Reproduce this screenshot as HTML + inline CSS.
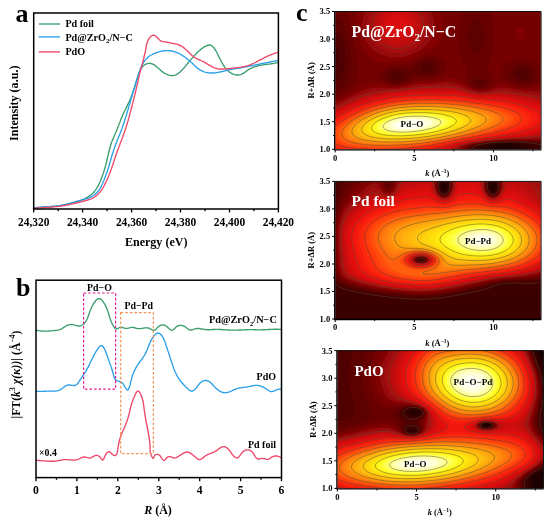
<!DOCTYPE html><html><head><meta charset="utf-8"><title>XANES / EXAFS / wavelet figure</title>
<style>html,body{margin:0;padding:0;background:#fff}svg{display:block}text{font-family:"Liberation Serif","DejaVu Serif",serif;font-weight:bold}</style></head><body>
<svg width="550" height="522" viewBox="0 0 550 522">
<rect width="550" height="522" fill="#fff"/>
<defs><filter id="soft" x="-2%" y="-3%" width="104%" height="106%"><feGaussianBlur stdDeviation="0.7"/></filter></defs>
<g fill="none" stroke-width="1.35" stroke-linejoin="round" stroke-linecap="round">
<path d="M33.5 208.0 L34.5 207.9 L35.5 207.7 L36.5 207.6 L37.5 207.5 L38.5 207.4 L39.5 207.3 L40.5 207.3 L41.5 207.2 L42.5 207.1 L43.5 207.1 L44.5 207.0 L45.5 206.9 L46.5 206.9 L47.5 206.8 L48.5 206.8 L49.5 206.7 L50.5 206.7 L51.5 206.6 L52.5 206.5 L53.5 206.4 L54.5 206.4 L55.5 206.3 L56.5 206.2 L57.5 206.0 L58.5 205.9 L59.5 205.8 L60.5 205.6 L61.5 205.5 L62.4 205.3 L63.4 205.1 L64.4 204.9 L65.4 204.7 L66.4 204.4 L67.3 204.2 L68.3 204.0 L69.3 203.7 L70.3 203.5 L71.2 203.2 L72.2 202.9 L73.2 202.7 L74.1 202.4 L75.1 202.1 L76.1 201.9 L77.0 201.6 L78.0 201.3 L78.9 201.0 L79.9 200.6 L80.8 200.3 L81.8 199.9 L82.7 199.6 L83.6 199.2 L84.5 198.8 L85.5 198.3 L86.4 197.9 L87.2 197.4 L88.1 196.9 L89.0 196.3 L89.8 195.8 L90.6 195.2 L91.4 194.5 L92.1 193.9 L92.8 193.2 L93.5 192.5 L94.2 191.7 L94.8 190.9 L95.4 190.1 L96.0 189.3 L96.6 188.4 L97.1 187.6 L97.6 186.7 L98.1 185.8 L98.6 184.9 L99.0 184.0 L99.5 183.1 L99.9 182.2 L100.3 181.3 L100.7 180.4 L101.0 179.4 L101.4 178.5 L101.8 177.6 L102.1 176.6 L102.4 175.7 L102.8 174.7 L103.1 173.8 L103.4 172.8 L103.7 171.9 L104.0 170.9 L104.3 170.0 L104.6 169.0 L104.9 168.0 L105.2 167.1 L105.4 166.1 L105.7 165.1 L106.0 164.2 L106.2 163.2 L106.5 162.2 L106.7 161.3 L106.9 160.3 L107.2 159.3 L107.4 158.3 L107.6 157.3 L107.8 156.4 L108.0 155.4 L108.3 154.4 L108.5 153.4 L108.7 152.4 L108.9 151.5 L109.2 150.5 L109.4 149.5 L109.7 148.5 L109.9 147.6 L110.2 146.6 L110.5 145.7 L110.8 144.7 L111.1 143.7 L111.4 142.8 L111.8 141.9 L112.1 140.9 L112.5 140.0 L112.9 139.1 L113.3 138.2 L113.7 137.2 L114.1 136.3 L114.5 135.4 L114.9 134.5 L115.3 133.6 L115.7 132.6 L116.1 131.7 L116.5 130.8 L116.9 129.9 L117.2 128.9 L117.6 128.0 L118.0 127.1 L118.3 126.1 L118.7 125.2 L119.1 124.2 L119.4 123.3 L119.8 122.4 L120.1 121.4 L120.5 120.5 L120.8 119.6 L121.2 118.6 L121.6 117.7 L122.0 116.8 L122.4 115.9 L122.8 114.9 L123.2 114.0 L123.6 113.1 L124.0 112.2 L124.5 111.3 L124.9 110.4 L125.4 109.5 L125.8 108.6 L126.3 107.7 L126.7 106.8 L127.2 105.9 L127.6 105.0 L128.0 104.1 L128.5 103.2 L128.9 102.3 L129.3 101.4 L129.7 100.5 L130.1 99.6 L130.5 98.6 L130.9 97.7 L131.2 96.8 L131.6 95.8 L131.9 94.9 L132.3 93.9 L132.6 93.0 L132.9 92.1 L133.2 91.1 L133.6 90.1 L133.9 89.2 L134.2 88.2 L134.5 87.3 L134.8 86.3 L135.1 85.4 L135.3 84.4 L135.6 83.4 L135.9 82.5 L136.2 81.5 L136.5 80.6 L136.8 79.6 L137.1 78.6 L137.4 77.7 L137.7 76.7 L138.0 75.8 L138.3 74.8 L138.7 73.9 L139.0 72.9 L139.4 72.0 L139.8 71.1 L140.2 70.2 L140.7 69.3 L141.2 68.4 L141.8 67.6 L142.4 66.8 L143.1 66.1 L143.9 65.4 L144.7 64.8 L145.5 64.3 L146.5 63.9 L147.4 63.6 L148.5 63.4 L149.5 63.4 L150.5 63.5 L151.5 63.7 L152.4 64.0 L153.3 64.4 L154.2 64.9 L155.1 65.5 L155.9 66.1 L156.7 66.7 L157.4 67.4 L158.2 68.1 L158.9 68.8 L159.7 69.5 L160.4 70.1 L161.1 70.8 L161.9 71.4 L162.7 72.0 L163.5 72.6 L164.4 73.1 L165.3 73.6 L166.2 74.0 L167.1 74.5 L168.0 74.8 L169.0 75.1 L170.0 75.4 L171.0 75.6 L172.0 75.6 L173.0 75.6 L174.0 75.4 L174.9 75.2 L175.9 74.8 L176.8 74.3 L177.7 73.8 L178.5 73.2 L179.3 72.6 L180.1 72.0 L180.8 71.3 L181.5 70.6 L182.2 69.9 L182.9 69.1 L183.6 68.4 L184.2 67.6 L184.9 66.8 L185.5 66.1 L186.1 65.3 L186.8 64.5 L187.4 63.7 L188.0 63.0 L188.7 62.2 L189.3 61.4 L190.0 60.6 L190.6 59.9 L191.3 59.1 L191.9 58.4 L192.6 57.6 L193.2 56.9 L193.9 56.1 L194.6 55.4 L195.3 54.6 L196.0 53.9 L196.7 53.2 L197.4 52.4 L198.1 51.7 L198.8 51.1 L199.5 50.4 L200.3 49.7 L201.1 49.1 L201.9 48.5 L202.7 48.0 L203.5 47.4 L204.4 46.9 L205.3 46.4 L206.2 45.9 L207.2 45.5 L208.2 45.1 L209.1 45.0 L210.1 45.0 L211.0 45.3 L211.8 45.8 L212.6 46.5 L213.4 47.3 L214.1 48.1 L214.7 48.9 L215.3 49.8 L215.8 50.7 L216.3 51.5 L216.8 52.4 L217.2 53.3 L217.7 54.2 L218.1 55.1 L218.5 56.0 L218.9 56.9 L219.4 57.8 L219.8 58.6 L220.2 59.5 L220.7 60.4 L221.2 61.3 L221.7 62.2 L222.2 63.1 L222.7 63.9 L223.2 64.8 L223.8 65.6 L224.3 66.5 L224.9 67.3 L225.5 68.1 L226.2 68.9 L226.8 69.6 L227.5 70.3 L228.3 71.0 L229.0 71.7 L229.9 72.3 L230.7 72.9 L231.6 73.4 L232.5 73.8 L233.4 74.2 L234.4 74.6 L235.4 74.8 L236.4 75.0 L237.4 75.0 L238.4 75.0 L239.4 74.8 L240.4 74.6 L241.3 74.3 L242.3 73.9 L243.1 73.4 L244.0 72.9 L244.8 72.3 L245.6 71.7 L246.4 71.1 L247.3 70.5 L248.1 69.9 L248.9 69.4 L249.8 68.9 L250.7 68.4 L251.6 68.0 L252.5 67.6 L253.4 67.2 L254.4 66.9 L255.3 66.5 L256.3 66.3 L257.3 66.0 L258.2 65.7 L259.2 65.5 L260.2 65.3 L261.2 65.1 L262.2 65.0 L263.2 64.8 L264.2 64.7 L265.2 64.6 L266.2 64.4 L267.2 64.3 L268.1 64.2 L269.1 64.1 L270.1 64.0 L271.1 63.9 L272.1 63.7 L273.1 63.5 L274.1 63.4 L275.1 63.2 L276.1 62.9 L277.0 62.7 L278.0 62.4" stroke="#3a9d6c"/>
<path d="M33.5 208.0 L34.5 207.8 L35.5 207.7 L36.5 207.6 L37.5 207.5 L38.5 207.4 L39.5 207.3 L40.5 207.2 L41.5 207.1 L42.5 207.0 L43.5 207.0 L44.5 206.9 L45.5 206.8 L46.5 206.8 L47.5 206.7 L48.5 206.7 L49.5 206.6 L50.5 206.5 L51.5 206.5 L52.5 206.4 L53.5 206.3 L54.5 206.2 L55.5 206.1 L56.5 206.0 L57.5 205.9 L58.5 205.7 L59.5 205.6 L60.4 205.4 L61.4 205.2 L62.4 205.0 L63.4 204.8 L64.4 204.6 L65.3 204.4 L66.3 204.1 L67.3 203.9 L68.2 203.6 L69.2 203.3 L70.2 203.1 L71.2 202.8 L72.1 202.6 L73.1 202.3 L74.1 202.1 L75.0 201.8 L76.0 201.5 L77.0 201.3 L77.9 201.0 L78.9 200.8 L79.9 200.5 L80.8 200.3 L81.8 200.0 L82.8 199.7 L83.7 199.5 L84.7 199.2 L85.7 198.9 L86.7 198.6 L87.6 198.3 L88.6 198.0 L89.5 197.6 L90.4 197.2 L91.3 196.8 L92.2 196.3 L93.0 195.8 L93.9 195.2 L94.7 194.6 L95.4 193.9 L96.2 193.2 L96.9 192.5 L97.6 191.8 L98.2 191.0 L98.9 190.2 L99.4 189.4 L100.0 188.5 L100.5 187.7 L101.0 186.8 L101.4 185.9 L101.9 185.0 L102.3 184.1 L102.7 183.2 L103.1 182.2 L103.5 181.3 L103.9 180.4 L104.2 179.4 L104.6 178.5 L105.0 177.6 L105.3 176.6 L105.7 175.7 L106.0 174.7 L106.4 173.8 L106.7 172.9 L107.0 171.9 L107.4 171.0 L107.7 170.0 L108.0 169.1 L108.3 168.1 L108.6 167.2 L108.9 166.2 L109.2 165.3 L109.5 164.3 L109.8 163.3 L110.0 162.4 L110.3 161.4 L110.6 160.4 L110.8 159.5 L111.1 158.5 L111.4 157.5 L111.6 156.6 L111.9 155.6 L112.2 154.6 L112.5 153.7 L112.8 152.7 L113.1 151.8 L113.4 150.8 L113.7 149.9 L114.0 148.9 L114.4 148.0 L114.7 147.0 L115.1 146.1 L115.4 145.2 L115.8 144.2 L116.1 143.3 L116.5 142.4 L116.9 141.4 L117.2 140.5 L117.6 139.6 L118.0 138.6 L118.4 137.7 L118.7 136.8 L119.1 135.8 L119.5 134.9 L119.9 134.0 L120.2 133.0 L120.6 132.1 L121.0 131.2 L121.3 130.2 L121.7 129.3 L122.0 128.4 L122.3 127.4 L122.7 126.5 L123.0 125.5 L123.3 124.6 L123.7 123.6 L124.0 122.7 L124.3 121.7 L124.6 120.8 L124.9 119.8 L125.2 118.8 L125.5 117.9 L125.8 116.9 L126.1 116.0 L126.4 115.0 L126.7 114.1 L127.0 113.1 L127.3 112.1 L127.5 111.2 L127.8 110.2 L128.1 109.3 L128.4 108.3 L128.7 107.3 L129.0 106.4 L129.2 105.4 L129.5 104.4 L129.8 103.5 L130.1 102.5 L130.4 101.6 L130.6 100.6 L130.9 99.6 L131.2 98.7 L131.5 97.7 L131.8 96.8 L132.1 95.8 L132.3 94.8 L132.6 93.9 L132.9 92.9 L133.2 91.9 L133.5 91.0 L133.8 90.0 L134.0 89.1 L134.3 88.1 L134.6 87.1 L134.9 86.2 L135.2 85.2 L135.5 84.2 L135.8 83.3 L136.1 82.3 L136.3 81.4 L136.6 80.4 L136.9 79.5 L137.2 78.5 L137.5 77.5 L137.8 76.6 L138.1 75.6 L138.4 74.7 L138.7 73.7 L139.0 72.8 L139.4 71.8 L139.7 70.9 L140.1 69.9 L140.4 69.0 L140.8 68.1 L141.2 67.1 L141.6 66.2 L142.0 65.3 L142.5 64.4 L143.0 63.5 L143.5 62.6 L144.0 61.8 L144.6 60.9 L145.2 60.1 L145.8 59.4 L146.5 58.6 L147.2 57.9 L147.9 57.3 L148.7 56.6 L149.5 56.0 L150.4 55.5 L151.3 55.0 L152.1 54.5 L153.0 54.0 L154.0 53.6 L154.9 53.2 L155.8 52.8 L156.8 52.5 L157.7 52.2 L158.7 51.9 L159.6 51.6 L160.6 51.4 L161.6 51.2 L162.6 51.0 L163.6 50.8 L164.6 50.7 L165.6 50.6 L166.6 50.6 L167.6 50.6 L168.6 50.7 L169.6 50.7 L170.6 50.9 L171.6 51.0 L172.6 51.2 L173.5 51.5 L174.5 51.7 L175.5 52.1 L176.4 52.4 L177.4 52.8 L178.3 53.2 L179.2 53.6 L180.1 54.0 L181.0 54.5 L181.8 55.1 L182.7 55.6 L183.5 56.2 L184.3 56.7 L185.1 57.3 L185.9 57.9 L186.7 58.5 L187.5 59.2 L188.3 59.8 L189.1 60.4 L189.8 61.1 L190.6 61.7 L191.3 62.4 L192.1 63.1 L192.8 63.8 L193.5 64.5 L194.2 65.2 L195.0 65.9 L195.7 66.5 L196.4 67.2 L197.2 67.9 L198.0 68.5 L198.8 69.1 L199.6 69.6 L200.5 70.2 L201.4 70.7 L202.3 71.1 L203.2 71.5 L204.1 71.9 L205.1 72.2 L206.1 72.4 L207.1 72.6 L208.0 72.8 L209.0 72.9 L210.0 73.0 L211.1 73.0 L212.1 73.0 L213.1 73.0 L214.1 72.9 L215.1 72.8 L216.1 72.7 L217.1 72.6 L218.0 72.4 L219.0 72.2 L220.0 72.0 L221.0 71.8 L222.0 71.5 L223.0 71.3 L223.9 71.1 L224.9 70.8 L225.9 70.6 L226.8 70.3 L227.8 70.1 L228.8 69.9 L229.8 69.6 L230.7 69.5 L231.7 69.3 L232.7 69.1 L233.7 69.0 L234.7 68.8 L235.7 68.7 L236.7 68.5 L237.7 68.4 L238.7 68.2 L239.7 68.1 L240.7 67.9 L241.6 67.7 L242.6 67.5 L243.6 67.3 L244.6 67.1 L245.6 66.9 L246.6 66.7 L247.5 66.5 L248.5 66.3 L249.5 66.1 L250.5 65.9 L251.5 65.7 L252.4 65.5 L253.4 65.3 L254.4 65.1 L255.4 64.9 L256.4 64.7 L257.4 64.5 L258.3 64.3 L259.3 64.1 L260.3 63.9 L261.3 63.7 L262.3 63.5 L263.3 63.4 L264.2 63.2 L265.2 63.0 L266.2 62.8 L267.2 62.6 L268.2 62.4 L269.2 62.2 L270.1 62.0 L271.1 61.8 L272.1 61.6 L273.1 61.4 L274.1 61.2 L275.1 61.0 L276.0 60.8 L277.0 60.6 L278.0 60.4" stroke="#2a9fe9"/>
<path d="M33.5 208.4 L34.5 208.3 L35.5 208.2 L36.5 208.1 L37.5 208.0 L38.5 207.9 L39.5 207.9 L40.5 207.8 L41.5 207.7 L42.5 207.7 L43.5 207.6 L44.5 207.5 L45.5 207.5 L46.5 207.4 L47.5 207.3 L48.5 207.3 L49.5 207.2 L50.5 207.1 L51.5 207.1 L52.5 207.0 L53.5 206.9 L54.5 206.8 L55.4 206.7 L56.4 206.6 L57.4 206.5 L58.4 206.4 L59.4 206.3 L60.4 206.1 L61.4 206.0 L62.4 205.9 L63.4 205.7 L64.4 205.5 L65.4 205.4 L66.3 205.2 L67.3 205.0 L68.3 204.8 L69.3 204.6 L70.3 204.4 L71.2 204.2 L72.2 203.9 L73.2 203.7 L74.2 203.5 L75.1 203.3 L76.1 203.0 L77.1 202.8 L78.0 202.5 L79.0 202.3 L80.0 202.0 L80.9 201.8 L81.9 201.5 L82.9 201.3 L83.9 201.0 L84.8 200.8 L85.8 200.5 L86.8 200.3 L87.8 200.0 L88.7 199.7 L89.7 199.4 L90.6 199.1 L91.6 198.7 L92.5 198.3 L93.3 197.8 L94.2 197.3 L95.0 196.7 L95.8 196.1 L96.6 195.5 L97.4 194.8 L98.1 194.1 L98.8 193.4 L99.5 192.6 L100.1 191.9 L100.7 191.1 L101.3 190.3 L101.9 189.4 L102.4 188.6 L103.0 187.7 L103.5 186.9 L104.0 186.0 L104.4 185.1 L104.9 184.2 L105.3 183.3 L105.8 182.4 L106.2 181.5 L106.6 180.6 L107.1 179.7 L107.5 178.8 L107.9 177.9 L108.3 177.0 L108.7 176.0 L109.0 175.1 L109.4 174.2 L109.8 173.3 L110.1 172.3 L110.5 171.4 L110.8 170.5 L111.2 169.5 L111.5 168.6 L111.8 167.6 L112.2 166.7 L112.5 165.7 L112.8 164.8 L113.1 163.8 L113.4 162.9 L113.7 161.9 L114.0 161.0 L114.3 160.0 L114.6 159.1 L115.0 158.1 L115.3 157.2 L115.6 156.2 L115.9 155.3 L116.2 154.3 L116.6 153.4 L116.9 152.4 L117.2 151.5 L117.6 150.6 L117.9 149.6 L118.3 148.7 L118.6 147.7 L119.0 146.8 L119.3 145.9 L119.7 144.9 L120.0 144.0 L120.4 143.1 L120.8 142.1 L121.1 141.2 L121.5 140.3 L121.8 139.3 L122.2 138.4 L122.5 137.5 L122.9 136.5 L123.2 135.6 L123.6 134.6 L123.9 133.7 L124.3 132.8 L124.6 131.8 L124.9 130.9 L125.2 129.9 L125.5 129.0 L125.9 128.0 L126.2 127.1 L126.5 126.1 L126.7 125.2 L127.0 124.2 L127.3 123.2 L127.6 122.3 L127.9 121.3 L128.2 120.4 L128.4 119.4 L128.7 118.4 L129.0 117.5 L129.2 116.5 L129.5 115.5 L129.7 114.6 L130.0 113.6 L130.3 112.6 L130.5 111.7 L130.8 110.7 L131.0 109.7 L131.3 108.8 L131.5 107.8 L131.8 106.8 L132.0 105.8 L132.3 104.9 L132.5 103.9 L132.8 102.9 L133.0 102.0 L133.3 101.0 L133.5 100.0 L133.8 99.1 L134.0 98.1 L134.2 97.1 L134.5 96.1 L134.7 95.2 L135.0 94.2 L135.2 93.2 L135.4 92.3 L135.7 91.3 L135.9 90.3 L136.1 89.3 L136.3 88.4 L136.6 87.4 L136.8 86.4 L137.0 85.4 L137.2 84.5 L137.4 83.5 L137.7 82.5 L137.9 81.5 L138.1 80.6 L138.3 79.6 L138.5 78.6 L138.8 77.6 L139.0 76.6 L139.2 75.7 L139.4 74.7 L139.7 73.7 L139.9 72.8 L140.1 71.8 L140.4 70.8 L140.6 69.8 L140.9 68.9 L141.1 67.9 L141.4 66.9 L141.7 66.0 L141.9 65.0 L142.2 64.0 L142.5 63.1 L142.7 62.1 L143.0 61.1 L143.2 60.2 L143.5 59.2 L143.8 58.2 L144.0 57.3 L144.2 56.3 L144.5 55.3 L144.7 54.4 L144.9 53.4 L145.1 52.4 L145.3 51.4 L145.5 50.4 L145.7 49.5 L145.9 48.5 L146.0 47.5 L146.2 46.5 L146.4 45.5 L146.6 44.5 L146.8 43.6 L147.1 42.6 L147.5 41.7 L147.8 40.7 L148.3 39.8 L148.8 38.9 L149.4 38.1 L150.1 37.2 L150.9 36.4 L151.8 35.8 L152.7 35.3 L153.6 35.2 L154.4 35.4 L155.3 35.8 L156.2 36.5 L157.0 37.3 L157.7 38.1 L158.4 38.8 L159.1 39.5 L159.9 40.2 L160.6 40.7 L161.5 41.1 L162.4 41.4 L163.4 41.7 L164.4 41.8 L165.5 42.0 L166.5 42.1 L167.5 42.3 L168.5 42.5 L169.4 42.7 L170.4 42.9 L171.4 43.1 L172.4 43.3 L173.3 43.5 L174.3 43.7 L175.3 43.9 L176.3 44.1 L177.3 44.4 L178.2 44.7 L179.1 45.0 L180.1 45.4 L181.0 45.9 L181.8 46.4 L182.7 46.9 L183.5 47.5 L184.3 48.1 L185.0 48.7 L185.8 49.4 L186.5 50.1 L187.3 50.8 L188.0 51.5 L188.7 52.2 L189.4 52.9 L190.1 53.6 L190.8 54.4 L191.6 55.0 L192.3 55.7 L193.1 56.3 L193.9 56.9 L194.7 57.5 L195.6 58.0 L196.4 58.4 L197.3 58.9 L198.3 59.3 L199.2 59.7 L200.1 60.1 L201.0 60.5 L201.9 61.0 L202.8 61.4 L203.7 61.9 L204.6 62.4 L205.4 62.9 L206.3 63.4 L207.1 63.9 L208.0 64.4 L208.9 64.9 L209.7 65.4 L210.6 65.9 L211.5 66.4 L212.4 66.9 L213.3 67.4 L214.2 67.8 L215.1 68.1 L216.1 68.4 L217.0 68.7 L218.0 68.8 L219.0 69.0 L220.0 69.0 L221.0 69.1 L222.0 69.1 L223.0 69.0 L224.0 69.0 L225.1 68.9 L226.1 68.9 L227.1 68.8 L228.1 68.7 L229.0 68.6 L230.0 68.5 L231.0 68.3 L232.0 68.2 L233.0 68.1 L234.0 68.0 L235.0 67.9 L236.0 67.8 L237.0 67.7 L238.0 67.6 L239.0 67.4 L240.0 67.3 L241.0 67.2 L241.9 67.0 L242.9 66.8 L243.9 66.6 L244.9 66.4 L245.9 66.1 L246.8 65.9 L247.8 65.6 L248.7 65.3 L249.7 64.9 L250.6 64.6 L251.5 64.2 L252.5 63.8 L253.4 63.4 L254.3 63.0 L255.2 62.5 L256.1 62.1 L257.0 61.6 L257.8 61.1 L258.7 60.7 L259.6 60.2 L260.5 59.7 L261.4 59.3 L262.3 58.8 L263.2 58.3 L264.1 57.9 L265.0 57.4 L265.8 57.0 L266.8 56.6 L267.7 56.2 L268.6 55.7 L269.5 55.3 L270.4 55.0 L271.3 54.6 L272.3 54.2 L273.2 53.9 L274.1 53.5 L275.1 53.2 L276.1 52.9 L277.0 52.7 L278.0 52.4" stroke="#ef4767"/>
</g>
<rect x="33.7" y="13" width="244.7" height="196" fill="none" stroke="#000" stroke-width="1.5"/>
<text x="33.7" y="226.3" font-size="11.6" text-anchor="middle" fill="#000" textLength="31.4" lengthAdjust="spacingAndGlyphs" >24,320</text>
<text x="82.6" y="226.3" font-size="11.6" text-anchor="middle" fill="#000" textLength="31.4" lengthAdjust="spacingAndGlyphs" >24,340</text>
<text x="131.6" y="226.3" font-size="11.6" text-anchor="middle" fill="#000" textLength="31.4" lengthAdjust="spacingAndGlyphs" >24,360</text>
<text x="180.5" y="226.3" font-size="11.6" text-anchor="middle" fill="#000" textLength="31.4" lengthAdjust="spacingAndGlyphs" >24,380</text>
<text x="229.5" y="226.3" font-size="11.6" text-anchor="middle" fill="#000" textLength="31.4" lengthAdjust="spacingAndGlyphs" >24,400</text>
<text x="278.4" y="226.3" font-size="11.6" text-anchor="middle" fill="#000" textLength="31.4" lengthAdjust="spacingAndGlyphs" >24,420</text>
<path d="M33.7 209v3.6M58.2 209v2.2M82.6 209v3.6M107.1 209v2.2M131.6 209v3.6M156.0 209v2.2M180.5 209v3.6M205.0 209v2.2M229.5 209v3.6M253.9 209v2.2M278.4 209v3.6" stroke="#000" stroke-width="1.3" fill="none"/>
<text x="156.2" y="246" font-size="12" text-anchor="middle" fill="#000" textLength="62.4" lengthAdjust="spacingAndGlyphs" >Energy (eV)</text>
<text transform="translate(17.6 103.3) rotate(-90)" font-size="11.6" text-anchor="middle" textLength="75.4" lengthAdjust="spacingAndGlyphs">Intensity (a.u.)</text>
<text x="15.5" y="22" font-size="26" text-anchor="start" fill="#000" >a</text>
<path d="M38.7 24H60" stroke="#3a9d6c" stroke-width="1.35" fill="none"/>
<path d="M38.7 36.9H60" stroke="#2a9fe9" stroke-width="1.35" fill="none"/>
<path d="M38.7 51.9H60" stroke="#ef4767" stroke-width="1.35" fill="none"/>
<text x="65.4" y="27.2" font-size="10.2" text-anchor="start" fill="#000" textLength="28.4" lengthAdjust="spacingAndGlyphs" >Pd foil</text>
<text x="65.4" y="40.6" font-size="10.2">Pd@ZrO<tspan font-size="7" dy="2.5">2</tspan><tspan dy="-2.5">/N−C</tspan></text>
<text x="65.4" y="55" font-size="10.2" text-anchor="start" fill="#000" >PdO</text>
<g fill="none" stroke-width="1.35" stroke-linejoin="round" stroke-linecap="round">
<path d="M36.0 330.0 L37.0 330.3 L38.1 330.5 L39.1 330.7 L40.1 330.8 L41.1 330.9 L42.1 331.0 L43.1 331.1 L44.1 331.1 L45.0 331.1 L46.0 331.1 L47.0 331.1 L48.0 331.1 L49.0 331.0 L50.0 330.9 L51.0 330.9 L52.0 330.8 L53.0 330.7 L54.0 330.6 L55.0 330.5 L56.0 330.4 L57.0 330.3 L58.0 330.1 L59.0 329.9 L59.9 329.6 L60.8 329.2 L61.7 328.8 L62.5 328.2 L63.3 327.6 L64.2 327.1 L65.0 326.5 L65.9 326.0 L66.8 325.5 L67.8 325.1 L68.7 324.8 L69.7 324.6 L70.7 324.6 L71.6 324.6 L72.6 324.7 L73.6 324.9 L74.6 325.1 L75.6 325.4 L76.6 325.7 L77.6 325.9 L78.6 326.0 L79.6 326.0 L80.6 325.9 L81.5 325.5 L82.4 325.0 L83.2 324.4 L84.0 323.7 L84.6 322.9 L85.3 322.1 L85.8 321.3 L86.4 320.4 L86.8 319.5 L87.3 318.6 L87.7 317.7 L88.0 316.7 L88.4 315.8 L88.7 314.8 L89.0 313.9 L89.4 313.0 L89.7 312.1 L90.0 311.1 L90.3 310.3 L90.7 309.4 L91.1 308.5 L91.5 307.6 L91.9 306.7 L92.4 305.8 L92.9 304.8 L93.4 303.9 L94.0 302.9 L94.7 302.0 L95.4 301.1 L96.1 300.2 L96.9 299.5 L97.7 299.0 L98.5 298.7 L99.3 298.6 L100.1 298.9 L100.9 299.4 L101.7 300.0 L102.5 300.9 L103.2 301.8 L103.8 302.8 L104.5 303.7 L105.0 304.7 L105.5 305.6 L106.0 306.6 L106.4 307.5 L106.8 308.4 L107.2 309.4 L107.5 310.3 L107.8 311.2 L108.1 312.1 L108.4 313.0 L108.7 313.9 L108.9 314.8 L109.2 315.7 L109.5 316.6 L109.8 317.5 L110.0 318.4 L110.4 319.3 L110.7 320.2 L111.0 321.2 L111.4 322.1 L111.8 323.0 L112.3 323.9 L112.8 324.9 L113.3 325.8 L113.9 326.8 L114.5 327.7 L115.2 328.5 L116.0 329.0 L116.8 329.0 L117.7 328.6 L118.7 328.0 L119.7 327.5 L120.7 327.3 L121.6 327.3 L122.6 327.5 L123.6 327.8 L124.6 328.1 L125.6 328.3 L126.6 328.4 L127.6 328.3 L128.6 328.1 L129.5 327.8 L130.5 327.6 L131.5 327.4 L132.5 327.4 L133.5 327.5 L134.5 327.7 L135.4 328.0 L136.4 328.3 L137.4 328.5 L138.4 328.6 L139.4 328.6 L140.4 328.6 L141.4 328.4 L142.4 328.3 L143.4 328.1 L144.4 327.9 L145.4 327.8 L146.4 327.8 L147.4 327.9 L148.4 328.0 L149.4 328.3 L150.3 328.8 L151.3 329.3 L152.2 329.9 L153.1 330.3 L154.0 330.4 L154.8 330.2 L155.5 329.6 L156.3 328.9 L157.0 328.0 L157.8 327.2 L158.6 326.5 L159.5 325.9 L160.4 325.4 L161.3 325.1 L162.3 325.0 L163.2 325.0 L164.2 325.2 L165.2 325.5 L166.1 326.0 L167.0 326.6 L167.9 327.4 L168.7 328.2 L169.5 329.0 L170.3 329.7 L171.1 330.2 L171.8 330.4 L172.5 330.2 L173.3 329.7 L174.0 329.0 L174.8 328.2 L175.6 327.4 L176.4 326.7 L177.4 326.1 L178.3 325.7 L179.3 325.5 L180.3 325.4 L181.3 325.4 L182.2 325.6 L183.2 325.9 L184.1 326.3 L185.0 326.7 L185.9 327.3 L186.7 328.0 L187.6 328.7 L188.4 329.3 L189.2 329.7 L190.1 330.0 L191.0 330.0 L192.0 329.9 L192.9 329.6 L193.9 329.2 L195.0 328.9 L196.0 328.6 L197.0 328.5 L198.0 328.4 L199.0 328.5 L200.0 328.6 L201.0 328.8 L202.0 329.0 L202.9 329.2 L203.9 329.4 L204.9 329.5 L205.9 329.6 L206.9 329.7 L207.9 329.7 L208.9 329.7 L209.9 329.7 L210.9 329.6 L211.9 329.6 L212.9 329.5 L213.9 329.5 L214.9 329.4 L216.0 329.4 L217.0 329.4 L218.0 329.4 L219.0 329.4 L220.0 329.5 L221.0 329.5 L222.0 329.6 L223.0 329.7 L224.0 329.7 L225.0 329.8 L226.0 329.9 L227.0 329.9 L228.0 330.0 L229.0 330.0 L230.0 330.1 L231.0 330.1 L232.0 330.1 L233.0 330.1 L234.0 330.1 L235.0 330.1 L236.0 330.1 L237.0 330.1 L238.0 330.1 L239.0 330.0 L240.0 330.0 L241.0 330.0 L242.0 329.9 L243.0 329.9 L244.0 329.8 L245.0 329.8 L246.0 329.7 L247.0 329.7 L248.0 329.6 L249.0 329.6 L250.0 329.6 L251.0 329.6 L252.0 329.6 L253.0 329.6 L254.0 329.7 L255.0 329.7 L256.0 329.7 L257.0 329.8 L258.0 329.8 L259.0 329.8 L260.0 329.8 L261.0 329.8 L262.0 329.8 L263.0 329.7 L264.0 329.7 L265.0 329.7 L266.0 329.6 L267.0 329.6 L268.0 329.5 L269.0 329.5 L270.0 329.4 L271.0 329.4 L272.0 329.3 L273.0 329.3 L274.0 329.2 L275.0 329.2 L276.0 329.2 L277.0 329.2 L278.0 329.2 L279.0 329.3 L280.0 329.3 L281.0 329.4" stroke="#3a9d6c"/>
<path d="M36.0 391.4 L37.0 391.4 L38.0 391.4 L39.0 391.4 L40.0 391.4 L41.0 391.4 L42.0 391.3 L43.0 391.3 L44.0 391.3 L45.0 391.2 L46.0 391.2 L47.0 391.1 L48.0 391.1 L49.0 391.1 L50.0 391.1 L51.0 391.1 L52.0 391.1 L53.0 391.2 L54.0 391.1 L55.0 391.1 L56.0 391.0 L57.0 390.9 L58.0 390.6 L58.9 390.3 L59.8 389.9 L60.7 389.4 L61.5 388.9 L62.4 388.3 L63.2 387.7 L64.0 387.0 L64.8 386.4 L65.7 385.9 L66.6 385.4 L67.5 385.1 L68.5 385.0 L69.5 385.0 L70.5 385.1 L71.6 385.3 L72.6 385.4 L73.6 385.5 L74.5 385.5 L75.4 385.3 L76.2 384.8 L77.0 384.2 L77.6 383.5 L78.3 382.6 L78.9 381.7 L79.5 380.8 L80.1 379.9 L80.7 379.0 L81.2 378.1 L81.8 377.3 L82.4 376.4 L82.9 375.6 L83.5 374.8 L84.1 374.0 L84.6 373.2 L85.1 372.4 L85.7 371.6 L86.2 370.7 L86.7 369.9 L87.1 369.0 L87.6 368.1 L88.1 367.2 L88.5 366.3 L89.0 365.4 L89.4 364.5 L89.9 363.5 L90.3 362.6 L90.7 361.7 L91.1 360.8 L91.6 359.9 L92.0 359.1 L92.4 358.2 L92.8 357.4 L93.2 356.6 L93.6 355.7 L94.1 354.9 L94.6 354.0 L95.1 353.2 L95.6 352.3 L96.1 351.3 L96.8 350.4 L97.4 349.4 L98.1 348.3 L98.8 347.4 L99.6 346.6 L100.3 346.0 L101.1 345.6 L101.8 345.6 L102.5 346.0 L103.1 346.7 L103.7 347.6 L104.3 348.6 L104.9 349.7 L105.3 350.8 L105.8 351.8 L106.2 352.8 L106.6 353.8 L106.9 354.7 L107.2 355.7 L107.5 356.6 L107.8 357.5 L108.1 358.4 L108.4 359.3 L108.7 360.1 L109.0 361.0 L109.3 361.9 L109.6 362.8 L110.0 363.7 L110.3 364.6 L110.6 365.5 L111.0 366.4 L111.3 367.4 L111.6 368.3 L111.9 369.3 L112.2 370.3 L112.5 371.3 L112.8 372.3 L113.1 373.4 L113.4 374.5 L113.6 375.5 L113.9 376.6 L114.3 377.6 L114.7 378.5 L115.2 379.3 L115.8 380.0 L116.6 380.5 L117.5 380.9 L118.5 381.2 L119.5 381.5 L120.4 381.8 L121.3 382.2 L122.1 382.7 L122.7 383.3 L123.3 384.1 L123.9 385.0 L124.4 385.9 L125.0 387.0 L125.6 388.0 L126.2 389.0 L126.9 389.7 L127.5 390.0 L128.0 389.8 L128.5 389.1 L129.0 388.1 L129.4 386.9 L129.8 385.6 L130.2 384.4 L130.5 383.2 L130.7 382.1 L131.0 381.1 L131.2 380.1 L131.5 379.1 L131.7 378.2 L131.9 377.3 L132.2 376.5 L132.4 375.6 L132.7 374.8 L133.0 373.9 L133.4 373.0 L133.8 372.1 L134.2 371.2 L134.6 370.3 L135.1 369.4 L135.6 368.5 L136.0 367.6 L136.6 366.7 L137.1 365.9 L137.6 365.0 L138.2 364.2 L138.7 363.3 L139.3 362.5 L139.9 361.7 L140.4 360.9 L141.1 360.1 L141.7 359.3 L142.3 358.5 L142.9 357.7 L143.4 356.9 L144.0 356.0 L144.5 355.2 L145.0 354.3 L145.5 353.4 L145.9 352.5 L146.3 351.6 L146.7 350.7 L147.1 349.7 L147.5 348.8 L147.9 347.9 L148.2 346.9 L148.6 346.0 L149.0 345.1 L149.3 344.2 L149.7 343.3 L150.1 342.4 L150.5 341.6 L151.0 340.7 L151.4 339.8 L151.9 339.0 L152.5 338.1 L153.1 337.2 L153.7 336.4 L154.4 335.5 L155.2 334.6 L156.0 333.9 L156.8 333.3 L157.7 333.0 L158.5 333.1 L159.4 333.4 L160.2 334.0 L161.0 334.8 L161.7 335.6 L162.4 336.5 L163.0 337.4 L163.5 338.4 L163.9 339.3 L164.3 340.2 L164.7 341.1 L165.0 342.0 L165.3 342.9 L165.6 343.8 L165.9 344.8 L166.2 345.7 L166.5 346.6 L166.8 347.6 L167.2 348.5 L167.5 349.5 L167.8 350.4 L168.1 351.4 L168.4 352.3 L168.8 353.3 L169.1 354.2 L169.4 355.2 L169.7 356.2 L170.0 357.1 L170.3 358.1 L170.6 359.0 L170.9 360.0 L171.2 360.9 L171.6 361.9 L171.9 362.8 L172.2 363.8 L172.5 364.7 L172.8 365.7 L173.1 366.6 L173.5 367.6 L173.8 368.5 L174.2 369.4 L174.5 370.4 L174.9 371.3 L175.3 372.3 L175.8 373.2 L176.2 374.1 L176.6 375.0 L177.1 375.9 L177.6 376.8 L178.1 377.6 L178.6 378.4 L179.2 379.2 L179.7 380.0 L180.3 380.8 L180.9 381.5 L181.5 382.3 L182.2 383.0 L182.8 383.7 L183.5 384.5 L184.2 385.2 L185.0 386.0 L185.7 386.7 L186.5 387.5 L187.4 388.4 L188.2 389.1 L189.0 389.8 L189.9 390.4 L190.7 390.8 L191.6 391.0 L192.4 391.0 L193.2 390.7 L194.0 390.2 L194.7 389.6 L195.5 388.8 L196.2 388.0 L196.9 387.1 L197.6 386.1 L198.3 385.2 L198.9 384.4 L199.6 383.6 L200.3 382.8 L201.0 382.2 L201.8 381.6 L202.7 381.2 L203.6 380.8 L204.6 380.6 L205.6 380.5 L206.6 380.5 L207.6 380.8 L208.5 381.1 L209.3 381.6 L210.2 382.3 L210.9 382.9 L211.7 383.7 L212.4 384.4 L213.1 385.2 L213.8 385.9 L214.4 386.7 L215.1 387.4 L215.8 388.1 L216.5 388.8 L217.3 389.4 L218.1 390.0 L218.9 390.6 L219.8 391.1 L220.7 391.6 L221.7 392.0 L222.6 392.3 L223.6 392.5 L224.6 392.6 L225.6 392.6 L226.6 392.5 L227.6 392.3 L228.6 392.1 L229.5 391.8 L230.5 391.4 L231.4 391.0 L232.3 390.6 L233.2 390.2 L234.1 389.7 L235.1 389.3 L236.0 389.0 L236.9 388.6 L237.9 388.4 L238.8 388.1 L239.8 387.9 L240.8 387.8 L241.8 387.7 L242.8 387.5 L243.8 387.4 L244.8 387.3 L245.8 387.2 L246.8 387.0 L247.8 386.8 L248.8 386.7 L249.7 386.5 L250.7 386.2 L251.7 386.0 L252.7 385.8 L253.7 385.6 L254.7 385.5 L255.7 385.4 L256.7 385.4 L257.7 385.4 L258.7 385.6 L259.6 385.8 L260.6 386.1 L261.6 386.4 L262.5 386.8 L263.4 387.2 L264.3 387.7 L265.1 388.2 L266.0 388.7 L266.8 389.3 L267.7 389.9 L268.5 390.5 L269.4 391.0 L270.3 391.4 L271.2 391.6 L272.2 391.6 L273.1 391.3 L274.1 391.0 L275.1 390.5 L276.1 390.1 L277.1 389.7 L278.1 389.3 L279.1 389.1 L280.1 389.1 L281.0 389.4" stroke="#2a9fe9"/>
<path d="M36.0 460.4 L37.0 460.4 L38.0 460.4 L39.0 460.5 L40.0 460.5 L41.0 460.6 L42.0 460.7 L43.0 460.8 L44.0 460.8 L45.0 460.9 L46.0 461.0 L47.0 461.1 L48.0 461.1 L49.0 461.2 L50.0 461.2 L51.0 461.2 L52.0 461.2 L53.0 461.2 L54.0 461.2 L55.0 461.1 L56.0 461.0 L57.0 460.9 L58.0 460.7 L59.0 460.5 L60.0 460.3 L61.0 460.2 L61.9 460.0 L62.9 459.8 L63.9 459.7 L64.9 459.6 L65.9 459.6 L66.9 459.6 L68.0 459.7 L69.0 459.8 L70.0 459.8 L71.0 459.9 L72.0 460.0 L73.1 460.1 L74.1 460.1 L75.1 460.0 L76.0 459.9 L77.0 459.7 L78.0 459.4 L78.9 459.0 L79.8 458.5 L80.7 458.1 L81.7 457.6 L82.6 457.3 L83.5 457.0 L84.5 457.0 L85.5 457.2 L86.5 457.4 L87.5 457.7 L88.5 457.9 L89.5 458.0 L90.4 457.9 L91.3 457.6 L92.2 457.1 L93.1 456.6 L94.0 456.1 L95.0 455.7 L95.9 455.4 L96.9 455.4 L97.9 455.6 L98.8 456.0 L99.7 456.7 L100.5 457.5 L101.1 458.5 L101.7 459.4 L102.3 459.9 L102.8 460.0 L103.2 459.6 L103.7 458.9 L104.2 457.9 L104.7 456.7 L105.2 455.5 L105.9 454.2 L106.6 453.2 L107.3 452.3 L108.2 451.8 L109.0 451.6 L109.7 451.9 L110.5 452.5 L111.3 453.3 L112.1 454.1 L113.0 454.8 L113.9 455.3 L114.8 455.6 L115.5 455.5 L116.1 455.1 L116.6 454.4 L117.0 453.5 L117.3 452.4 L117.5 451.1 L117.7 449.9 L117.9 448.6 L118.1 447.3 L118.3 446.1 L118.5 445.0 L118.7 443.9 L118.9 442.8 L119.1 441.8 L119.4 440.8 L119.6 439.9 L119.9 439.0 L120.1 438.1 L120.4 437.2 L120.7 436.4 L121.0 435.5 L121.3 434.7 L121.7 433.8 L122.0 432.9 L122.4 432.1 L122.8 431.2 L123.2 430.3 L123.6 429.4 L124.0 428.5 L124.4 427.6 L124.8 426.7 L125.2 425.7 L125.6 424.8 L125.9 423.8 L126.3 422.9 L126.7 421.9 L127.0 420.9 L127.4 419.9 L127.7 418.9 L128.0 418.0 L128.3 417.0 L128.5 416.0 L128.8 415.0 L129.0 414.0 L129.3 413.0 L129.5 412.0 L129.8 411.1 L130.0 410.1 L130.2 409.1 L130.4 408.2 L130.7 407.3 L130.9 406.4 L131.1 405.5 L131.4 404.6 L131.6 403.7 L131.9 402.8 L132.2 402.0 L132.5 401.1 L132.8 400.2 L133.2 399.2 L133.6 398.3 L134.0 397.2 L134.5 396.2 L135.0 395.1 L135.5 394.0 L136.1 392.9 L136.7 391.9 L137.3 391.3 L137.9 391.0 L138.6 391.2 L139.2 391.8 L139.8 392.7 L140.4 393.8 L141.0 394.9 L141.4 396.0 L141.8 397.1 L142.2 398.2 L142.5 399.2 L142.8 400.2 L143.0 401.2 L143.2 402.1 L143.4 403.1 L143.5 404.0 L143.6 404.9 L143.7 405.8 L143.8 406.7 L144.0 407.6 L144.1 408.6 L144.2 409.5 L144.3 410.4 L144.5 411.4 L144.6 412.4 L144.7 413.3 L144.9 414.3 L145.1 415.3 L145.2 416.3 L145.4 417.3 L145.6 418.3 L145.7 419.3 L145.9 420.3 L146.1 421.3 L146.3 422.3 L146.5 423.3 L146.7 424.4 L146.9 425.4 L147.1 426.4 L147.3 427.4 L147.5 428.4 L147.7 429.4 L147.9 430.5 L148.1 431.5 L148.2 432.5 L148.4 433.5 L148.6 434.5 L148.8 435.5 L149.0 436.5 L149.1 437.5 L149.3 438.5 L149.4 439.4 L149.5 440.4 L149.6 441.4 L149.7 442.4 L149.8 443.3 L149.9 444.3 L150.0 445.2 L150.0 446.2 L150.0 447.1 L150.1 448.1 L150.1 449.0 L150.1 450.0 L150.2 450.9 L150.3 451.9 L150.5 452.9 L150.8 453.9 L151.1 454.9 L151.5 456.0 L152.0 457.0 L152.6 458.0 L153.2 458.4 L153.6 457.9 L154.0 456.8 L154.6 455.6 L155.3 454.7 L156.3 454.3 L157.3 454.3 L158.3 454.5 L159.2 455.0 L159.9 455.6 L160.6 456.4 L161.2 457.4 L161.9 458.4 L162.6 459.4 L163.2 460.1 L163.9 460.4 L164.6 460.2 L165.3 459.5 L166.0 458.7 L166.8 457.8 L167.7 457.1 L168.6 456.7 L169.6 456.6 L170.6 456.7 L171.5 457.1 L172.5 457.5 L173.4 457.9 L174.3 458.0 L175.3 457.9 L176.2 457.6 L177.2 457.2 L178.1 456.6 L179.0 456.0 L179.9 455.4 L180.7 454.9 L181.5 454.4 L182.4 453.9 L183.3 453.4 L184.1 452.9 L185.1 452.5 L186.0 452.1 L187.0 452.0 L188.0 452.1 L188.9 452.4 L189.9 452.9 L190.7 453.4 L191.6 454.0 L192.4 454.6 L193.2 455.2 L193.9 455.8 L194.7 456.4 L195.5 457.1 L196.2 457.8 L197.1 458.5 L197.9 459.1 L198.7 459.5 L199.6 459.6 L200.5 459.4 L201.4 458.9 L202.3 458.3 L203.2 457.6 L204.1 456.9 L204.9 456.3 L205.8 455.7 L206.7 455.2 L207.5 454.7 L208.4 454.3 L209.3 453.9 L210.2 453.5 L211.1 453.2 L212.1 452.8 L213.0 452.5 L214.0 452.1 L214.8 451.7 L215.7 451.2 L216.5 450.6 L217.3 450.0 L218.1 449.4 L218.9 448.8 L219.7 448.2 L220.6 447.6 L221.5 447.1 L222.5 446.8 L223.5 446.6 L224.4 446.7 L225.4 447.0 L226.3 447.5 L227.1 448.1 L227.9 448.7 L228.5 449.4 L229.2 450.1 L229.8 450.9 L230.3 451.7 L230.9 452.5 L231.6 453.4 L232.2 454.3 L233.0 455.3 L233.7 456.1 L234.5 456.9 L235.4 457.5 L236.2 457.9 L237.0 458.0 L237.7 457.8 L238.5 457.2 L239.2 456.5 L239.9 455.6 L240.5 454.6 L241.2 453.7 L241.9 452.9 L242.6 452.1 L243.3 451.4 L244.1 450.9 L244.9 450.4 L245.9 450.1 L246.9 449.9 L247.9 449.9 L248.9 450.0 L249.9 450.3 L250.7 450.7 L251.5 451.4 L252.3 452.1 L253.0 452.9 L253.6 453.9 L254.2 454.9 L254.8 455.8 L255.3 456.8 L255.9 457.6 L256.6 458.3 L257.3 458.8 L258.1 459.0 L259.0 459.0 L260.0 458.8 L261.0 458.6 L262.1 458.4 L263.1 458.4 L264.1 458.6 L265.2 458.9 L266.1 459.2 L267.1 459.4 L268.0 459.4 L268.9 459.1 L269.7 458.6 L270.6 458.0 L271.4 457.4 L272.3 456.8 L273.3 456.4 L274.2 456.1 L275.2 456.0 L276.2 456.0 L277.2 456.1 L278.2 456.3 L279.2 456.7 L280.1 457.1 L281.0 457.6" stroke="#ef4767"/>
</g>
<rect x="83.6" y="293" width="32" height="96.2" fill="none" stroke="#e6198c" stroke-width="1.2" stroke-dasharray="2.6 2"/>
<rect x="120.7" y="312.6" width="32.7" height="141" fill="none" stroke="#f39455" stroke-width="1.2" stroke-dasharray="2.6 2"/>
<rect x="36" y="280.2" width="245.5" height="197.40000000000003" fill="none" stroke="#000" stroke-width="1.5"/>
<text x="36.0" y="494.2" font-size="11.6" text-anchor="middle" fill="#000" >0</text>
<text x="76.9" y="494.2" font-size="11.6" text-anchor="middle" fill="#000" >1</text>
<text x="117.8" y="494.2" font-size="11.6" text-anchor="middle" fill="#000" >2</text>
<text x="158.8" y="494.2" font-size="11.6" text-anchor="middle" fill="#000" >3</text>
<text x="199.7" y="494.2" font-size="11.6" text-anchor="middle" fill="#000" >4</text>
<text x="240.6" y="494.2" font-size="11.6" text-anchor="middle" fill="#000" >5</text>
<text x="281.5" y="494.2" font-size="11.6" text-anchor="middle" fill="#000" >6</text>
<path d="M36.0 477.6v3.6M56.5 477.6v2.2M76.9 477.6v3.6M97.4 477.6v2.2M117.8 477.6v3.6M138.3 477.6v2.2M158.8 477.6v3.6M179.2 477.6v2.2M199.7 477.6v3.6M220.1 477.6v2.2M240.6 477.6v3.6M261.0 477.6v2.2M281.5 477.6v3.6" stroke="#000" stroke-width="1.3" fill="none"/>
<text x="158" y="514" font-size="12" text-anchor="middle"><tspan font-style="italic">R</tspan> (Å)</text>
<text transform="translate(19.6 374.5) rotate(-90)" font-size="11.6" text-anchor="middle" textLength="88" lengthAdjust="spacing">|FT(<tspan font-style="italic">k</tspan><tspan font-size="7.5" dy="-5">3</tspan><tspan dy="5" font-style="italic"> χ(κ))</tspan>| (Å<tspan font-size="7.5" dy="-5">−4</tspan><tspan dy="5">)</tspan></text>
<text x="16" y="295.6" font-size="26" text-anchor="start" fill="#000" >b</text>
<text x="87" y="290.6" font-size="10" text-anchor="start" fill="#000" textLength="25" lengthAdjust="spacingAndGlyphs" >Pd−O</text>
<text x="124.4" y="309.4" font-size="10" text-anchor="start" fill="#000" textLength="28.6" lengthAdjust="spacingAndGlyphs" >Pd−Pd</text>
<text x="209" y="323.4" font-size="10.25">Pd@ZrO<tspan font-size="7" dy="2.5">2</tspan><tspan dy="-2.5">/N−C</tspan></text>
<text x="276" y="380.4" font-size="10" text-anchor="end" fill="#000" >PdO</text>
<text x="276" y="447.6" font-size="10" text-anchor="end" fill="#000" >Pd foil</text>
<text x="39" y="456" font-size="9.8" text-anchor="start" fill="#000" >×0.4</text>
<text x="296" y="21.3" font-size="26" text-anchor="start" fill="#000" >c</text>
<clipPath id="cp0"><rect x="0" y="0" width="205.6" height="137.8"/></clipPath>
<g transform="translate(335.2 11.5)"><g clip-path="url(#cp0)">
<g filter="url(#soft)">
<rect x="-3" y="-3" width="211.6" height="143.8" fill="#1e0000"/>
<path d="M-3 -3.0 208.6 -3.0 208.6 140.8 -3 140.8 -3 -3.0ZM159.1 134.6 158 134.7 157.7 136.3 162.1 136.9 166.6 137.1 171.1 136.9 177 136.3 178.3 134.7 174.1 134.1 169.6 133.8 165.1 133.9 159.1 134.6Z" fill="#240000" fill-rule="evenodd"/>
<path d="M-3 -3.0 208.6 -3.0 208.6 140.8 173.7 140.8 173.7 139.3 174.1 137.8 178.6 137.2 183 136.3 183.9 134.7 180.1 133.8 177.1 133.2 169.6 133.0 161.8 133.2 153.4 134.7 152.7 136.3 156.1 137.2 160 137.8 160.3 139.3 160.3 140.8 -3 140.8 -3 -3.0Z" fill="#2a0000" fill-rule="evenodd"/>
<path d="M-3 -3.0 208.6 -3.0 208.6 140.8 181.7 140.8 181.9 137.8 187.8 136.3 188.5 134.7 183.8 133.2 177.1 132.6 171.1 132.4 163.6 132.6 156.2 133.2 150 134.7 149.1 136.3 153.3 137.8 153.5 140.8 -3 140.8 -3 -3.0Z" fill="#2e0000" fill-rule="evenodd"/>
<path d="M-3 -3.0 208.6 -3.0 208.6 140.8 187.4 140.8 187.5 137.8 192.2 136.3 192.7 134.7 189 133.2 186.1 132.8 178.6 132.1 171.1 131.8 163.6 132.1 156.1 132.8 152.5 133.2 147.1 134.7 146 136.3 148.9 137.8 149 140.8 -3 140.8 -3 -3.0Z" fill="#340000" fill-rule="evenodd"/>
<path d="M-3 -3.0 208.6 -3.0 208.6 140.8 192.4 140.8 192.6 137.8 196.5 136.3 196.9 134.7 195.1 133.9 193.7 133.2 186.1 132.0 180.1 131.6 172.6 131.4 162.1 131.7 156.1 132.3 149.4 133.2 144.5 134.7 143.2 136.3 145.4 137.8 145.5 140.8 -3 140.8 -3 -3.0Z" fill="#380000" fill-rule="evenodd"/>
<path d="M-3 -3.0 208.6 -3.0 208.6 140.8 197.4 140.8 197.5 137.8 200.8 136.3 201.2 134.7 198.2 133.2 193.6 132.3 189.1 131.6 181.6 131.1 174.1 131.0 165.1 131.2 157.6 131.6 146.8 133.2 142.1 134.7 140.7 136.3 142.3 137.8 142.3 140.8 -3 140.8 -3 -3.0Z" fill="#3e0000" fill-rule="evenodd"/>
<path d="M-3 -3.0 208.6 -3.0 208.6 134.7 205.6 134.7 203 133.2 198.1 132.1 193.6 131.5 181.6 130.6 169.6 130.6 160.6 131.0 153.1 131.7 144.1 133.3 139.9 134.7 138.4 136.3 139.4 137.8 139.5 140.8 -3 140.8 -3 -3.0ZM205.5 136.3 205.6 135.4 208.6 135.4 208.6 140.8 202.5 140.8 202.6 137.8 205.5 136.3Z" fill="#430000" fill-rule="evenodd"/>
<path d="M-3 -3.0 208.6 -3.0 208.6 132.6 205.6 132.5 201.9 131.7 193.6 130.8 181.6 130.1 166.6 130.3 153.1 131.4 150 131.7 142.1 133.2 137.8 134.7 136.1 136.3 136.7 137.8 136.8 140.8 -3 140.8 -3 55.0 0 55.0 1.5 54.2 3 51.4 3.6 48.5 3.8 45.4 3.6 42.4 3 39.5 1.5 36.5 0 35.6 -3 35.6 -3 -3.0Z" fill="#4f0101" fill-rule="evenodd"/>
<path d="M-3 -3.0 208.6 -3.0 208.6 131.3 205.6 131.3 198.1 130.4 192.1 130.0 178.6 129.7 163.6 130.1 150.1 131.4 147.1 131.8 140 133.2 135.8 134.7 133.9 136.3 134.2 137.8 134.2 140.8 -3 140.8 -3 71.1 0 71.1 1.5 70.8 3 70.0 4.5 68.7 6.1 66.6 7.6 63.6 9.1 59.1 10.2 53.0 10.5 47.0 10.2 40.9 9.3 34.8 7.7 28.8 6 24.6 4.5 22.0 3.8 21.2 3 20.3 1.5 19.2 0 18.7 -3 18.7 -3 -3.0ZM61.5 60.4 60 60.6 58.5 61.2 56.9 62.1 55.8 63.6 55.5 64.9 56.1 66.6 58.1 68.1 60 68.7 61.5 68.8 63 68.7 65.1 68.1 67.4 66.6 68.4 65.1 68.5 63.6 67.5 62.1 66 61.2 64.5 60.6 61.5 60.4ZM88.5 53.0 86.7 54.5 85.9 56.0 85.7 57.5 86.5 59.1 88.5 60.5 90 60.9 91.5 61.0 94.5 60.6 96 59.9 97.2 59.1 98.2 57.5 98.5 56.0 98 54.5 96.6 53.0 96 52.7 94.5 52.1 93 51.9 91.5 52.0 90 52.4 88.5 53.0ZM183.1 59.0 181.2 60.6 180.5 62.1 180.5 63.6 181.1 65.1 183.1 66.9 184.6 67.5 186.1 67.9 187.6 68.0 189.1 67.9 190.6 67.4 192.1 66.7 193.5 65.1 194 63.6 193.9 62.1 193.1 60.6 191.3 59.1 189.1 58.2 187.6 58.0 186.1 58.0 184.6 58.4 183.1 59.0Z" fill="#5b0202" fill-rule="evenodd"/>
<path d="M-3 -3.0 208.6 -3.0 208.6 130.3 205.6 130.3 190.6 129.4 175.6 129.3 160.6 129.9 148.6 131.2 145 131.7 138 133.2 133.8 134.7 131.8 136.3 131.8 140.8 -3 140.8 -3 80.1 0 80.1 3 79.1 4.5 78.3 6.2 77.2 7.9 75.7 9.3 74.2 11.5 71.2 13.5 66.6 14.8 62.1 15.7 56.0 16 50.0 15.6 42.4 14.6 34.8 12.6 25.8 10.4 18.2 9 14.5 7.5 11.3 6 8.9 4.5 7.0 3 5.7 1.5 4.9 0 4.5 -3 4.5 -3 -3.0ZM91.5 48.2 90 48.5 87 49.6 83.9 51.5 82.2 53.0 80.8 54.5 78.6 57.5 78 58.6 76.5 60.1 75 59.8 69 57.8 64.5 57.1 60 57.1 57.8 57.5 55.5 58.3 54 59.1 52.5 60.2 51 62.1 50.5 63.6 50.4 65.1 50.8 66.6 51.9 68.1 52.5 68.7 53.9 69.7 55.5 70.4 58.7 71.2 63 71.2 64.5 71.0 67.5 70.1 68.6 69.7 71.1 68.1 72.9 66.6 74.4 65.1 76.5 62.2 78 61.4 84.9 63.6 90 64.4 94.5 64.2 96.9 63.6 99 62.7 100.2 62.1 102 60.6 103.2 59.1 103.8 57.5 104 56.0 103.9 54.5 103.3 53.0 102 51.3 100.5 50.0 99 49.2 96 48.3 94.5 48.1 91.5 48.2ZM139.6 6.8 138.1 7.7 136.6 9.3 135.1 12.0 134.5 13.7 133.6 16.7 133 19.7 132.7 22.7 132.7 27.3 133 30.3 133.5 33.3 135.1 38.1 136.6 40.7 138.1 42.3 139.6 43.2 141.1 43.5 142.6 43.2 144.1 42.2 145.6 40.5 147.1 37.8 148.5 33.3 149 30.3 149.3 27.3 149.3 22.7 148.8 18.2 148.1 15.2 147.1 12.2 145.6 9.5 144.1 7.7 142.6 6.8 141.1 6.5 139.6 6.8ZM181.6 54.1 178.6 55.6 177.1 56.8 175.3 59.1 174.6 60.6 174.4 62.1 174.5 63.6 175 65.1 176 66.6 177.5 68.1 179.9 69.7 183.1 70.9 186.1 71.5 189.1 71.5 192.1 71.1 195.1 70.0 197.8 68.1 199 66.6 199.8 65.1 200.1 63.6 200.1 62.1 199.8 60.6 199.1 59.1 198.1 57.6 196.4 56.0 193.6 54.5 192.1 53.9 189.1 53.3 186.1 53.3 184.6 53.4 181.6 54.1ZM142.6 66.3 141.1 66.7 139.6 67.7 139.1 68.1 138.3 69.7 138.3 71.2 139.1 72.7 139.6 73.1 141.1 74.2 142.6 74.6 145.6 74.9 148.4 74.2 150.3 72.7 150.8 71.2 150.5 69.7 149.3 68.1 147.1 66.8 145.6 66.4 144.1 66.2 142.6 66.3Z" fill="#670202" fill-rule="evenodd"/>
<path d="M12.7 -3.0 127.6 -3.0 127.6 0.0 125.9 6.1 124.8 12.1 124.2 18.2 123.9 22.7 123.8 28.8 123.9 33.3 124.4 37.9 125.4 43.9 126.3 47.0 127.4 50.0 130.6 56.1 131.7 59.1 132 60.6 131.7 66.6 131.9 68.1 132.4 69.7 133.1 71.2 134.3 72.7 135.9 74.2 138.5 75.7 142.6 76.9 145.6 77.2 147.1 77.1 150.1 76.4 151.9 75.7 154.3 74.2 155.9 72.7 156.9 71.2 157.6 69.7 157.9 68.1 157.8 66.6 157.3 65.1 156.4 63.6 154.2 60.6 153.3 59.1 152.9 57.5 152.9 56.0 153.2 54.5 155.3 48.5 156.8 42.4 157.9 34.8 158.2 28.8 158.2 21.2 157.6 13.7 156.4 6.1 154.7 0.0 154.7 -3.0 208.6 -3.0 208.6 54.7 205.6 54.7 204.1 53.0 202.2 51.5 199.6 50.0 196.6 48.9 193.6 48.2 190.6 47.9 186.1 47.8 183.1 48.1 180.1 48.6 177.1 49.4 174.1 50.6 171.1 52.5 168.9 54.5 167.7 56.0 167 57.5 166.2 60.6 166.3 62.1 166.7 63.6 167.5 65.1 168.9 66.6 170.6 68.1 172.9 69.7 177.1 71.8 180.1 72.9 184.6 73.9 187.6 74.3 190.6 74.3 193.6 74.0 196.6 73.3 198.6 72.7 201.8 71.2 204 69.7 205.6 68.1 208.6 68.1 208.6 129.3 189.1 128.8 174.1 128.9 159.1 129.7 147.1 131.0 142.7 131.7 136 133.2 131.9 134.7 129.8 136.3 129.3 137.8 129.3 140.8 -3 140.8 -3 85.4 0 85.4 4.5 83.7 8 81.8 10.3 80.3 14 77.2 17 74.2 20.4 69.7 21.9 66.6 22.5 65.1 23.5 60.6 23.7 57.5 23.6 54.5 22.9 48.5 21.8 42.4 17.9 25.8 15.7 15.2 12.7 0.0 12.7 -3.0ZM90 45.1 87 46.1 84 47.4 76.5 52.2 73.5 53.5 70.5 53.9 63 53.8 58.5 54.0 54 54.9 50.8 56.0 48 57.6 46.2 59.1 45 60.6 44.3 62.1 44 63.6 44.2 65.1 44.8 66.6 46 68.1 47.7 69.7 50.4 71.2 55.5 72.7 58.5 73.1 61.5 73.1 65.3 72.7 69 71.7 70.6 71.2 76.5 68.4 79.5 67.3 82.5 66.9 90 67.1 94.5 66.9 99 66.1 102 65.1 103.6 64.4 105.2 63.6 107.4 62.1 108.9 60.6 110 59.1 110.8 57.5 111.2 56.0 111.3 54.5 111.1 53.0 110.6 51.5 109.8 50.0 108.5 48.5 106.7 47.0 105.1 45.9 102 44.8 99 44.3 96 44.2 93 44.4 90 45.1Z" fill="#740303" fill-rule="evenodd"/>
<path d="M22.1 -3.0 105.7 -3.0 105.7 0.0 106.7 3.1 107.5 6.1 108.2 10.6 108.3 13.7 108.2 16.7 107.6 21.2 106.9 24.2 105.9 27.3 104.6 30.3 102.6 33.3 101.3 34.8 99.5 36.4 96 38.4 85.5 42.9 76.5 47.5 73.5 48.8 70.5 49.6 67.5 50.0 49.5 50.7 45 50.5 43.5 50.3 40.5 49.5 37.5 48.0 36 47.0 33 44.3 31.5 42.6 30 40.6 28.3 37.9 26.8 34.8 24.9 30.3 22.7 22.7 21.8 18.2 21.3 13.7 21.2 7.6 21.5 3.1 22.1 0.0 22.1 -3.0ZM182.7 16.7 183.1 16.3 184.6 15.6 186.1 15.8 187.6 16.9 188.4 18.2 189 19.7 189.3 22.7 189 24.2 188.4 25.8 187.6 27.1 186.1 28.1 184.6 28.3 183.1 27.7 181.6 25.8 181.1 24.2 180.8 22.7 180.8 21.2 181.1 19.7 181.6 18.1 182.7 16.7ZM110 66.6 114.1 65.9 117.1 65.8 120.1 66.3 121.6 66.8 124.6 68.3 132 74.2 134.4 75.7 138.1 77.3 141.1 78.1 144.1 78.6 148.6 78.4 153.1 77.4 157 75.7 162.1 73.1 165.1 72.3 166.6 72.2 168.1 72.3 171.1 72.9 181.4 75.7 187.6 76.6 190.6 76.8 195.1 76.7 205.6 75.5 208.6 75.5 208.6 128.4 187.6 128.3 172.6 128.6 157.6 129.5 145.6 130.9 140.6 131.7 134.2 133.2 130.1 134.7 127.8 136.3 127 137.8 127 140.8 -3 140.8 -3 89.0 0 89.0 4.5 87.2 12 83.3 21 77.8 25.5 75.3 30 73.2 34.5 72.0 37.5 71.7 40.5 71.8 52.5 74.2 57 74.6 61.5 74.6 64.5 74.4 67.5 73.8 72 72.7 78 70.7 81 70.1 84 69.7 93 69.5 97.5 69.1 103.3 68.1 110 66.6Z" fill="#830505" fill-rule="evenodd"/>
<path d="M29.4 -3.0 96 -3.0 96 0.0 97.3 3.1 98.4 6.1 99.2 10.6 99.4 13.7 99.3 16.7 98.9 19.7 98.1 22.7 97 25.8 95.5 28.8 93.4 31.8 90.5 34.8 88.7 36.4 85.5 38.4 81.1 40.9 76.5 43.1 73.5 44.3 70.5 45.2 67.5 45.8 63 46.1 58.5 46.1 54 45.7 51 45.1 48 44.3 45 43.1 42 41.5 39 39.4 37.2 37.9 34.5 35.1 33 33.2 31.2 30.3 29.6 27.3 28.5 24.2 27.6 21.2 27.1 18.2 26.7 15.2 26.7 12.1 26.9 9.1 27.4 6.1 28.2 3.1 29.4 0.0 29.4 -3.0ZM100.5 71.2 111.1 70.3 115.6 70.4 118.6 70.7 123.1 71.9 126.1 73.2 134 77.2 136.6 78.2 139.6 79.0 144.1 79.7 147.1 79.7 151.6 79.2 153.9 78.7 162.1 76.3 165.1 75.7 168.1 75.6 172.6 76.1 181.6 77.9 187.6 78.8 205.6 80.0 208.6 80.0 208.6 127.5 184.6 127.8 169.6 128.3 156.1 129.3 144.1 130.8 138.6 131.7 133.6 132.9 128.2 134.7 125.7 136.3 124.6 137.8 124.6 140.8 -3 140.8 -3 91.7 0 91.7 8.7 87.8 22.5 81.0 30 78.1 36 76.5 39 76.0 43.5 75.7 57 76.1 63 75.9 69 75.0 78 72.9 82.5 72.2 100.5 71.2Z" fill="#930708" fill-rule="evenodd"/>
<path d="M35.2 -3.0 89.9 -3.0 89.9 0.0 91.6 3.1 92.8 6.1 93.6 9.1 94 12.1 93.9 16.7 93.4 19.7 92.5 22.7 91.2 25.8 89.3 28.8 88.2 30.3 85.5 33.1 83.4 34.8 81 36.5 78 38.2 75 39.6 72 40.6 69 41.4 66 41.9 63 42.1 58.5 41.9 55.5 41.5 52.5 40.8 49.5 39.7 46.5 38.4 42 35.5 39.6 33.3 37.5 31.1 35.8 28.8 34.1 25.8 32.3 21.2 31.7 18.2 31.3 15.2 31.5 10.6 32 7.6 32.9 4.6 35.2 0.0 35.2 -3.0ZM81.8 74.2 87 73.8 106.6 73.0 111.1 72.9 115.6 73.1 120.1 73.7 123.1 74.5 134.5 78.7 139.6 80.1 142.6 80.6 145.6 80.8 150.1 80.6 153.1 80.2 163.6 78.1 168.1 77.9 172.6 78.3 184.6 80.4 199.6 82.3 205.6 83.3 208.6 83.3 208.6 126.5 180.1 127.5 166.6 128.1 153.1 129.3 142.6 130.7 136.6 131.7 132.1 132.8 126.4 134.7 123.7 136.3 122.3 137.8 122.3 140.8 -3 140.8 -3 93.9 0 93.9 22.5 83.6 30 80.9 36 79.3 40.5 78.4 45 77.9 58.5 77.4 64.5 77.0 81.8 74.2Z" fill="#a2080a" fill-rule="evenodd"/>
<path d="M40.1 -3.0 84.9 -3.0 84.9 0.0 86.9 3.1 88.4 6.1 89.3 9.1 89.7 12.1 89.7 16.7 89.1 19.7 88 22.7 86.5 25.8 84.3 28.8 82.8 30.3 79.2 33.3 75 35.7 72 36.9 69 37.7 66 38.3 63 38.5 60 38.4 57 38.0 54 37.3 51 36.2 46.5 33.9 43.8 31.8 42.1 30.3 39.6 27.3 38.6 25.8 37.1 22.7 35.7 18.2 35.3 13.7 35.8 9.1 37.3 4.6 39 1.5 40.1 0.0 40.1 -3.0ZM82.6 75.7 88.5 75.3 105.1 74.9 111.1 74.9 115.6 75.1 118.6 75.4 123.1 76.2 136 80.3 142.6 81.5 145.6 81.7 150.1 81.6 163.6 79.9 166.6 79.7 169.6 79.9 175.6 80.6 196.6 84.1 205.6 85.9 208.6 85.9 208.6 125.5 205.6 125.5 196.6 126.1 163.6 128.0 151.6 129.1 141.1 130.5 134.7 131.7 132.1 132.4 128.8 133.2 124.6 134.7 121.7 136.3 120 137.8 119.9 140.8 -3 140.8 -3 95.7 0 95.7 15 88.8 22.5 85.6 31.5 82.6 37.5 81.0 46.5 79.4 63 78.2 82.6 75.7Z" fill="#b10a0c" fill-rule="evenodd"/>
<path d="M44.7 -3.0 80.3 -3.0 80.3 0.0 82.8 3.1 84.4 6.1 85.5 9.1 86.1 12.1 86.1 15.2 86 16.7 85.3 19.7 84.1 22.7 82.2 25.8 79.5 28.8 77.6 30.3 75 32.0 70.5 33.9 66 35.0 63 35.2 60 35.1 55.5 34.3 51 32.6 47.4 30.3 44.1 27.3 41.8 24.2 41 22.7 39.8 19.7 39.3 18.2 38.9 15.2 38.9 13.7 39.2 10.6 40 7.6 40.6 6.1 42 3.4 44.7 0.0 44.7 -3.0ZM81 77.2 88.5 76.8 100.5 76.4 109.6 76.4 115.6 76.7 123.1 77.7 135.1 80.9 141.1 82.1 144.1 82.4 148.6 82.5 163.6 81.3 169.6 81.5 177.1 82.5 193.6 85.4 205.6 88.1 208.6 88.1 208.6 124.3 205.6 124.3 192.9 125.7 159.1 128.0 147.1 129.3 138.1 130.7 132.9 131.7 127 133.2 122.8 134.7 119.7 136.3 117.6 137.8 117.6 140.8 -3 140.8 -3 97.3 0 97.3 15 90.4 22.5 87.2 31.5 84.2 37.5 82.6 43.5 81.4 48 80.7 64.5 79.1 81 77.2Z" fill="#ba0b0d" fill-rule="evenodd"/>
<path d="M49.6 -3.0 75.4 -3.0 75.4 0.0 77.2 1.5 78.7 3.1 79.8 4.6 81.4 7.6 82.4 10.6 82.7 13.7 82.5 16.7 82.2 18.2 81.1 21.2 79.2 24.2 76.5 27.1 73.5 29.2 71.4 30.3 69 31.2 66 31.9 61.5 32.1 57 31.5 54 30.5 50.7 28.8 48.7 27.3 47.1 25.8 44.8 22.7 43.3 19.7 42.5 16.7 42.3 15.2 42.4 12.1 43 9.1 44.3 6.1 46.5 2.8 49.6 0.0 49.6 -3.0ZM77.3 78.7 85.5 78.1 97.5 77.8 109.6 77.7 117.1 78.1 124.6 79.2 138.1 82.4 144.1 83.2 150.1 83.3 163.6 82.6 171.1 83.1 178.6 84.2 192.1 86.8 199.6 88.5 205.6 90.1 208.6 90.1 208.6 123.1 205.6 123.1 199.3 124.1 189.1 125.3 154.6 128.1 144.1 129.4 136.6 130.6 131.1 131.7 125.3 133.2 120.9 134.7 117.7 136.3 115.2 137.8 115.1 140.8 -3 140.8 -3 98.8 0 98.8 12 93.1 19.5 89.8 27 87.0 37.5 84.0 45 82.4 51 81.5 77.3 78.7Z" fill="#c30c0d" fill-rule="evenodd"/>
<path d="M56.1 -3.0 68.9 -3.0 69 0.0 72 1.5 74.2 3.1 76.5 5.6 77.8 7.6 78.5 9.1 79.2 12.1 79.3 15.2 78.7 18.2 77.3 21.2 75 24.1 73.1 25.8 70.5 27.3 67.5 28.5 64.5 29.0 60 29.0 57 28.3 54 27.1 51 25.1 48.7 22.7 46.9 19.7 46.3 18.2 45.7 15.2 45.8 12.1 46.5 9.1 48.1 6.1 49.3 4.6 50.8 3.1 52.9 1.5 56 0.0 56.1 -3.0ZM72 80.3 82.5 79.4 93 79.0 108.1 78.9 117.1 79.3 123.1 80.0 136.6 82.9 142.6 83.8 150.1 84.1 163.6 83.8 171.1 84.4 180.1 85.8 192.1 88.3 199.6 90.1 205.6 91.9 208.6 92.0 208.6 121.7 205.6 121.7 199.6 123.0 190.6 124.4 150.1 128.3 141.1 129.5 133.6 130.8 129.3 131.7 123.5 133.2 119.1 134.7 115.6 136.3 112.7 137.8 112.7 140.8 -3 140.8 -3 100.2 0 100.2 12 94.3 19.5 91.1 27 88.3 36 85.6 43.5 83.8 51 82.6 72 80.3Z" fill="#cc0d0e" fill-rule="evenodd"/>
<path d="M57.1 3.1 60 2.3 61.5 2.1 64.5 2.2 66 2.5 67.8 3.1 70.5 4.5 72.5 6.1 73.8 7.6 75 10.0 75.7 12.1 75.8 15.2 75.5 16.7 75 18.2 73.5 20.7 72 22.3 70.5 23.5 69 24.4 66 25.5 63 25.9 60 25.8 57 24.9 55.5 24.2 54 23.2 51.9 21.2 50.8 19.7 49.5 16.7 49.2 15.2 49.3 12.1 49.7 10.6 51 7.9 52.5 6.1 54.3 4.6 57.1 3.1ZM84.5 80.3 100.5 79.9 114.1 80.1 123.1 81.0 136.6 83.6 142.6 84.5 148.6 84.8 162.1 84.8 168.1 85.2 177.1 86.5 186.1 88.3 196.6 90.9 205.6 93.7 208.6 93.7 208.6 120.2 205.6 120.2 201.1 121.5 196.3 122.6 186.7 124.1 150.1 128.0 139.6 129.4 130.6 131.1 121.8 133.2 117.2 134.7 110.2 137.8 110.1 140.8 -3 140.8 -3 101.4 0 101.4 13.5 94.8 24 90.5 33 87.5 40.5 85.6 48 84.0 57 82.7 73.5 81.0 84.5 80.3Z" fill="#d50e0e" fill-rule="evenodd"/>
<path d="M60.1 6.1 63 5.8 64.5 6.0 66 6.5 67.5 7.2 69 8.3 69.8 9.1 70.8 10.6 71.4 12.1 71.6 13.7 71.5 15.2 71.1 16.7 70.4 18.2 69.1 19.7 67.5 20.8 66 21.6 64.5 22.0 61.5 22.1 58.5 21.4 56 19.7 54.7 18.2 53.9 16.7 53.5 15.2 53.4 13.7 53.6 12.1 54.2 10.6 55.2 9.1 56.8 7.6 58.5 6.6 60.1 6.1ZM74.5 81.8 82.5 81.2 93 80.9 105.1 80.8 114.1 81.0 118.6 81.4 124.6 82.1 136.6 84.3 142.6 85.1 148.6 85.5 160.6 85.7 166.6 86.1 174.1 87.1 184.6 89.2 196.6 92.3 201.5 93.9 205.6 95.5 208.6 95.5 208.6 118.7 205.6 118.7 198 121.1 192.1 122.5 187.6 123.2 181.5 124.1 145.6 128.2 133.6 130.1 125.8 131.7 120.1 133.2 115.4 134.7 107.6 137.8 107.5 140.8 -3 140.8 -3 102.6 0 102.6 10.5 97.3 19.5 93.2 28.5 89.9 37.5 87.3 45 85.5 52.5 84.2 64.5 82.7 74.5 81.8Z" fill="#db0f0f" fill-rule="evenodd"/>
<path d="M90.9 81.8 105.1 81.7 117.1 82.1 124.6 82.9 136.6 85.0 142.6 85.8 148.6 86.2 160.6 86.6 168.1 87.3 177.1 88.8 187.6 91.1 198.1 94.2 205.6 97.2 208.6 97.2 208.6 117.0 205.6 117.0 201.1 118.8 196.6 120.3 192.1 121.5 186.5 122.6 176.7 124.1 142.6 128.3 132.1 130.1 124.1 131.7 118.3 133.2 113.5 134.7 104.9 137.8 104.8 140.8 -3 140.8 -3 103.8 0 103.8 9 99.0 15 96.1 25.5 91.9 34.5 89.0 42 87.0 51 85.2 63 83.6 76.5 82.4 90.9 81.8Z" fill="#e2100f" fill-rule="evenodd"/>
<path d="M74.6 83.3 84 82.7 96 82.4 108.1 82.5 117.1 82.9 124.6 83.7 142.6 86.4 160.6 87.4 166.6 88.0 174.1 89.3 183.1 91.2 190.6 93.2 196.6 95.1 201.2 96.9 205.6 99.2 208.6 99.2 208.6 115.2 205.6 115.2 201.1 117.4 194.9 119.6 189.4 121.1 182.2 122.6 172.5 124.1 141.1 128.2 130.6 130.0 122.4 131.7 116.5 133.2 102 137.8 101.9 140.8 -3 140.8 -3 104.9 0 104.9 10.5 99.2 18 95.7 25.5 92.8 34.5 89.8 45 87.2 52.5 85.8 64.5 84.2 74.6 83.3Z" fill="#e81110" fill-rule="evenodd"/>
<path d="M90.1 83.3 106.6 83.2 120.1 83.9 124.6 84.4 142.6 87.0 159.1 88.1 165.1 88.7 172.6 89.9 181.6 91.9 189.1 93.9 196.6 96.5 201.1 98.6 203.6 99.9 205.6 101.4 208.6 101.4 208.6 113.0 205.6 113.0 202.4 115.1 199.4 116.6 195.7 118.1 190.6 119.8 183.1 121.6 178.2 122.6 168.6 124.1 138.1 128.3 127.6 130.2 120.7 131.7 114.7 133.2 99 137.8 98.9 140.8 -3 140.8 -3 105.9 0 105.9 6 102.5 12 99.4 22.5 94.7 31.5 91.5 42 88.6 51 86.7 63 85.0 75 83.9 90.1 83.3Z" fill="#ed1210" fill-rule="evenodd"/>
<path d="M67.8 84.8 78 84.0 90 83.5 103.6 83.5 115.6 83.8 124.6 84.7 142.6 87.2 162.1 88.7 172.6 90.3 183.1 92.7 192.1 95.4 196.1 96.9 199.5 98.4 202.3 99.9 204.4 101.4 205.6 102.5 208.6 102.5 208.6 111.9 205.6 111.9 202.6 114.2 198.1 116.6 194.3 118.1 190.6 119.3 184 121.1 176.6 122.6 167.1 124.1 147.1 126.9 133.6 129.0 123.1 131.0 114 133.2 102 136.7 97.8 137.8 97.7 140.8 -3 140.8 -3 106.4 0 106.4 7.5 102.1 16.5 97.6 24 94.5 33 91.4 42 88.9 49.5 87.3 58.5 85.8 67.8 84.8Z" fill="#f01610" fill-rule="evenodd"/>
<path d="M66.5 86.3 76.5 85.5 88.5 85.0 100.5 84.9 112.6 85.2 123.1 85.9 141.1 88.4 157.6 89.9 163.6 90.7 171.1 92.1 180.1 94.2 186.1 96.1 192.2 98.4 196.6 100.8 199.5 103.0 200.7 104.5 201.4 106.0 201.6 107.5 201.2 109.0 200.3 110.5 198.9 112.0 196.8 113.6 194.2 115.1 190.9 116.6 186.8 118.1 182 119.6 176 121.1 168.7 122.6 133.6 128.2 123.1 130.2 116.1 131.7 100.5 135.6 90 137.8 89.8 140.8 -3 140.8 -3 108.7 0 108.7 7.5 104.1 16.5 99.4 24 96.2 33 93.0 42 90.4 49.5 88.8 58.5 87.2 66.5 86.3Z" fill="#f51f10" fill-rule="evenodd"/>
<path d="M89.7 86.3 106.6 86.4 114.1 86.6 121.6 87.2 157.6 91.5 166.6 93.0 172.6 94.4 178.6 96.0 184.6 98.1 188.7 99.9 191.3 101.4 193.2 103.0 194.6 104.5 195.4 106.0 195.6 107.5 195.2 109.0 194.2 110.5 192.6 112.0 190.5 113.6 187.6 115.1 184.1 116.6 179.9 118.1 174.9 119.6 168.9 121.1 161.7 122.6 132.1 127.7 121.6 129.7 94.5 135.6 87 136.9 80 137.8 79.8 139.3 79.8 140.8 6.1 140.8 6 137.8 0 136.4 -3 136.4 -3 111.1 0 111.1 5.1 107.5 10.1 104.5 15 101.8 21 99.0 27 96.5 31.5 94.9 42 91.8 51 89.8 63 87.9 75 86.9 89.7 86.3Z" fill="#fa2710" fill-rule="evenodd"/>
<path d="M79.6 87.8 88.5 87.5 99 87.4 108.1 87.6 117.1 88.1 127.6 89.1 159.1 93.3 166.6 94.8 172.6 96.4 178.7 98.4 182.3 99.9 185.1 101.4 187.3 103.0 188.8 104.5 189.6 106.0 189.8 107.5 189.4 109.0 188.4 110.5 186.7 112.0 184.4 113.6 181.5 115.1 177.8 116.6 168.4 119.6 155.5 122.6 123.1 128.6 97.5 133.9 91.5 135.0 78 136.8 64.3 137.8 63.8 139.3 63.8 140.8 19.9 140.8 19.9 139.3 19.6 137.8 13.5 137.1 8.4 136.3 3 134.9 0 133.7 -3 133.7 -3 113.7 0 113.7 3.8 110.5 8.2 107.5 13.5 104.3 19.5 101.2 27 98.0 36 94.8 46.5 92.0 57 90.0 67.5 88.6 79.6 87.8Z" fill="#ff2f10" fill-rule="evenodd"/>
<path d="M72.2 89.3 81 88.8 91.5 88.6 102 88.6 112.6 89.0 120.1 89.5 127.6 90.3 153.1 93.8 160.6 95.2 166.6 96.7 172.2 98.4 176.1 99.9 179.2 101.4 181.6 103.0 183.1 104.5 184 106.0 184.3 107.5 183.9 109.0 182.8 110.5 181.1 112.0 178.7 113.6 175.6 115.1 171.9 116.6 162.4 119.6 156.6 121.1 142.5 124.1 91.5 133.9 82.5 135.2 75 136.0 63 136.7 51 137.2 40.5 137.3 30 137.0 22.5 136.6 15 135.7 10.2 134.7 6 133.6 3 132.4 0 130.7 -3 130.7 -3 116.7 0 116.7 1.5 115.1 4.8 112.0 8.8 109.0 13.5 106.0 18 103.5 22.2 101.4 31.5 97.6 42 94.3 52.5 91.9 63 90.2 72.2 89.3Z" fill="#ff3f10" fill-rule="evenodd"/>
<path d="M66.6 90.8 75 90.2 85.5 89.7 96 89.6 105.1 89.8 114.1 90.2 121.6 90.8 129.1 91.6 139.6 93.1 150.1 94.7 157.6 96.2 165.1 98.2 169.6 99.7 173.4 101.4 175.9 103.0 177.6 104.5 178.6 106.0 178.9 107.5 178.5 109.0 177.4 110.5 175.7 112.0 173.2 113.6 170.1 115.1 166.3 116.6 156.9 119.6 151.2 121.1 137.7 124.1 94.5 132.5 85.5 133.8 76.5 134.8 66 135.5 55.5 136.0 45 136.2 34.5 136.0 27 135.6 19.2 134.7 12 133.4 7 131.7 4.1 130.2 2.1 128.7 0.9 127.2 0.1 125.7 0 124.9 -3 124.9 -3 122.3 0 122.3 0.9 119.6 1.8 118.1 2.9 116.6 5.8 113.6 11.5 109.0 16.5 105.8 24 102.0 31.5 98.9 40.5 95.9 49.5 93.6 58.5 91.9 66.6 90.8Z" fill="#ff4e10" fill-rule="evenodd"/>
<path d="M81.4 90.8 90 90.6 99 90.7 115.6 91.4 129.1 92.7 146.1 95.4 153.7 96.9 159.5 98.4 164.2 99.9 167.7 101.4 170.4 103.0 172.3 104.5 173.4 106.0 173.7 107.5 173.3 109.0 172.2 110.5 170.4 112.0 168 113.6 164.8 115.1 161.1 116.6 154.6 118.8 146.2 121.1 133.2 124.1 111.1 128.6 96 131.3 87 132.7 76.5 133.8 66 134.5 55.5 135.0 45 135.1 34.5 134.8 25.5 134.1 19.1 133.2 12.8 131.7 9 130.3 7.5 129.4 6.3 128.7 4.7 127.2 3.7 125.7 3.2 124.1 3.1 122.6 3.3 121.1 3.8 119.6 5.7 116.6 8.4 113.6 10.1 112.0 14.1 109.0 19.5 105.7 27 101.9 34.5 98.9 43.5 96.1 52.5 94.0 61.5 92.4 70.5 91.4 81.4 90.8Z" fill="#ff5e10" fill-rule="evenodd"/>
<path d="M71 92.4 87 91.6 103.6 91.7 118.6 92.7 126.1 93.5 133.6 94.5 146.9 96.9 153.3 98.4 158.3 99.9 162.2 101.4 165 103.0 167.1 104.5 168.2 106.0 168.6 107.5 168.3 109.0 167.2 110.5 165.4 112.0 162.9 113.6 159.8 115.1 151.8 118.1 141.5 121.1 128.8 124.1 114 127.2 100.5 129.7 91.5 131.1 81 132.5 72 133.2 61.5 133.8 51 134.1 40.5 134.0 31.5 133.5 24 132.6 18 131.4 13.5 130.0 10.5 128.6 8.5 127.2 7.2 125.7 6.4 124.1 6.1 122.6 6.2 121.1 6.6 119.6 8.3 116.6 9.5 115.1 12.6 112.0 18 108.1 24 104.7 30 101.9 37.5 99.0 46.5 96.4 54 94.7 63 93.2 71 92.4Z" fill="#ff6d10" fill-rule="evenodd"/>
<path d="M64.9 93.9 72 93.2 79.5 92.8 96 92.5 105.1 92.8 112.6 93.2 120.1 93.9 127.6 94.8 141.1 97.1 147.1 98.4 153.1 100.1 156.7 101.4 160.6 103.5 161.9 104.5 163.2 106.0 163.7 107.5 163.4 109.0 162.4 110.5 160.6 112.0 158.1 113.6 155 115.1 147.2 118.1 138.1 120.8 131.2 122.6 117.5 125.7 103.6 128.3 94.5 129.8 84 131.3 75 132.1 64.5 132.8 54 133.1 43.5 133.0 34.5 132.6 27 131.7 21 130.6 16.5 129.2 15 128.6 12.4 127.2 10.7 125.7 9.7 124.1 9.2 122.6 9.1 121.1 9.4 119.6 10 118.1 10.9 116.6 13.4 113.6 17 110.5 21.4 107.5 27 104.5 34.5 101.2 42 98.6 49.5 96.6 57 95.0 64.9 93.9Z" fill="#ff7c10" fill-rule="evenodd"/>
<path d="M74.9 93.9 90 93.4 105.1 93.7 120.1 94.9 133.6 96.9 141 98.4 146.8 99.9 151.2 101.4 154.6 103.0 156.9 104.5 158.3 106.0 158.9 107.5 158.7 109.0 157.7 110.5 155.9 112.0 153.5 113.6 146.9 116.6 138.1 119.6 129.1 122.1 120.5 124.1 108.1 126.7 97.5 128.5 88.5 129.9 79.5 130.9 70.5 131.6 60 132.0 51 132.2 42 132.0 34.5 131.4 27 130.4 21 129.0 16.5 127.2 14.3 125.7 12.9 124.1 12.2 122.6 11.9 121.1 12.1 119.6 12.6 118.1 13.4 116.6 15.9 113.6 19.4 110.5 23.9 107.5 29.6 104.5 36 101.7 43.5 99.2 51 97.2 58.5 95.7 66 94.6 74.9 93.9Z" fill="#ff8a10" fill-rule="evenodd"/>
<path d="M66.9 95.4 73.5 94.8 81 94.4 90 94.3 97.5 94.4 112.6 95.2 126.1 96.8 133.6 98.1 139.6 99.5 145.9 101.4 148.6 102.6 152 104.5 153.6 106.0 154.2 107.5 154.1 109.0 153.1 110.5 151.5 112.0 149.1 113.6 146.2 115.1 138.5 118.1 130.6 120.6 122.9 122.6 111.1 125.3 100.5 127.2 91.5 128.6 82.5 129.8 73.5 130.5 64.5 131.0 55.5 131.2 46.5 131.1 39 130.7 31.5 129.9 25.5 128.7 21 127.3 18 125.7 16.2 124.1 15.2 122.6 14.8 121.1 14.8 119.6 15.2 118.1 15.9 116.6 18.3 113.6 21.7 110.5 26.3 107.5 32.2 104.5 37.5 102.2 44.3 99.9 51 98.1 58.5 96.6 66.9 95.4Z" fill="#ff9910" fill-rule="evenodd"/>
<path d="M78.5 95.4 91.5 95.1 105.1 95.6 117.1 96.6 128.7 98.4 136.6 100.2 140.6 101.4 144.5 103.0 147.2 104.5 148.9 106.0 149.7 107.5 149.6 109.0 148.8 110.5 147.2 112.0 144.9 113.6 142 115.1 134.5 118.1 126.1 120.7 118.9 122.6 108.1 125.0 97.5 126.9 88.5 128.2 79.5 129.2 70.5 129.9 61.5 130.3 52.5 130.3 45 130.1 37.5 129.5 31.5 128.7 25.5 127.2 21.8 125.7 19.5 124.0 18.3 122.6 17.6 121.1 17.5 119.6 17.7 118.1 18.4 116.6 19.4 115.1 20.7 113.6 24.1 110.5 28.8 107.5 34.8 104.5 40.5 102.2 48 99.8 55.5 98.0 63 96.7 70.5 95.9 78.5 95.4Z" fill="#ffa610" fill-rule="evenodd"/>
<path d="M68.5 96.9 75 96.4 82.5 96.1 96 96.1 109.6 96.9 121.6 98.3 130.6 100.1 135.4 101.4 139.5 103.0 142.5 104.5 144.3 106.0 145.2 107.5 145.3 109.0 144.5 110.5 143 112.0 140.8 113.6 138 115.1 130.5 118.1 123.1 120.5 114.8 122.6 100.1 125.7 91.5 127.0 82.5 128.1 75 128.8 66 129.3 57 129.5 49.5 129.4 42 128.9 36 128.2 30.7 127.2 26 125.7 23.2 124.1 21.5 122.6 20.5 121.1 20.2 119.6 20.3 118.1 20.9 116.6 21.8 115.1 24.6 112.0 28.7 109.0 33 106.5 37.5 104.4 43.5 102.2 49.5 100.3 55.5 98.9 61.5 97.8 68.5 96.9Z" fill="#ffb210" fill-rule="evenodd"/>
<path d="M82.7 96.9 90 96.8 97.5 97.0 105.1 97.4 112.6 98.2 118.6 99.0 124.6 100.1 130.1 101.4 134.6 103.0 137.8 104.5 139.8 106.0 140.9 107.5 141 109.0 140.4 110.5 138.9 112.0 136.8 113.6 134 115.1 130.7 116.6 123.1 119.3 116.8 121.1 110.7 122.6 102 124.4 93 126.0 84 127.2 76.5 127.9 67.5 128.4 58.5 128.6 51 128.5 43.5 128.0 36.9 127.2 31.5 126.0 28.5 124.9 26.9 124.1 25.5 123.2 24.7 122.6 23.5 121.1 22.9 119.6 22.9 118.1 23.4 116.6 24.2 115.1 25.4 113.6 28.8 110.5 31.1 109.0 36 106.3 40.1 104.5 44.1 103.0 49.5 101.3 54.9 99.9 60 98.9 70.5 97.5 82.7 96.9Z" fill="#ffbe10" fill-rule="evenodd"/>
<path d="M69.9 98.4 82.5 97.7 94.5 97.8 106.6 98.5 117.1 99.9 126.1 101.8 129.6 103.0 133.1 104.5 135.4 106.0 136.6 107.5 136.9 109.0 136.3 110.5 135 112.0 132.9 113.6 130.2 115.1 126.9 116.6 120.1 119.0 112.9 121.1 106.6 122.6 99 124.1 91.5 125.4 84 126.3 76.5 127.1 69 127.5 60 127.7 52.5 127.6 46.5 127.3 40.5 126.6 35.6 125.7 30.9 124.1 28.2 122.6 26.6 121.1 25.8 119.6 25.6 118.1 25.9 116.6 26.7 115.1 27.8 113.6 29.3 112.0 33 109.3 36.1 107.5 40.5 105.4 46.5 103.2 52.5 101.4 58.5 100.0 64.5 99.0 69.9 98.4Z" fill="#ffca10" fill-rule="evenodd"/>
<path d="M64.3 99.9 73.5 99.0 87 98.5 99 98.9 110.1 99.9 118.9 101.4 124.6 103.0 127.6 104.1 131 106.0 132.4 107.5 132.8 109.0 132.4 110.5 131.1 112.0 129.1 113.6 126.4 115.1 123.1 116.6 119.1 118.1 112.6 120.1 106.6 121.7 99 123.2 91.5 124.5 84 125.5 70.5 126.6 63 126.9 55.5 126.8 49.5 126.5 43.5 125.9 39 125.1 35.4 124.1 31.8 122.6 29.8 121.1 28.7 119.6 28.3 118.1 28.5 116.6 29.2 115.1 30.3 113.6 31.8 112.0 33.6 110.5 35.9 109.0 38.7 107.5 43.5 105.3 48 103.7 54 102.0 58.5 100.9 64.3 99.9Z" fill="#ffd510" fill-rule="evenodd"/>
<path d="M71.8 99.9 82.5 99.4 93 99.5 102 100.1 111.1 101.2 119.3 103.0 123.7 104.5 126.6 106.0 128.2 107.5 128.8 109.0 128.4 110.5 127.3 112.0 125.3 113.6 122.7 115.1 119.4 116.6 115.3 118.1 110.5 119.6 104.6 121.1 97.5 122.6 84 124.7 70.5 125.8 63 126.0 57 125.9 51 125.6 45 125.0 40.5 124.1 35.8 122.6 33.2 121.1 31.7 119.6 31.1 118.1 31.2 116.6 31.7 115.1 32.7 113.6 34.2 112.0 37.5 109.6 41.3 107.5 44.6 106.0 49.5 104.2 54 102.9 60 101.5 66 100.5 71.8 99.9Z" fill="#ffe010" fill-rule="evenodd"/>
<path d="M65.8 101.4 75 100.6 87 100.3 97.5 100.7 106.6 101.7 114.1 103.1 118.8 104.5 121.6 105.7 123.9 107.5 124.7 109.0 124.5 110.5 123.4 112.0 121.6 113.6 118.9 115.1 115.6 116.6 111.4 118.1 106.4 119.6 100.2 121.1 93 122.5 81 124.2 69 125.0 57 125.0 52.5 124.7 47.2 124.1 43.5 123.5 40.3 122.6 36.9 121.1 35 119.6 34.1 118.1 33.9 116.6 34.3 115.1 35.3 113.6 36.7 112.0 38.7 110.5 41.1 109.0 44 107.5 47.5 106.0 51.9 104.5 57 103.1 65.8 101.4Z" fill="#ffea10" fill-rule="evenodd"/>
<path d="M75 101.4 84 101.2 93 101.4 100.5 102.0 107.2 103.0 113.5 104.5 117.4 106.0 119.6 107.5 120.6 109.0 120.5 110.5 119.6 112.0 117.8 113.6 115.2 115.1 111.7 116.6 107.5 118.1 102.2 119.6 95.5 121.1 90 122.1 78 123.6 66 124.2 55.5 123.9 51 123.5 46.5 122.8 43.5 122.0 40.9 121.1 38.4 119.6 37.2 118.1 36.8 116.6 37.1 115.1 38 113.6 39.4 112.0 41.3 110.5 43.8 109.0 46.8 107.5 50.6 106.0 55.5 104.5 64.5 102.5 69 101.9 75 101.4Z" fill="#fff41c" fill-rule="evenodd"/>
<path d="M68.1 103.0 76.5 102.3 85.5 102.1 94.5 102.5 102 103.4 107.8 104.5 112.4 106.0 115.1 107.5 116.4 109.0 116.5 110.5 115.7 112.0 113.9 113.6 111.3 115.1 107.8 116.6 103.3 118.1 99 119.2 90.1 121.1 79.5 122.5 69 123.2 58.5 123.1 51 122.3 45.7 121.1 42 119.5 40.5 118.1 39.8 116.6 40 115.1 40.7 113.6 42.1 112.0 44.1 110.5 46.6 109.0 49.9 107.5 54 106.0 58.5 104.7 63 103.8 68.1 103.0Z" fill="#fffe2d" fill-rule="evenodd"/>
<path d="M64.6 104.5 72 103.5 81 103.1 90 103.3 97.5 104.0 103.6 105.0 108.1 106.4 110.4 107.5 111.1 108.1 112 109.0 112.3 110.5 111.6 112.0 109.9 113.6 107.2 115.1 103.6 116.6 99 118.0 92.5 119.6 83.4 121.1 73.5 122.0 64.5 122.2 55.5 121.7 51.7 121.1 49.5 120.6 46.6 119.6 45 118.7 44.1 118.1 43.1 116.6 43 115.1 43.7 113.6 45 112.0 47 110.5 51 108.4 53.2 107.5 57.9 106.0 64.6 104.5Z" fill="#ffff56" fill-rule="evenodd"/>
<path d="M73 104.5 79.5 104.2 87 104.3 91.5 104.5 97.5 105.3 100.8 106.0 105.2 107.5 107.3 109.0 107.9 110.5 107.3 112.0 105.7 113.6 102.9 115.1 99.1 116.6 94.5 117.9 87 119.5 78 120.7 70.5 121.1 63 121.1 55.5 120.4 52 119.6 49.5 118.7 48.3 118.1 46.7 116.6 46.3 115.1 46.9 113.6 48.2 112.0 50.2 110.5 52.5 109.3 57 107.5 64.5 105.6 73 104.5Z" fill="#ffff83" fill-rule="evenodd"/>
<path d="M69.2 106.0 75 105.5 81 105.3 87 105.5 92.2 106.0 99.1 107.5 102.1 109.0 103.1 110.5 102.7 112.0 101.1 113.6 98.2 115.1 94 116.6 87.9 118.1 79.5 119.4 73.5 119.9 66 120.0 60 119.6 55.5 118.7 53.4 118.1 52.5 117.6 50.9 116.6 50.1 115.1 50.4 113.6 51.7 112.0 53.8 110.5 56.9 109.0 61.5 107.5 69.2 106.0Z" fill="#ffffb0" fill-rule="evenodd"/>
<path d="M67.9 107.5 73.5 106.9 79.5 106.7 85.5 106.9 90 107.4 93 108.0 95.9 109.0 97.7 110.5 97.6 112.0 96 113.6 92.9 115.1 87.9 116.6 82.5 117.6 76.5 118.4 70.5 118.7 66 118.6 61 118.1 58.5 117.5 56.1 116.6 54.5 115.1 54.5 113.6 55.7 112.0 58 110.5 61.7 109.0 67.9 107.5Z" fill="#ffffd8" fill-rule="evenodd"/>
<path d="M68.9 109.0 73.5 108.5 78 108.3 82.5 108.5 85.5 108.8 87 109.0 90.8 110.5 91.3 112.0 89.7 113.6 85.9 115.1 79.5 116.4 72 117.0 67.5 116.9 64.5 116.6 63 116.2 60.3 115.1 59.6 113.6 60.7 112.0 63.5 110.5 68.9 109.0Z" fill="#fffff2" fill-rule="evenodd"/>
</g>
<path d="M208.6 133.6 205.6 133.6 205 133.2 202.6 132.6 196.6 131.5 190.6 130.9 183.1 130.5 175.6 130.3 168.1 130.5 160.6 130.9 154.6 131.4 150.1 132.0 143.4 133.2 139.1 134.7 137.5 136.3 138.3 137.8 138.4 140.8M204.7 140.8 204.8 137.8 205.6 137.3 208.6 137.3M83.1 -3.0 83.1 0.0 84.3 1.5 86.1 4.6 87.3 7.6 88 10.6 88.3 13.7 88.1 16.7 87.5 19.7 86.4 22.7 84.7 25.8 82.3 28.8 79.5 31.3 76.6 33.3 73.5 34.9 70.5 36.0 67.5 36.7 63 37.1 58.5 36.9 55.5 36.3 52.5 35.4 49.5 34.0 46.5 32.2 43.5 29.7 41.4 27.3 39.4 24.2 38 21.2 37.2 18.2 36.8 15.2 36.8 12.1 37.3 9.1 38.3 6.1 39.8 3.1 41.9 0.0 42 -3.0M-3 96.4 0 96.4 13.5 90.1 21 86.9 30 83.7 39 81.4 43.5 80.5 48 79.9 63 78.7 79.5 76.6 87 76.0 106.6 75.5 112.6 75.6 117.1 75.9 120.1 76.3 123.1 76.9 127.6 78.1 134.6 80.3 138.1 81.1 141.1 81.6 144.1 81.9 147.1 82.0 151.6 81.9 163.6 80.5 166.6 80.4 169.6 80.5 175.6 81.3 193.6 84.3 199.6 85.4 205.6 86.8 208.6 86.8M208.6 125.0 205.6 125.0 196.6 125.8 162.1 128.0 150.1 129.2 139.6 130.7 134 131.7 129.1 133.0 123.8 134.7 120.9 136.3 119 137.8 119 140.8M-3 106.4 0 106.4 5.9 103.0 12 99.8 16.5 97.6 24 94.5 33 91.4 42 88.9 52.5 86.8 64.5 85.1 78 84.0 91.5 83.5 106.6 83.5 118.6 84.0 124.6 84.7 142.6 87.2 160.6 88.6 168.1 89.5 174.1 90.6 180.1 92.0 186.1 93.5 190.6 94.9 196.1 96.9 199.5 98.4 202.3 99.9 204.4 101.4 205.6 102.5 208.6 102.5M208.6 111.9 205.6 111.9 203.6 113.6 202.6 114.2 198.1 116.6 194.3 118.1 190.6 119.3 184 121.1 176.6 122.6 167.1 124.1 147.1 126.9 133.6 129.0 123.1 131.0 114 133.2 102 136.7 97.8 137.8 97.7 140.8M-3 115.3 0 115.3 3.5 112.0 7.6 109.0 12.3 106.0 17.8 103.0 25.5 99.4 34.5 96.0 39 94.6 45 93.0 51 91.7 57 90.6 63 89.7 69 89.1 81 88.4 90 88.1 99 88.1 108.1 88.3 117.1 88.8 130.6 90.1 150.1 92.8 157.6 94.0 163.6 95.2 169.6 96.7 175 98.4 178.8 99.9 181.7 101.4 184 103.0 185.5 104.5 186.4 106.0 186.6 107.5 186.2 109.0 185.2 110.5 183.5 112.0 181.1 113.6 178.1 115.1 174.4 116.6 170 118.1 164.9 119.6 157.6 121.5 144.7 124.1 121.6 128.4 96 133.6 84 135.5 75 136.4 66 137.1 55.5 137.5 43.8 137.8 42 138.3 40.5 138.4 39 138.2 38.1 137.8 25.5 137.4 19.5 136.9 15 136.4 10.5 135.6 6 134.5 2.3 133.2 0 132.1 -3 132.1M72.8 92.4 81 91.9 88.5 91.7 97.5 91.7 105.1 91.9 112.6 92.4 120.1 93.0 127.6 93.8 135.1 94.9 142.6 96.2 148.6 97.5 154.6 99.0 159.1 100.5 161.4 101.4 164.3 103.0 166.3 104.5 167.5 106.0 167.9 107.5 167.6 109.0 166.5 110.5 164.7 112.0 162.2 113.6 159.1 115.1 151.1 118.1 140.9 121.1 128.2 124.1 113.4 127.2 100.5 129.6 90 131.2 81 132.3 72 133.1 61.5 133.7 51 133.9 40.5 133.8 31.5 133.3 24 132.4 18 131.2 13.5 129.7 11.3 128.7 9.1 127.2 7.5 125.3 6.9 124.1 6.6 122.6 6.6 121.1 7 119.6 7.7 118.1 8.7 116.6 9.9 115.1 13 112.0 14.9 110.5 18 108.3 21.9 106.0 24.7 104.5 31.5 101.4 39 98.7 46.5 96.5 55.5 94.5 64.5 93.1 72.8 92.4M74 95.4 81 95.0 88.5 94.9 102 95.2 109.6 95.6 115.6 96.2 121.6 96.9 127.6 97.9 137.1 99.9 142.1 101.4 145.9 103.0 148.6 104.5 150.2 106.0 151 107.5 150.9 109.0 150 110.5 148.4 112.0 146.1 113.6 143.2 115.1 139.7 116.6 135.6 118.1 127.6 120.6 120 122.6 109.6 124.9 99 126.9 90 128.3 81 129.3 72 130.0 63 130.5 54 130.6 45 130.4 37.5 129.8 31.5 129.0 27 128.1 24.1 127.2 22.5 126.5 20.7 125.7 19.5 124.8 18.6 124.1 17.4 122.6 16.8 121.1 16.7 119.6 17 118.1 17.7 116.6 18.7 115.1 20 113.6 23.4 110.5 28.1 107.5 33 105.0 39 102.4 45 100.4 51 98.8 58.5 97.2 66 96.1 74 95.4M72.9 98.4 84 97.9 94.5 98.0 105.1 98.7 115.6 100.0 121.6 101.1 124.6 101.9 128.2 103.0 131.8 104.5 134.1 106.0 135.4 107.5 135.7 109.0 135.2 110.5 133.9 112.0 131.8 113.6 129.1 115.1 125.8 116.6 118.6 119.2 111.7 121.1 105.3 122.6 97.6 124.1 90 125.3 82.5 126.3 75 126.9 67.5 127.3 60 127.5 52.5 127.4 46.5 127.0 40.5 126.3 36 125.4 32.1 124.1 29.2 122.6 27.5 121.1 26.6 119.6 26.4 118.1 26.6 116.6 27.4 115.1 28.5 113.6 30 112.0 33 109.8 36.9 107.5 42 105.1 48 103.0 54 101.3 60 100.0 66 99.1 72.9 98.4M73 101.4 82.5 101.1 91.5 101.2 100.5 101.8 108.2 103.0 114.3 104.5 118 106.0 120.2 107.5 121.2 109.0 121.1 110.5 120.1 112.0 118.3 113.6 115.7 115.1 112.3 116.6 108 118.1 102.8 119.6 96.2 121.1 91.5 122.0 85.5 122.9 79.5 123.6 73.5 124.0 67.5 124.3 61.5 124.3 55.5 124.1 51 123.7 46.5 123.0 43.5 122.3 40.3 121.1 37.9 119.6 36.7 118.1 36.4 116.6 36.7 115.1 37.6 113.6 39 112.0 40.9 110.5 43.5 108.9 46.5 107.5 52.5 105.2 57 103.9 61.5 102.9 67.5 102.0 73 101.4M64.9 106.0 70.5 105.2 78 104.7 85.5 104.7 91.5 105.1 97.6 106.0 102.7 107.5 105.2 109.0 105.9 110.5 105.4 112.0 103.8 113.6 101 115.1 97 116.6 90 118.4 82.5 119.7 73.5 120.5 66 120.7 58.5 120.2 54.9 119.6 52.5 118.9 50.4 118.1 48.4 116.6 47.9 115.1 48.3 113.6 49.6 112.0 51.7 110.5 54.7 109.0 58.8 107.5 64.9 106.0" fill="none" stroke="#504a30" stroke-opacity="0.75" stroke-width="0.65"/>
</g></g>
<path d="M334.7 11.5V149.8H541.4" stroke="#000" stroke-width="1.3" fill="none"/>
<path d="M334.7 11.5H541.0999999999999V149.3" stroke="#000" stroke-width="0.9" fill="none"/>
<text x="330.2" y="14.4" font-size="8.5" text-anchor="end" fill="#000" >3.5</text>
<text x="330.2" y="42.0" font-size="8.5" text-anchor="end" fill="#000" >3.0</text>
<text x="330.2" y="69.5" font-size="8.5" text-anchor="end" fill="#000" >2.5</text>
<text x="330.2" y="97.1" font-size="8.5" text-anchor="end" fill="#000" >2.0</text>
<text x="330.2" y="124.6" font-size="8.5" text-anchor="end" fill="#000" >1.5</text>
<text x="330.2" y="152.2" font-size="8.5" text-anchor="end" fill="#000" >1.0</text>
<text x="335.2" y="160.7" font-size="8.5" text-anchor="middle" fill="#000" >0</text>
<text x="414.3" y="160.7" font-size="8.5" text-anchor="middle" fill="#000" >5</text>
<text x="493.4" y="160.7" font-size="8.5" text-anchor="middle" fill="#000" >10</text>
<path d="M334.7 11.5h-2.6M334.7 25.3h-1.5M334.7 39.1h-2.6M334.7 52.8h-1.5M334.7 66.6h-2.6M334.7 80.4h-1.5M334.7 94.2h-2.6M334.7 108.0h-1.5M334.7 121.7h-2.6M334.7 135.5h-1.5M334.7 149.3h-2.6M335.2 149.8v2.6M374.7 149.8v1.5M414.3 149.8v2.6M453.8 149.8v1.5M493.4 149.8v2.6M532.9 149.8v1.5" stroke="#000" stroke-width="1" fill="none"/>
<text x="437.4" y="175.9" font-size="8.5" text-anchor="middle"><tspan font-style="italic">k</tspan> (Å<tspan font-size="5.5" dy="-3">−1</tspan><tspan dy="3">)</tspan></text>
<text transform="translate(313.8 80.4) rotate(-90)" font-size="8.5" text-anchor="middle">R+ΔR (Å)</text>
<text x="351.5" y="36.7" font-size="15.8" fill="#fff">Pd@ZrO<tspan font-size="11" dy="4">2</tspan><tspan dy="-4">/N−C</tspan></text>
<clipPath id="cp1"><rect x="0" y="0" width="205.6" height="137.6"/></clipPath>
<g transform="translate(335.2 181.4)"><g clip-path="url(#cp1)">
<g filter="url(#soft)">
<rect x="-3" y="-3" width="211.6" height="143.6" fill="#1f0000"/>
<path d="M-3 -3.0 208.6 -3.0 208.6 140.6 -3 140.6 -3 -3.0ZM108.1 4.1 107.8 4.6 107.7 6.1 108.1 7.1 109.6 7.5 110.1 6.1 109.9 4.6 109.6 3.9 108.1 4.1ZM157.6 3.6 156.6 4.6 156.3 6.1 157.6 7.7 159 6.1 158.6 4.6 157.6 3.6Z" fill="#240000" fill-rule="evenodd"/>
<path d="M-3 -3.0 208.6 -3.0 208.6 140.6 -3 140.6 -3 -3.0ZM108.1 2.2 107.3 3.0 106.6 4.6 106.6 6.1 107.1 7.6 108.1 8.9 109.6 9.0 110.9 7.6 111.1 7.1 111.3 6.1 111.2 4.6 110.5 3.0 109.6 2.1 108.1 2.2ZM156.1 2.8 155.4 4.6 155.3 6.1 155.7 7.6 156.1 8.2 157.6 9.2 159.1 8.4 159.6 7.6 159.9 6.1 159.9 4.6 159.1 2.7 157.6 2.0 156.1 2.8Z" fill="#2a0000" fill-rule="evenodd"/>
<path d="M-3 -3.0 208.6 -3.0 208.6 140.6 -3 140.6 -3 -3.0ZM108.1 0.9 106.6 2.4 106.3 3.0 105.9 4.6 105.9 6.1 106.2 7.6 107 9.1 108.1 9.9 109.6 10.0 111.1 8.9 111.7 7.6 112 6.1 111.9 4.6 111.5 3.0 111.1 2.0 110.6 1.5 109.6 0.8 108.1 0.9ZM156.1 1.3 155 3.0 154.5 4.6 154.5 6.1 154.9 7.6 155.7 9.1 156.1 9.5 157.6 10.1 159.1 9.6 160.5 7.6 160.8 6.1 160.7 4.6 160.3 3.0 159.1 1.3 157.6 0.7 156.1 1.3Z" fill="#2e0000" fill-rule="evenodd"/>
<path d="M-3 -3.0 107.7 -3.0 107.6 0.0 106.6 0.9 105.5 3.0 105.2 4.6 105.2 6.1 105.5 7.6 106.6 9.7 108.1 10.8 109.6 10.9 111.1 9.9 111.7 9.1 112.4 7.6 112.6 6.1 112.6 4.6 112.3 3.0 111.1 0.7 110.1 0.0 110.1 -3.0 156.4 -3.0 156.4 0.0 156.1 0.1 154.6 2.1 153.9 4.6 153.9 6.1 154.2 7.6 154.8 9.1 156.1 10.4 157.6 10.9 159.1 10.6 160.5 9.1 161.1 7.6 161.4 6.1 161.3 4.6 161 3.0 160.6 1.8 158.9 0.0 158.9 -3.0 208.6 -3.0 208.6 140.6 -3 140.6 -3 -3.0Z" fill="#340000" fill-rule="evenodd"/>
<path d="M-3 -3.0 106.3 -3.0 106.3 0.0 105.1 2.3 104.6 4.6 104.9 7.6 105.5 9.1 106.6 10.7 108.1 11.5 109.6 11.6 111.1 10.9 112.4 9.1 112.9 7.6 113.2 6.1 113 3.0 112.5 1.5 111.5 0.0 111.5 -3.0 155.1 -3.0 155 0.0 154.1 1.5 153.6 3.0 153.3 4.6 153.3 6.1 153.6 7.6 154.6 9.8 156.1 11.2 157.6 11.6 159.1 11.3 160 10.6 161.1 9.1 161.7 7.6 162 6.1 162 4.6 161.7 3.0 161.2 1.5 160.2 0.0 160.2 -3.0 208.6 -3.0 208.6 140.6 -3 140.6 -3 -3.0Z" fill="#380000" fill-rule="evenodd"/>
<path d="M-3 -3.0 105.4 -3.0 105.3 0.0 104.6 1.5 104.1 4.6 104.3 7.6 105.1 9.5 106.6 11.4 108.1 12.2 109.6 12.3 111.1 11.6 112.1 10.6 113 9.1 113.5 7.6 113.7 4.6 113.1 1.5 112.5 0.0 112.4 -3.0 154.1 -3.0 154.1 0.0 153.1 2.6 152.8 4.6 153 7.6 153.6 9.1 154.6 10.7 156.1 11.9 157.6 12.3 159.1 12.0 160.6 10.9 161.8 9.1 162.3 7.6 162.5 4.6 162.1 2.0 161.2 0.0 161.2 -3.0 208.6 -3.0 208.6 110.3 205.6 110.3 196.6 111.2 184.6 111.9 178.6 112.4 112.6 123.4 100.5 124.8 88.5 125.4 76.5 125.3 66 124.7 52.5 123.5 39 121.8 19.5 118.9 10.5 117.2 4.5 115.4 1.5 114.0 0 112.8 -3 112.8 -3 -3.0ZM84 78.4 83.9 78.6 84 78.7 85.5 79.1 87 78.9 87.7 78.6 87 77.9 85.5 77.5 84 78.4Z" fill="#3e0000" fill-rule="evenodd"/>
<path d="M-3 -3.0 104.6 -3.0 104.6 0.0 104 1.5 103.5 4.6 103.8 7.6 104.3 9.1 105 10.6 106.4 12.1 108.1 12.9 109.6 12.9 111.1 12.3 112.6 10.9 113.5 9.1 114 7.6 114.3 4.6 114.1 2.7 113.2 0.0 113.2 -3.0 153.4 -3.0 153.3 0.0 152.8 1.5 152.3 4.6 152.5 7.6 153.1 9.2 154.6 11.5 156.1 12.6 157.6 12.9 159.1 12.7 160.6 11.7 162.1 9.7 162.8 7.6 163.1 4.6 162.6 1.5 162 0.0 162 -3.0 208.6 -3.0 208.6 102.4 205.6 102.4 195.1 103.1 177.1 102.5 169.8 102.8 163.2 104.3 154.6 107.8 150.1 109.2 141.1 111.3 118.6 115.6 108.1 117.3 97.5 118.5 87 119.0 73.5 118.7 58.5 117.5 43.5 115.6 25.5 112.8 16.5 111.0 9 109.1 6 108.1 3 106.5 1.5 105.4 0 103.7 -3 103.7 -3 -3.0ZM84 77.0 83.8 77.1 82.7 78.6 84 79.4 85.5 79.8 87 79.6 88.9 78.6 87.8 77.1 85.5 76.8 84 77.0Z" fill="#430000" fill-rule="evenodd"/>
<path d="M3.5 -3.0 103.8 -3.0 103.8 0.0 103.4 1.5 103 4.6 103.3 7.6 103.7 9.1 105.1 11.5 106.6 12.8 108.1 13.5 109.6 13.5 111.1 13.0 112.6 11.7 114.1 9.1 114.5 7.6 114.8 4.6 114.4 1.5 113.9 0.0 113.9 -3.0 152.6 -3.0 152.6 0.0 152.2 1.5 151.8 4.6 152 7.6 152.5 9.1 153.2 10.6 154.6 12.2 156.1 13.2 157.6 13.5 159.1 13.3 160.6 12.5 162.1 10.8 162.9 9.1 163.4 7.6 163.6 4.6 163.2 1.5 162.7 0.0 162.7 -3.0 208.6 -3.0 208.6 99.4 205.6 99.4 199.6 100.2 193.6 100.6 175.6 100.7 167.7 101.3 160.4 102.8 148.6 106.6 142.6 108.1 120.1 112.7 111.1 114.3 102 115.6 96 116.1 88.5 116.4 78 116.3 67.5 115.8 54 114.4 43.5 113.0 31.5 111.0 18 108.4 10.5 106.4 6 104.6 3 102.7 1.5 101.2 0 98.9 -3 98.9 -3 20.3 0 20.3 2.2 6.1 3.5 0.0 3.5 -3.0ZM84 76.6 82.6 77.1 81.9 78.6 82.5 79.2 84 80.1 85.5 80.3 87.4 80.1 88.5 79.6 89.8 78.6 88.9 77.1 88.5 76.9 87 76.6 85.5 76.5 84 76.6Z" fill="#4f0101" fill-rule="evenodd"/>
<path d="M8.8 -3.0 103.1 -3.0 103.1 0.0 102.7 1.5 102.5 4.6 102.8 7.6 103.2 9.1 103.9 10.6 104.9 12.1 106.6 13.5 108.1 14.0 109.6 14.1 111.1 13.6 112.6 12.5 113.9 10.6 114.6 9.1 115 7.6 115.3 4.6 115 1.5 114.6 0.0 114.6 -3.0 152 -3.0 152 0.0 151.6 1.5 151.2 4.6 151.5 7.6 152 9.1 153.1 11.2 154.6 12.9 156.1 13.8 157.6 14.1 159.1 13.9 160.6 13.1 162.1 11.7 163.5 9.1 163.9 7.6 164.2 4.6 163.8 1.5 163.4 0.0 163.4 -3.0 208.6 -3.0 208.6 97.4 205.6 97.4 201.1 98.1 193.6 98.9 174.1 99.6 166.6 100.3 160.7 101.3 141.1 106.6 118.6 111.2 109.6 112.8 102 113.8 96 114.4 90 114.7 79.5 114.7 69 114.2 55.5 112.8 45 111.4 33 109.4 19.5 106.7 12 104.6 7.5 102.8 4.9 101.3 3 99.7 1.5 97.7 0 94.0 -3 94.0 -3 31.7 0 31.7 1.5 23.7 4.5 11.9 6.7 4.6 8.8 0.0 8.8 -3.0ZM82.5 76.7 81.8 77.1 81.1 78.6 82.5 79.9 84 80.4 87 80.5 88.5 80.2 90.5 78.6 89.8 77.1 88.5 76.6 87 76.2 85.5 76.1 84 76.3 82.5 76.7Z" fill="#5b0202" fill-rule="evenodd"/>
<path d="M15.7 -3.0 102.4 -3.0 102.4 0.0 102 3.0 101.9 4.6 102.3 7.6 102.7 9.1 103.6 11.0 105.1 13.0 106.6 14.1 108.1 14.6 109.6 14.6 111.1 14.2 112.6 13.1 114.1 11.3 115.1 9.1 115.5 7.6 115.8 4.6 115.8 3.0 115.2 0.0 115.2 -3.0 151.3 -3.0 151.3 0.0 151 1.5 150.7 4.6 151.1 7.6 151.5 9.1 152.1 10.6 153.1 12.1 154.6 13.5 156.1 14.3 157.6 14.6 159.1 14.4 160.8 13.6 162.4 12.1 163.3 10.6 164 9.1 164.4 7.6 164.7 4.6 164.5 1.5 164.1 0.0 164.1 -3.0 208.6 -3.0 208.6 95.8 205.6 95.8 198.1 97.0 192.1 97.7 174.1 98.7 163.3 99.8 155.9 101.3 142.6 104.8 135.1 106.5 112.6 110.9 100.5 112.7 94.5 113.2 88.5 113.5 78 113.3 67.5 112.7 55.5 111.5 45 110.0 33 107.9 21 105.4 13.5 103.3 8.6 101.3 6.1 99.8 4.5 98.5 3 96.8 2.1 95.3 1.5 93.7 0.7 90.7 0 84.3 -3 84.2 -3 42.0 0 42.0 0.7 36.3 1.5 31.9 3 26.0 4.5 21.5 7.5 13.9 10.5 7.4 13.1 3.0 15.7 0.0 15.7 -3.0ZM52.5 0.8 51.9 1.5 51.3 3.0 51.4 4.6 52.5 6.3 54 6.3 55.1 4.6 55.1 3.0 54.5 1.5 54 0.9 52.5 0.8ZM81 77.1 80.5 78.6 81 79.3 81.9 80.1 84 80.8 87 80.8 88.5 80.5 89.7 80.1 91.1 78.6 90.5 77.1 88.5 76.2 87 75.8 85.5 75.7 84 75.9 82.5 76.3 81 77.1Z" fill="#670202" fill-rule="evenodd"/>
<path d="M23.6 -3.0 48.7 -3.0 48.5 1.5 48.8 4.6 49.4 6.1 50.4 7.6 51 8.2 52.5 9.0 54 8.9 55.5 8.1 56.9 6.1 57.3 4.6 57.4 3.0 57.1 0.0 57.1 -3.0 101.7 -3.0 101.7 0.0 101.3 4.6 101.7 7.6 102.7 10.6 103.6 12.1 105.1 13.7 106.6 14.7 108.1 15.2 109.6 15.2 111.1 14.7 112.8 13.6 114.1 12.1 115 10.6 115.6 9.1 116 7.6 116.3 4.6 115.9 0.0 115.9 -3.0 150.6 -3.0 150.6 0.0 150.2 4.6 150.6 7.6 151 9.1 151.6 10.6 152.5 12.1 153.9 13.6 156.1 14.8 157.6 15.1 159.1 15.0 160.6 14.3 161.6 13.6 163 12.1 163.9 10.6 164.5 9.1 164.9 7.6 165.3 4.6 164.9 0.0 164.9 -3.0 208.6 -3.0 208.6 94.3 205.6 94.3 198.1 95.8 192.1 96.5 171.1 98.1 163.6 99.0 158.6 99.8 136.6 105.0 114.1 109.5 102 111.4 90 112.4 81 112.3 69 111.7 60 110.9 48 109.3 34.5 106.9 24 104.7 15 102.2 12 101.1 9.3 99.8 7.5 98.7 6 97.5 4 95.3 2.5 92.2 1.5 87.7 1.1 81.6 0.4 57.5 0.6 48.4 1.3 40.8 2.4 34.8 3.6 30.3 5.3 25.7 7.5 21.0 12 13.2 15.9 7.6 19.5 3.4 23.6 0.0 23.6 -3.0ZM84 75.5 82.5 75.9 80.4 77.1 79.9 78.6 81.1 80.1 84 81.1 87 81.1 88.5 80.9 90.5 80.1 91.7 78.6 91.1 77.1 88.5 75.8 87 75.5 84 75.5Z" fill="#740303" fill-rule="evenodd"/>
<path d="M32 -3.0 45.4 -3.0 45.4 0.0 47.3 6.1 48.2 7.6 49.4 9.1 51 10.2 52.5 10.6 54 10.6 55.5 10.0 56.6 9.1 57.7 7.6 58.4 6.1 59 3.0 59.1 -3.0 101 -3.0 100.7 3.0 100.9 6.1 101.6 9.1 102.2 10.6 103.6 12.8 105.1 14.3 106.6 15.2 108.1 15.7 109.6 15.7 111.4 15.1 112.6 14.4 113.5 13.6 114.7 12.1 116.1 9.1 116.5 7.6 116.9 4.6 116.6 -3.0 150 -3.0 149.7 4.6 150.1 7.6 151.1 10.6 151.9 12.1 153.1 13.5 154.6 14.7 156.1 15.4 157.6 15.6 159.1 15.5 160 15.1 162.1 13.9 163.6 12.1 164.5 10.6 165.5 7.6 165.8 6.1 165.9 3.0 165.6 0.0 165.6 -3.0 208.6 -3.0 208.6 93.1 205.6 93.1 198.1 94.6 190.6 95.7 171.1 97.4 163.1 98.3 154.6 99.8 138.1 103.6 114.1 108.5 106.6 109.8 100.5 110.6 90 111.4 81 111.4 70.5 110.8 58.5 109.7 48 108.2 37.5 106.4 24 103.4 16.5 101.3 13.5 100.1 10.5 98.7 7.5 96.6 6.1 95.3 5 93.7 3.6 90.7 2.6 86.2 2.3 81.6 1.5 63.5 1.4 56.0 1.8 46.9 3 38.6 4.4 33.3 6 29.2 7.7 25.7 10.5 21.1 15 15.1 21 8.4 24 5.6 27 3.2 31.9 0.0 32 -3.0ZM82.5 75.6 81 76.3 79.8 77.1 79.3 78.6 80.4 80.1 82.5 81.0 85.5 81.5 88.5 81.2 91.1 80.1 92.2 78.6 91.6 77.1 88.9 75.6 85.5 75.2 82.5 75.6Z" fill="#830505" fill-rule="evenodd"/>
<path d="M61 -3.0 100.1 -3.0 100.1 4.6 100.6 7.6 101.6 10.6 102.4 12.1 103.6 13.6 105.1 15.0 106.6 15.8 108.1 16.2 109.6 16.2 111.1 15.8 112.6 15.0 114.1 13.6 115.3 12.1 116.1 10.6 117 7.6 117.5 4.6 117.3 -3.0 149.2 -3.0 149.1 4.6 149.5 7.6 150.5 10.6 151.6 12.4 153.1 14.1 154.6 15.2 156.1 15.9 157.6 16.1 159.1 16.0 160.6 15.5 162.1 14.5 163.6 13.0 165.1 10.6 165.7 9.1 166.4 6.1 166.6 3.0 166.4 -3.0 208.6 -3.0 208.6 91.9 205.6 91.9 199.6 93.3 190.6 94.8 169.6 96.9 159.1 98.2 151 99.8 126.1 105.2 111.1 108.2 99 109.9 88.5 110.6 76.5 110.3 66 109.6 54 108.2 43.5 106.5 31.5 104.1 22.5 101.9 15 99.3 10.5 97.0 8.3 95.3 7 93.7 6 92.3 5.2 90.7 4.3 87.7 3.6 81.6 2.6 62.0 2.5 52.9 2.8 48.4 3.4 43.9 4.3 39.3 5.1 36.3 6 33.8 7.5 30.4 9.3 27.2 12 23.3 15 19.8 19.5 15.2 24 11.0 28.5 7.3 33 4.2 36 2.6 39 1.7 40.5 1.6 42 2.2 43.5 3.6 46.1 7.6 47.3 9.1 49 10.6 51 11.7 52.5 12.0 54 11.9 55.5 11.4 57 10.4 58.2 9.1 59.2 7.6 59.8 6.1 60.8 1.5 61 0.0 61 -3.0ZM82.5 75.3 81 75.8 79.2 77.1 78.8 78.6 79.8 80.1 82.5 81.4 85.5 81.8 88.5 81.5 90 81.0 91.7 80.1 92.6 78.6 92.1 77.1 89.8 75.6 87 75.0 85.5 75.0 82.5 75.3Z" fill="#930708" fill-rule="evenodd"/>
<path d="M63 -3.0 99.3 -3.0 99.5 4.6 100 7.6 101 10.6 102.9 13.6 105.1 15.6 106.6 16.3 108.1 16.7 109.6 16.7 111.1 16.4 113.2 15.1 114.8 13.6 115.8 12.1 116.6 10.6 117.6 7.6 118.1 4.6 118.1 -3.0 148.5 -3.0 148.5 4.6 149 7.6 150 10.6 151.6 13.2 153.1 14.8 154.6 15.8 156.1 16.4 157.6 16.6 159.1 16.5 160.6 16.0 162.2 15.1 163.8 13.6 165.8 10.6 166.8 7.6 167.3 4.6 167.4 -3.0 205.2 -3.0 205.2 0.0 205.6 0.3 208.6 0.3 208.6 90.7 205.6 90.7 198.1 92.6 189.1 94.2 165.1 96.8 157.6 97.9 147.6 99.8 121.6 105.3 109.6 107.6 99 109.1 90 109.8 79.5 109.7 69 109.0 58.5 108.0 46.5 106.2 34.5 103.8 24 101.1 16.5 98.5 12 96.2 9.1 93.7 7.9 92.2 7 90.7 5.9 87.7 5.3 84.7 5 81.6 3.8 63.5 3.6 54.4 4.2 46.9 4.7 43.9 5.8 39.3 6.8 36.3 8.1 33.3 9.8 30.3 12 27.0 15 23.5 18 20.5 22.5 16.5 27 13.0 31.5 9.7 36 7.0 37.5 6.4 39 6.1 40.5 6.1 42 6.7 48 11.6 49.5 12.5 51 13.0 52.5 13.2 54 13.1 55.5 12.7 57 11.9 58.5 10.6 59.6 9.1 61.1 6.1 63 0.0 63 -3.0ZM81 75.5 78.7 77.1 78.3 78.6 79.2 80.1 81 81.2 82.5 81.7 85.5 82.0 89.1 81.6 90 81.4 92.3 80.1 93.1 78.6 92.6 77.1 91.5 76.2 90.5 75.6 88.5 75.0 87 74.8 84 74.8 81 75.5Z" fill="#a2080a" fill-rule="evenodd"/>
<path d="M65.7 -3.0 98.1 -3.0 98.1 0.0 99 6.1 99.8 9.1 101.2 12.1 102.2 13.6 103.6 15.1 105.1 16.2 106.6 16.9 108.1 17.2 109.6 17.2 111.6 16.7 112.6 16.2 114 15.1 115.6 13.4 117.2 10.6 118.2 7.6 118.7 4.6 119 1.5 119 -3.0 147.6 -3.0 147.8 4.6 148.4 7.6 149.4 10.6 151.3 13.6 153.1 15.4 155.4 16.7 157.6 17.1 159.1 17.0 160.3 16.7 162.1 15.8 164.5 13.6 165.6 12.1 167.1 9.1 167.9 6.1 168.6 0.0 168.6 -3.0 196.3 -3.0 196.4 0.0 198.5 1.5 200.1 3.0 201.3 4.6 202.6 6.8 205.6 13.3 208.6 13.3 208.6 89.7 205.6 89.7 198.1 91.7 189.1 93.5 181.6 94.5 163.6 96.4 153.1 98.0 118.6 105.2 108.1 107.1 99 108.4 90 109.0 81 109.0 69 108.3 57 107.0 46.5 105.3 36 103.2 25.5 100.5 19 98.3 15.7 96.8 13.5 95.5 11.3 93.7 9.9 92.2 8.9 90.7 7.5 87.6 6.8 84.7 6.5 81.6 5 63.5 4.8 54.4 5.5 46.9 6.8 40.8 7.9 37.8 9.3 34.8 11 31.8 13.2 28.7 15 26.7 18 23.7 21 21.1 25.5 17.6 31.5 13.5 36 10.9 39 9.8 40.5 9.7 42 10.0 48 13.2 51 14.2 52.5 14.4 54 14.2 55.5 13.8 57 13.1 58.5 12.0 59.9 10.6 61.9 7.6 64.5 1.7 65.6 0.0 65.7 -3.0ZM81 75.2 80.1 75.6 78.2 77.1 77.8 78.6 78.6 80.1 81.4 81.6 84 82.2 85.5 82.3 88.5 82.0 90 81.7 91.5 81.0 92.8 80.1 93.6 78.6 93.1 77.1 91.5 75.9 90 75.2 88.5 74.8 85.5 74.5 82.5 74.8 81 75.2Z" fill="#b10a0c" fill-rule="evenodd"/>
<path d="M70.5 -3.0 96.7 -3.0 96.7 0.0 98.1 6.1 99.7 10.6 100.5 12.1 101.5 13.6 103.6 15.8 105.1 16.8 106.6 17.4 108.1 17.7 109.6 17.7 111.1 17.4 112.7 16.7 114.7 15.1 116.1 13.6 117 12.1 118.4 9.1 119.2 6.1 120 0.0 120 -3.0 146.5 -3.0 146.5 0.0 147.4 6.1 148.2 9.1 149.6 12.1 151.6 14.7 153.1 16.0 154.6 16.8 156.1 17.4 157.6 17.6 159.1 17.5 160.6 17.1 162.1 16.4 163.8 15.1 165.3 13.6 166.4 12.1 167.8 9.1 168.8 6.1 169.6 2.2 170.2 0.0 170.2 -3.0 187.2 -3.0 187.2 0.0 190.6 1.9 193.9 4.6 196.5 7.6 200.8 13.6 204.7 18.2 205.6 19.1 208.6 19.1 208.6 88.6 205.6 88.6 196.6 91.2 187.6 93.0 163.6 95.9 153.1 97.5 108.1 106.4 99 107.7 90 108.3 81 108.3 70.5 107.7 60 106.6 48 104.8 37.5 102.7 28.5 100.4 21 97.8 18.6 96.8 15.8 95.3 13.5 93.6 12 92.2 10.8 90.7 9.9 89.2 8.8 86.2 8 81.6 6.3 63.5 6 56.0 6.2 51.4 6.5 48.4 7.9 42.3 9 39.2 10.5 36.0 12.2 33.3 14.5 30.3 16.5 28.0 19.5 25.2 22.5 22.7 27 19.5 33 15.7 36 14.1 39 12.9 40.5 12.7 42 12.7 43.5 13.0 49.5 15.1 52.5 15.4 55.5 14.9 58.1 13.6 60 12.1 61.3 10.6 66 3.3 67.5 1.7 69 0.7 70.5 0.0 70.5 -3.0ZM79.5 75.5 77.7 77.1 77.3 78.6 78.1 80.1 79.5 81.1 81 81.8 82.5 82.2 84 82.4 87 82.5 90 81.9 91.5 81.3 93 80.4 93.3 80.1 94 78.6 93.6 77.1 91.7 75.6 88.5 74.6 87 74.4 84 74.4 81 75.0 79.5 75.5Z" fill="#ba0b0d" fill-rule="evenodd"/>
<path d="M82.3 -3.0 94.2 -3.0 94.2 0.0 94.5 0.3 96 2.7 98.2 9.1 99.7 12.1 102 15.1 103.6 16.4 105.1 17.4 106.6 17.9 108.1 18.2 109.6 18.2 111.1 17.9 113.7 16.7 115.6 15.0 117.7 12.1 119.1 9.1 120.3 4.6 121.4 0.0 121.4 -3.0 145.2 -3.0 145.2 0.0 146.6 6.1 147.5 9.1 149 12.1 151.3 15.1 153.1 16.6 154.6 17.4 156.1 17.8 157.6 18.1 159.1 18.0 160.6 17.6 162.1 17.0 164.7 15.1 166.1 13.6 167.2 12.1 168.8 9.1 171.1 3.1 172.6 1.0 174.1 0.2 175.6 0.1 177.1 0.3 180.1 1.2 183.1 2.5 186.4 4.6 190.6 8.1 199.1 16.7 205.6 22.3 208.6 22.3 208.6 87.6 205.6 87.6 198.1 90.0 189.1 92.0 181.6 93.2 164.1 95.3 153.7 96.8 137.6 99.8 109.6 105.5 99 107.0 90 107.7 81 107.6 69 106.9 57 105.5 46.5 103.8 36 101.5 27 98.9 21 96.6 18.4 95.3 16 93.7 14.2 92.2 12.9 90.7 12 89.4 11.1 87.7 10.2 84.7 9.7 81.6 7.8 65.0 7.3 59.0 7.3 54.4 7.5 51.4 8.5 45.4 9.4 42.3 10.5 39.7 12 36.8 13.3 34.8 16.5 30.7 21 26.5 27 22.1 34.5 17.6 39 15.5 42 15.0 43.5 15.1 51 16.5 54 16.3 57 15.4 59.9 13.6 61.6 12.1 66 6.7 67.5 5.1 69 4.0 70.5 3.1 73.5 2.0 82.2 0.0 82.3 -3.0ZM85.5 74.1 82.5 74.3 81 74.7 78.8 75.6 78 76.3 77.2 77.1 76.8 78.6 77.6 80.1 78 80.5 79.5 81.5 81 82.1 82.5 82.5 85.5 82.8 88.5 82.5 90 82.2 91.6 81.6 93.8 80.1 94.4 78.6 94 77.1 92.3 75.6 90 74.7 88.5 74.3 85.5 74.1Z" fill="#c30c0d" fill-rule="evenodd"/>
<path d="M123.5 -3.0 143.2 -3.0 143.2 0.0 144.1 1.3 146.2 7.6 147.4 10.6 149.3 13.6 150.6 15.1 152.4 16.7 154.6 17.9 156.1 18.3 157.6 18.5 159.1 18.5 160.6 18.2 162.1 17.6 163.7 16.7 165.6 15.1 167 13.6 169.2 10.6 171.1 7.3 172.6 5.3 174.1 4.3 175.6 4.1 177.1 4.4 178.6 4.9 183.1 7.4 205.6 24.7 208.6 24.7 208.6 86.6 205.6 86.6 201.1 88.2 196.6 89.6 186.1 91.9 178.6 93.0 160.2 95.3 150.4 96.8 106.6 105.3 97.5 106.5 88.5 107.1 78 106.9 66 105.9 54 104.4 42 102.1 33 99.8 28.2 98.3 24.2 96.8 21 95.3 18.5 93.7 16.5 92.2 15 90.7 13.5 88.5 12.5 86.2 11.4 81.6 8.9 62.0 8.6 56.0 8.9 51.4 9.3 48.4 10 45.4 11.1 42.3 12.4 39.3 14.3 36.3 16.5 33.4 21 28.9 25.5 25.4 30 22.5 34.5 19.9 39 17.9 42 17.1 43.5 17.0 51 17.6 54 17.4 55.5 17.0 58.5 15.8 60 14.8 63.3 12.1 67.5 8.1 70.5 6.2 73.5 5.1 78 3.9 84 2.6 88.5 1.9 91.5 2.0 93 2.5 94.5 3.9 96 6.4 98 10.6 98.9 12.1 101.2 15.1 102.9 16.7 105.1 17.9 106.6 18.5 108.1 18.7 109.6 18.7 111.1 18.5 112.6 17.9 114.5 16.7 116.2 15.1 118.4 12.1 119.9 9.1 121.9 3.0 123.1 0.5 123.5 0.0 123.5 -3.0ZM82.5 74.1 81 74.4 78.3 75.6 76.7 77.1 76.3 78.6 77 80.1 79.1 81.6 82.5 82.7 84 82.9 87 83.0 90 82.5 91.5 82.0 93 81.2 94.2 80.1 94.9 78.6 94.4 77.1 92.8 75.6 90 74.5 88.5 74.1 85.5 73.9 82.5 74.1Z" fill="#cc0d0e" fill-rule="evenodd"/>
<path d="M125.6 1.5 127.6 0.7 129.1 0.4 133.6 0.2 138.1 0.4 139.6 0.7 141.1 1.4 142.8 3.0 144.1 5.1 146.6 10.6 147.5 12.1 149.8 15.1 151.5 16.7 153.1 17.7 154.6 18.4 156.1 18.8 159.1 19.0 162.1 18.2 164.7 16.7 166.6 15.1 171.1 10.3 172.6 9.0 174.1 8.2 175.6 8.1 177.1 8.5 180.1 9.8 187.6 14.5 196.6 20.4 205.6 26.8 208.6 26.8 208.6 85.6 205.6 85.6 201.1 87.3 196.6 88.8 190.6 90.3 184.6 91.5 177.1 92.6 156.7 95.3 147.2 96.8 131.3 99.8 112.6 103.6 105.1 105.0 96 106.1 88.5 106.5 76.5 106.1 64.5 105.1 52.5 103.4 42.1 101.3 33 98.9 25.5 96.1 20.9 93.7 18.8 92.2 16.5 89.9 15.1 87.7 14.4 86.2 13.2 81.6 10.3 62.0 10 57.5 10.1 52.9 10.5 49.9 11.1 46.9 12.1 43.9 13.5 40.7 15.2 37.8 17.5 34.8 19.5 32.6 22.5 29.9 25.5 27.6 30 24.6 34.5 22.0 39 19.9 42 19.0 43.5 18.7 51 18.7 54 18.4 55.5 18.0 58.5 16.9 60 16.1 67.5 10.7 70.5 9.1 73.5 8.0 76.5 7.3 87 5.2 90 4.9 91.5 5.1 93 5.8 94.5 7.1 97.9 12.1 100.4 15.1 102 16.7 103.6 17.8 105.1 18.5 106.6 19.0 108.1 19.3 109.6 19.2 111.1 19.0 112.6 18.4 114.1 17.6 115.4 16.7 117 15.1 119.2 12.1 120.8 9.1 123.1 4.2 124.6 2.2 125.6 1.5ZM82.5 73.9 81 74.2 78 75.4 76.2 77.1 75.9 78.6 76.5 80.1 78.4 81.6 81 82.6 82.5 83.0 84 83.2 87 83.2 90 82.7 91.5 82.2 93 81.5 94.7 80.1 95.3 78.6 94.8 77.1 93 75.5 90 74.2 88.5 73.9 85.5 73.7 82.5 73.9Z" fill="#d50e0e" fill-rule="evenodd"/>
<path d="M125.8 4.6 127.6 3.7 129.1 3.4 132.1 3.2 136.6 3.2 139.6 3.8 141.1 4.5 142.6 5.9 146.6 12.1 149 15.1 150.7 16.7 152.9 18.2 154.6 18.9 156.1 19.3 159.1 19.5 160.6 19.2 163.4 18.2 165.9 16.7 171.1 12.5 172.6 11.7 174.1 11.3 175.6 11.4 177.1 11.8 180.1 13.1 183.1 14.6 190.6 18.8 198.1 23.4 205.6 28.6 208.6 28.6 208.6 84.6 205.6 84.6 201.1 86.5 195.1 88.4 189.1 89.9 183.1 91.1 154.6 95.1 144.1 96.8 129.1 99.6 111.1 103.3 105.1 104.3 96 105.5 88.5 105.9 78 105.6 66 104.7 54 103.0 43.5 100.9 34.1 98.3 29.8 96.8 26.3 95.3 23.4 93.7 21.2 92.2 19.4 90.7 18.1 89.2 17.1 87.7 15.8 84.7 14.8 80.1 11.8 62.0 11.4 57.5 11.6 52.9 12 49.9 12.7 46.9 13.8 43.9 15.2 40.8 17.2 37.8 19.5 35.0 22.5 32.0 24.7 30.3 28.5 27.5 33 24.8 37.5 22.5 40.5 21.3 43.5 20.4 45 20.1 52.5 19.7 55.5 19.1 58.2 18.2 60 17.3 67.5 12.9 70.5 11.6 76.5 10.0 87 8.1 90 7.9 91.5 8.1 93 8.7 94.5 9.8 99.4 15.1 101 16.7 103.6 18.4 106.6 19.6 109.6 19.8 111.1 19.5 112.6 19.0 114.2 18.2 116.3 16.7 117.8 15.1 120.1 12.1 123.1 7.4 124.6 5.5 125.8 4.6ZM81 74.0 79.5 74.4 77.2 75.6 75.7 77.1 75.4 78.6 76 80.1 76.5 80.6 77.8 81.6 79.5 82.4 82.2 83.2 84 83.4 88.5 83.3 91.5 82.5 93 81.9 95.1 80.1 95.7 78.6 95.2 77.1 93.7 75.6 91.5 74.5 90 74.0 87 73.5 84 73.5 81 74.0Z" fill="#db0f0f" fill-rule="evenodd"/>
<path d="M125.8 7.6 127.6 6.8 129.1 6.4 132.1 6.1 136.6 6.2 139.6 6.7 141.1 7.5 142.6 8.6 146.8 13.6 149.8 16.7 153.1 18.8 156.1 19.8 159.1 20.0 162.1 19.3 164.7 18.2 171.1 14.3 172.6 13.8 174.1 13.7 177.1 14.3 184.6 17.6 192.1 21.6 199.6 26.1 205.6 30.3 208.6 30.3 208.6 83.6 205.6 83.6 201.1 85.6 195.1 87.7 189.1 89.3 183.1 90.5 175.6 91.8 153.1 94.8 142.6 96.5 105.1 103.7 97.5 104.7 90 105.2 79.5 105.1 67.5 104.2 57 102.8 46.5 100.8 36.9 98.3 32.5 96.8 28.9 95.3 25.9 93.7 23.5 92.2 21.7 90.7 20.3 89.2 19.2 87.7 18 85.3 17.3 83.2 16.6 80.1 13.3 62.0 12.9 57.5 13 52.9 13.5 49.9 14.3 46.9 15.4 43.9 17 40.8 20.5 36.3 22.5 34.2 25.5 31.6 28.5 29.4 33 26.6 37.5 24.3 42 22.4 45 21.6 52.5 20.7 55.5 20.1 60 18.5 66 15.5 70.5 13.8 75 12.7 85.5 11.0 90 10.6 91.5 10.8 93 11.2 94.5 12.0 96 13.2 99.9 16.7 103.6 19.1 106.6 20.1 108.1 20.3 111.1 20.0 114.1 18.9 117.2 16.7 120 13.6 123.1 9.9 124.6 8.4 125.8 7.6ZM81 73.7 79.5 74.1 76.6 75.6 75.3 77.1 74.9 78.6 75.5 80.1 77.2 81.6 78 82.1 79.5 82.7 82.5 83.5 85.5 83.7 88.5 83.5 91.5 82.8 93 82.2 94 81.6 95.6 80.1 96.1 78.6 95.6 77.1 94.2 75.6 91.5 74.3 90 73.8 87 73.3 84 73.3 81 73.7Z" fill="#e2100f" fill-rule="evenodd"/>
<path d="M129.8 9.1 133.6 8.9 136.6 8.9 139.6 9.4 141.1 9.9 142.6 10.9 148.9 16.7 150.9 18.2 153.1 19.3 156.1 20.3 159.1 20.5 162.1 19.9 163.6 19.3 169.6 16.4 171.1 15.9 172.6 15.6 175.6 15.9 178.6 16.9 183.1 18.8 192.1 23.2 199.6 27.7 205.6 31.9 208.6 31.9 208.6 82.6 205.6 82.6 201.1 84.7 195.1 86.9 189.1 88.6 181.6 90.2 174.1 91.5 151.6 94.5 141.1 96.2 105.1 103.2 97.5 104.2 90 104.7 79.5 104.5 67.5 103.6 55.5 101.9 45.4 99.8 39.8 98.3 35.2 96.8 31.4 95.3 28.5 93.8 25.9 92.2 24 90.7 22.5 89.2 21.3 87.7 19.8 84.7 18.9 81.6 15.3 65.0 14.5 59.0 14.4 56.0 14.6 52.9 15 49.9 15.9 46.9 17.2 43.9 18.9 40.8 21 38.0 22.6 36.3 25.5 33.6 28.5 31.3 31.5 29.3 36 26.7 40.5 24.6 43.5 23.5 46.5 22.8 54 21.5 57 20.8 60.1 19.7 66 17.1 70.5 15.7 76.5 14.5 84 13.4 90 12.9 93 13.3 94.5 13.9 96 14.8 100.7 18.2 103.6 19.7 106.6 20.7 108.1 20.8 111.1 20.6 114.1 19.5 116.3 18.2 118.2 16.7 123.1 12.0 124.6 10.8 126.1 10.0 127.6 9.5 129.8 9.1ZM79.5 73.9 78 74.5 76.1 75.6 74.8 77.1 74.5 78.6 75 80.1 76.5 81.6 79.5 83.0 81 83.4 84 83.9 88.5 83.7 91.2 83.2 93 82.5 94.6 81.6 96 80.1 96.5 78.6 96 77.1 94.7 75.6 91.7 74.1 88.5 73.3 85.5 73.1 82.5 73.3 79.5 73.9Z" fill="#e81110" fill-rule="evenodd"/>
<path d="M126.3 12.1 129.1 11.5 132.1 11.3 136.6 11.2 139.6 11.6 142.6 12.7 144.1 13.7 147.8 16.7 151.6 19.2 154.6 20.4 157.6 21.0 159.1 20.9 162.1 20.5 169.6 17.6 171.1 17.3 172.6 17.2 175.6 17.6 178.6 18.6 183.1 20.4 192.1 24.7 199.6 29.1 205.6 33.4 208.6 33.4 208.6 81.6 205.6 81.6 201.1 83.8 195.1 86.2 189.1 88.0 181.6 89.7 172.6 91.2 153.7 93.7 139.6 95.9 105.1 102.6 97.5 103.6 90 104.1 79.5 103.9 69 103.1 58.5 101.7 48 99.7 42.7 98.3 37.9 96.8 31.5 94.1 28.3 92.2 26.3 90.7 24.7 89.2 23.5 87.7 21.8 84.7 20.8 81.6 16.9 65.0 16 59.0 15.9 56.0 16.1 52.9 16.6 49.9 17.5 46.9 19.8 42.3 21 40.5 23.2 37.8 25.5 35.6 28.5 33.1 34.5 29.2 39 26.9 42 25.6 46.5 24.1 57 21.8 66 18.7 70.5 17.4 76.5 16.4 82.5 15.6 88.5 15.0 91.5 14.9 94.5 15.6 96 16.2 100.5 18.9 103.6 20.4 106.6 21.2 109.6 21.3 112.6 20.7 114.9 19.7 117.3 18.2 123.1 13.7 124.6 12.8 126.3 12.1ZM79.5 73.7 78 74.2 75.6 75.6 74.3 77.1 74 78.6 74.5 80.1 76 81.6 79.1 83.2 81 83.7 84 84.1 87 84.1 90 83.7 92.1 83.2 94.5 82.0 96.4 80.1 96.8 78.6 96.4 77.1 95.1 75.6 92.3 74.1 88.5 73.1 85.5 72.9 82.5 73.1 79.5 73.7Z" fill="#ed1210" fill-rule="evenodd"/>
<path d="M132.7 12.1 138.1 12.2 141.1 12.8 144.1 14.3 149.4 18.2 151.6 19.4 154.6 20.6 156.1 21.0 159.1 21.1 162.1 20.7 168.1 18.6 171.1 17.8 174.1 17.9 177.1 18.7 184.6 21.6 192.1 25.2 199.6 29.6 205.6 33.9 208.6 33.9 208.6 81.1 205.6 81.2 201.1 83.5 194.2 86.2 187.6 88.1 180.1 89.7 172.6 91.0 152.4 93.7 139.6 95.7 129.1 97.6 105.1 102.3 97.5 103.4 90 103.9 79.5 103.7 69 102.9 58.5 101.5 48 99.4 39 96.8 35 95.3 31.8 93.7 29.2 92.2 27.2 90.7 25.6 89.2 24.3 87.7 22.6 84.7 21.6 81.6 17.6 65.0 16.6 59.0 16.5 56.0 16.7 52.9 17.3 49.9 18.2 46.9 20.5 42.3 22.5 39.6 24.1 37.8 27 35.1 30 32.7 36 29.0 40.5 26.8 43.5 25.6 48 24.3 57 22.3 66 19.2 72 17.8 84 16.1 88.5 15.7 91.5 15.6 94.5 16.2 96 16.8 101.4 19.7 103.6 20.6 106.6 21.4 109.6 21.5 112.6 20.9 115.4 19.7 117.8 18.2 123.1 14.3 124.6 13.5 127.6 12.6 132.7 12.1ZM78 74.1 75.4 75.6 74.1 77.1 73.8 78.6 74.3 80.1 75.8 81.6 78 82.9 79.5 83.4 84 84.2 87 84.2 90 83.8 92.4 83.2 94.5 82.1 95.3 81.6 96.6 80.1 97 78.6 96.6 77.1 95.3 75.6 93 74.3 91.5 73.7 88.5 73.0 84 72.8 81 73.2 78 74.1Z" fill="#f01610" fill-rule="evenodd"/>
<path d="M125.7 16.7 129.1 16.2 133.6 15.9 138.1 15.9 141.1 16.2 144.1 17.1 152.6 21.2 154.6 21.8 157.6 22.3 159.1 22.3 162.1 22.0 169.6 20.5 171.1 20.4 174.1 20.8 178.6 22.2 183.1 23.9 192.1 28.0 199.6 32.5 205.6 37.1 208.6 37.1 208.6 78.8 205.6 78.8 200.8 81.6 195.1 84.2 187.6 86.7 180.1 88.5 169.6 90.3 145.6 93.6 135.2 95.3 103.6 101.3 97.5 102.1 91.5 102.6 82.5 102.5 70.5 101.7 60 100.3 51 98.4 43.5 96.2 37.3 93.7 34.5 92.2 32.3 90.7 30.5 89.2 29.2 87.7 27.3 84.7 26.1 81.6 21.7 66.5 20.3 60.5 20.1 57.5 20.1 54.4 20.5 51.4 21.4 48.4 22.5 45.8 23.6 43.9 25.5 41.2 27.2 39.3 30 36.7 32.5 34.8 36 32.5 39 30.8 45 28.1 49.5 26.7 64.5 22.6 69 21.6 79.5 20.1 87 19.3 91.5 19.1 94.5 19.3 96 19.6 105.1 22.5 108.1 22.8 109.6 22.8 111.1 22.6 114.1 21.7 121.6 18.0 123.1 17.4 125.7 16.7ZM82.5 72.5 79.5 73.1 76.5 74.1 74.2 75.6 73 77.1 72.7 78.6 73.1 80.1 74.4 81.6 76.5 83.0 79.5 84.1 82.5 84.6 85.5 84.8 88.5 84.6 91.5 84.0 94.5 82.9 96.4 81.6 97.6 80.1 97.9 78.6 97.5 77.1 96.2 75.6 93.8 74.1 91.5 73.3 88.5 72.6 85.5 72.4 82.5 72.5Z" fill="#f51f10" fill-rule="evenodd"/>
<path d="M124.3 19.7 130.6 19.0 139.6 18.8 144.1 19.4 151.6 22.1 156.1 23.2 160.6 23.4 166.6 22.7 169.6 22.6 174.1 23.3 180.1 25.1 184.6 26.9 189.1 29.0 193.6 31.3 198.1 34.1 202.6 37.5 205.6 40.2 208.6 40.2 208.6 76.2 205.6 76.2 202.6 78.5 199.9 80.1 196.6 81.9 192.1 83.8 186.1 85.7 178.6 87.6 166.6 89.7 142.6 93.0 132.1 94.6 103.6 100.0 97.5 100.8 93 101.2 85.5 101.4 73.5 100.6 63 99.3 54 97.4 46.7 95.3 42.9 93.7 39.9 92.2 37.5 90.7 35.6 89.2 34.1 87.7 32.9 86.2 32 84.7 30.6 81.6 25 65.0 24 60.5 23.6 56.0 23.9 52.9 24.6 49.9 25.5 47.6 26.7 45.4 28.5 42.8 30.2 40.8 34.5 37.1 37.5 35.0 40.5 33.3 47.1 30.3 55.5 27.6 67.5 24.7 73.5 23.7 79.5 22.9 88.5 22.1 93 21.9 97.5 22.3 105.1 23.9 109.6 24.0 114.1 23.1 121.6 20.4 124.3 19.7ZM79.5 72.5 76.5 73.5 75.1 74.1 73 75.6 71.9 77.1 71.5 78.6 71.9 80.1 73.5 82.0 75 83.1 76.5 83.8 79.5 84.7 82.5 85.2 87 85.3 90 85.0 93 84.2 95.4 83.2 97.5 81.6 98.5 80.1 98.8 78.6 98.3 77.1 97.5 76.1 97.1 75.6 95 74.1 93 73.3 90 72.4 87 72.0 82.5 72.1 79.5 72.5Z" fill="#fa2710" fill-rule="evenodd"/>
<path d="M135 21.2 139.6 21.1 144.1 21.5 147.1 22.2 153.1 23.9 157.6 24.6 160.6 24.6 166.6 24.4 169.6 24.5 172.6 25.0 177.1 26.3 184.6 29.1 190.6 32.0 195.1 34.6 199.6 37.8 203.1 40.8 205.6 43.5 208.6 43.5 208.6 73.3 205.6 73.3 203.2 75.6 199.6 78.3 196.4 80.1 193.3 81.6 186.1 84.4 178.6 86.4 172.5 87.7 165.1 88.9 129.7 93.7 103.6 98.7 97.5 99.5 93 99.9 85.5 100.0 73.5 99.2 64.5 98.0 55.5 96.0 48.8 93.7 45.4 92.2 42.8 90.7 40.7 89.2 39.1 87.7 36.8 84.7 34.7 80.1 28.9 65.0 27.7 60.5 27.3 56.0 27.6 52.9 28.4 49.9 29.8 46.9 30.7 45.4 33 42.5 34.5 41.0 39 37.4 42 35.6 45 34.0 51 31.6 60 28.9 69 26.9 81 25.3 93 24.4 97.5 24.4 106.6 25.4 109.6 25.4 114.1 24.6 123.1 22.1 127.6 21.6 135 21.2ZM78 72.4 75 73.4 73.7 74.1 72 75.3 70.6 77.1 70.3 78.6 70.6 80.1 71.6 81.6 73.5 83.2 76.5 84.6 79.5 85.5 82.5 85.9 87 85.9 90 85.6 93 84.9 96 83.7 97.5 82.6 98.6 81.6 99.5 80.1 99.7 78.6 99.2 77.1 98.1 75.6 96 74.1 93 72.8 90 72.0 85.5 71.5 81 71.8 78 72.4Z" fill="#ff2f10" fill-rule="evenodd"/>
<path d="M122.6 24.2 130.6 23.4 141.1 23.2 145.6 23.5 156.1 25.6 159.1 25.9 166.6 26.0 169.6 26.3 174.1 27.3 180.1 29.3 184.6 31.1 189.1 33.3 194.2 36.3 198.4 39.3 202.6 43.3 205.6 47.2 208.6 47.2 208.6 70.0 205.6 70.0 203.5 72.6 200.3 75.6 196.6 78.2 193 80.1 186.1 83.0 178.6 85.2 172.6 86.6 165.1 87.9 129.1 92.6 120.1 94.1 105.1 97.1 96 98.3 88.5 98.7 79.5 98.3 69 97.1 61.5 95.6 55.1 93.7 51 92.1 48.3 90.7 46.1 89.2 44.3 87.7 42.9 86.2 41.7 84.7 40 81.6 33.4 66.5 31.8 62.0 31 57.5 31.1 54.4 31.3 52.9 32.2 49.9 32.9 48.4 34.5 45.8 36 43.9 39.3 40.8 42 38.8 45 37.0 51 34.2 58.5 31.7 66 29.9 76.5 28.2 91.5 26.7 97.5 26.4 105.1 26.8 109.6 26.7 112.6 26.3 122.6 24.2ZM76.5 72.2 73.5 73.4 72.2 74.1 70.5 75.4 69.2 77.1 68.8 78.6 69.1 80.1 69.9 81.6 70.5 82.2 71.6 83.2 73.5 84.3 76.5 85.5 81 86.5 84 86.7 87 86.6 91.5 86.0 94.5 85.2 97.5 83.7 99.7 81.6 100.5 80.1 100.6 78.6 100.1 77.1 99 75.6 97.1 74.1 93 72.3 90 71.5 85.5 71.1 81 71.3 76.5 72.2Z" fill="#ff3f10" fill-rule="evenodd"/>
<path d="M125.2 25.7 135.1 25.0 142.6 25.0 147.1 25.4 156.1 26.8 165.1 27.4 169.6 28.0 175.6 29.5 183.1 32.3 189.1 35.3 193.6 38.1 197.2 40.8 201.1 44.7 203.8 48.4 205.6 52.1 208.6 52.1 208.6 65.3 205.6 65.3 204.3 68.0 202.2 71.1 199.6 73.7 197.4 75.6 192.6 78.6 189.6 80.1 186.1 81.6 178.6 84.0 171.1 85.8 157.6 87.9 127.6 91.6 120.1 92.8 103.6 95.8 97.5 96.7 93 97.1 87 97.2 78 96.5 69 95.3 62.4 93.7 57.8 92.2 54.4 90.7 52.5 89.6 49.8 87.7 46.9 84.7 45 81.6 37.4 66.5 35.6 62.0 34.8 57.5 34.8 54.4 35.1 52.9 36 50.1 36.9 48.4 39 45.4 40.5 43.8 43.5 41.3 48 38.4 54 35.7 61.5 33.3 69 31.6 79.5 30.0 91.5 28.8 97.5 28.4 109.6 28.1 112.6 27.8 121.6 26.2 125.2 25.7ZM79.5 71.0 75 72.0 72 73.2 70.5 74.1 68.7 75.6 67.6 77.1 67.1 78.6 67.2 80.1 68 81.6 69.4 83.2 72 84.9 73.5 85.6 76.5 86.5 79.5 87.2 84 87.5 88.5 87.3 91.5 86.8 96 85.5 99 83.7 100.9 81.6 101.5 80.1 101.5 78.6 101 77.1 100 75.6 99 74.8 98.2 74.1 96 72.9 93 71.8 88.5 70.9 84 70.6 79.5 71.0Z" fill="#ff4e10" fill-rule="evenodd"/>
<path d="M127.4 27.2 136.6 26.7 144.1 26.6 148.6 27.0 156.1 28.1 165.1 28.8 169.6 29.6 177.1 31.7 184.6 34.8 190.6 38.2 193.6 40.3 196.1 42.3 198.1 44.3 200.3 46.9 202.2 49.9 203.5 52.9 204.3 56.0 204.5 59.0 204.2 62.0 203.8 63.5 202.7 66.5 201.8 68.0 199.6 71.1 198.2 72.6 195.1 75.2 192.2 77.1 189.5 78.6 186.1 80.2 181.6 81.9 175.6 83.6 168.1 85.3 160.6 86.5 126.1 90.5 118.6 91.6 103.6 94.2 96 95.2 88.5 95.5 82.5 95.1 72.6 93.7 66.2 92.2 61.8 90.7 58.6 89.2 56.2 87.7 54.3 86.2 52.9 84.7 50.6 81.6 43.2 69.6 40.1 63.5 38.8 59.0 38.6 56.0 39 52.9 39.4 51.4 41 48.4 43.4 45.4 46.9 42.3 51 39.8 55.4 37.8 60 36.1 64.5 34.8 70.5 33.5 76.5 32.5 94.5 30.5 109.6 29.6 121.6 27.8 127.4 27.2ZM76.5 70.9 72 72.3 68.5 74.1 66.6 75.6 65.4 77.1 64.8 78.6 64.8 80.1 65.3 81.6 66.4 83.2 69 85.2 72 86.6 76.5 87.9 81 88.6 85.5 88.6 90 88.1 94.5 87.1 97.5 85.9 99 85.0 100.5 83.8 102.1 81.6 102.6 80.1 102.5 78.6 102 77.1 100.9 75.6 99.2 74.1 96 72.3 91.5 70.9 87 70.2 84 70.1 81 70.2 76.5 70.9Z" fill="#ff5e10" fill-rule="evenodd"/>
<path d="M128.5 28.7 138.1 28.2 145.6 28.2 163.6 30.1 169.6 31.1 177.1 33.4 184 36.3 187.6 38.3 190.6 40.2 195 43.9 196.6 45.5 198.9 48.4 199.8 49.9 201.2 52.9 202 56.0 202.3 59.0 201.9 62.0 201.5 63.5 200.3 66.5 199.4 68.0 197.1 71.1 195.6 72.6 192.1 75.3 189.2 77.1 186.3 78.6 182.7 80.1 177.1 82.0 171.1 83.6 165.1 84.8 157.6 85.9 124.6 89.3 100.5 92.7 93 93.1 87 92.8 84 92.2 84.7 90.7 90 89.9 96 88.1 99 86.6 100.5 85.6 102.8 83.2 103.5 81.6 103.8 80.1 103.6 78.6 103 77.1 102 75.6 100.3 74.1 97.9 72.6 96 71.7 91.5 70.4 88.5 69.9 85.5 69.6 79.5 69.8 76.5 70.2 73.5 70.9 68.8 72.6 65.9 74.1 63.6 75.6 60 78.6 58.5 79.3 57 79.0 55.5 78.2 54 77.0 52.5 75.6 49.5 72.0 45.9 66.5 43.6 62.0 42.8 59.0 42.6 57.5 42.7 54.4 43.5 51.4 45 48.7 46.5 46.8 49.9 43.9 54 41.3 58.5 39.2 63 37.7 67.5 36.4 78 34.4 94.5 32.4 109.6 31.1 121.6 29.4 128.5 28.7Z" fill="#ff6d10" fill-rule="evenodd"/>
<path d="M128.6 30.3 139.6 29.6 147.1 29.7 162.1 31.2 168.1 32.2 175.6 34.4 181.6 36.9 187.6 40.2 192.4 43.9 195.1 46.6 196.5 48.4 197.5 49.9 198.9 52.9 199.8 56.0 200 59.0 199.7 62.0 199.3 63.5 198.1 66.3 197 68.0 195.1 70.5 193 72.6 190.6 74.4 187.6 76.3 181.6 79.2 177.1 80.8 171.1 82.4 165.1 83.7 157.6 84.9 148.6 85.9 126.1 87.8 111.1 89.3 106.6 89.6 103.6 89.4 102.4 89.2 102 87.7 103.6 85.4 104.6 83.2 105 81.6 105.1 80.1 104.8 78.6 104.2 77.1 103.1 75.6 102 74.6 100.5 73.5 97.5 71.8 94.5 70.6 90 69.6 85.5 69.1 81 69.1 78 69.3 73.5 70.0 61.5 73.4 60 73.6 58.5 73.4 57 72.9 55.5 72.0 52.8 69.6 51 67.4 49.5 65.1 47.9 62.0 47 59.0 46.7 56.0 47.2 52.9 48.7 49.9 51 47.1 53 45.4 57 42.8 61.3 40.8 65.7 39.3 70.5 38.0 81 36.0 93 34.4 109.6 32.6 121.6 31.0 128.6 30.3Z" fill="#ff7c10" fill-rule="evenodd"/>
<path d="M128.1 31.8 138.1 31.1 147.1 31.0 159.1 32.2 166.6 33.3 174.1 35.4 180.1 37.8 185.6 40.8 187.8 42.3 190.6 44.6 192.9 46.9 195.1 49.8 196 51.4 197.2 54.4 197.6 56.0 197.8 59.0 197.5 62.0 197.1 63.5 195.7 66.5 194.7 68.0 193.5 69.6 190.6 72.4 188.4 74.1 186 75.6 183.1 77.1 179.6 78.6 174.1 80.5 168.1 82.0 162.1 83.2 154.6 84.2 144.1 85.2 120.1 86.8 114.1 87.1 111.1 87.0 109.6 86.7 108.1 86.2 107.1 84.7 106.8 81.6 106.1 78.6 105.4 77.1 104.2 75.6 102.6 74.1 100.5 72.6 97.5 71.1 94.5 70.0 91.5 69.3 88.5 68.8 84 68.4 76.5 68.7 64.5 70.4 61.5 70.3 60 69.9 58.5 69.1 57 68.1 55.5 66.6 53.3 63.5 51.8 60.5 51.1 57.5 51.3 54.4 51.7 52.9 52.4 51.4 53.4 49.9 55.5 47.6 58.5 45.4 61.2 43.9 64.6 42.3 72 40.0 82.7 37.8 96 35.9 128.1 31.8Z" fill="#ff8a10" fill-rule="evenodd"/>
<path d="M127.3 33.3 138.1 32.4 147.1 32.4 156.1 33.1 165.1 34.4 172.3 36.3 178.6 38.7 181.6 40.3 184.6 42.1 188.9 45.4 190.6 47.1 192.8 49.9 193.7 51.4 195 54.4 195.4 56.0 195.7 59.0 195.3 62.0 194.8 63.5 193.6 66.2 192.4 68.0 191.1 69.6 189.1 71.5 186.1 73.8 183.1 75.6 177.1 78.2 172.6 79.7 166.6 81.2 160.6 82.3 153.1 83.3 144.1 84.1 132.1 84.7 120.1 85.1 114.1 84.9 112.6 84.6 111.1 84.0 110.1 83.2 109.6 82.5 107.7 78.6 106.7 77.1 105.5 75.6 103.9 74.1 100.5 71.8 97.5 70.4 91.5 68.6 85.5 67.8 79.5 67.6 69 68.2 66 68.1 64.5 67.8 61.5 66.6 59.7 65.0 58.4 63.5 56.6 60.5 55.9 57.5 55.8 56.0 56.1 54.4 56.6 52.9 57.4 51.4 58.6 49.9 60 48.5 62.2 46.9 64.8 45.4 68.2 43.9 72.6 42.3 76.5 41.3 86 39.3 117.1 34.6 127.3 33.3Z" fill="#ff9910" fill-rule="evenodd"/>
<path d="M126.4 34.8 133.6 34.1 141.1 33.6 147.1 33.7 154.6 34.2 160.6 34.9 166.6 36.1 172.5 37.8 177.1 39.7 182.1 42.3 186.1 45.2 189.4 48.4 191.5 51.4 192.8 54.4 193.2 56.0 193.5 59.0 193.1 62.0 192 65.0 190.6 67.3 188.7 69.6 186.1 71.9 183.1 73.9 180 75.6 176.5 77.1 169.6 79.3 160.6 81.3 150.1 82.5 138.1 83.3 124.6 83.5 117.1 83.2 114.1 82.5 112.6 81.8 111.1 80.6 108.3 77.1 105.4 74.1 103.3 72.6 100.7 71.1 96 69.1 93 68.3 87 67.2 82.5 66.8 72 66.4 69 65.9 66.3 65.0 64.2 63.5 62.8 62.0 61.9 60.5 61.3 59.0 61 57.5 61 56.0 61.5 53.8 62.9 51.4 64.4 49.9 66 48.6 68.8 46.9 72.2 45.4 76.5 43.9 85.5 41.6 103.6 38.3 118.6 35.9 126.4 34.8Z" fill="#ffa610" fill-rule="evenodd"/>
<path d="M125.5 36.3 132.1 35.5 139.6 35.0 145.6 34.9 151.6 35.2 157.6 35.8 163.6 36.8 169.6 38.3 174.1 39.9 178.6 42.0 181.6 43.9 185.5 46.9 188.2 49.9 190 52.9 191.1 56.0 191.4 59.0 191.3 60.5 190.5 63.5 189.1 66.1 187.7 68.0 186.1 69.7 183.1 72.1 179.9 74.1 177.1 75.5 171.1 77.7 163.6 79.6 154.6 81.0 144.1 81.9 132.1 82.1 121.6 81.8 118.6 81.5 115.6 80.7 114.1 80.1 112.6 79.2 107 74.1 104.9 72.6 102 70.9 97.5 68.8 91.5 67.1 85.5 66.0 76.7 65.0 73.5 64.3 71.3 63.5 69.1 62.0 67.9 60.5 67.1 59.0 66.8 57.5 66.8 56.0 67.1 54.4 67.5 53.7 69.2 51.4 71 49.9 73.5 48.3 76.6 46.9 80.8 45.4 86 43.9 91.5 42.5 107.4 39.3 125.5 36.3Z" fill="#ffb210" fill-rule="evenodd"/>
<path d="M139.5 36.3 147.1 36.2 154.6 36.7 162.1 37.8 168.1 39.3 174.1 41.5 178.7 43.9 182.9 46.9 185.8 49.9 187.8 52.9 188.4 54.4 189.1 57.5 189.1 60.5 188.8 62.0 187.5 65.0 185.3 68.0 183.8 69.6 181.6 71.3 176.8 74.1 171.1 76.4 166.6 77.7 160.6 79.0 154.6 79.9 148.6 80.5 141.1 80.8 133.6 80.8 126.1 80.5 120.1 79.9 117.1 79.2 114.1 77.9 106.6 72.4 103.6 70.6 100.5 69.1 96 67.4 91.5 66.1 80 63.5 76.4 62.0 74.6 60.5 73.6 59.0 73.2 57.5 73.2 56.0 73.7 54.4 74.7 52.9 76.3 51.4 78.4 49.9 81.4 48.4 85.2 46.9 95.4 43.9 105.1 41.6 115.6 39.4 127.6 37.4 133.6 36.7 139.5 36.3Z" fill="#ffbe10" fill-rule="evenodd"/>
<path d="M136.4 37.8 144.1 37.4 151.6 37.7 159.1 38.5 165.1 39.8 171.1 41.8 175.6 43.9 180.1 46.8 183.1 49.5 184.6 51.4 185.5 52.9 186.7 56.0 187 59.0 186.9 60.5 186 63.5 184.2 66.5 181.2 69.6 179.2 71.1 176.7 72.6 171.1 75.1 166.6 76.5 160.6 77.9 154.6 78.8 148.6 79.3 141.1 79.6 133.6 79.5 126.1 79.0 121.6 78.4 118.6 77.7 115.6 76.6 112.6 74.9 105.1 70.2 99 67.3 94.5 65.7 87.6 63.5 83.9 62.0 81.8 60.5 80.6 59.0 80.1 57.5 80.2 56.0 80.9 54.4 82.1 52.9 83.9 51.4 86.4 49.9 91.5 47.7 98.4 45.4 103.7 43.9 115.6 41.0 126.1 39.1 136.4 37.8Z" fill="#ffca10" fill-rule="evenodd"/>
<path d="M134.5 39.3 139.6 38.9 145.6 38.7 151.6 38.9 156.1 39.4 160.6 40.1 165.1 41.2 168.6 42.3 172.6 44.0 175.6 45.6 179.4 48.4 181.6 50.7 183.2 52.9 184.4 56.0 184.8 59.0 184.3 62.0 183.7 63.5 181.7 66.5 180.3 68.0 177.1 70.6 174.1 72.3 170 74.1 166.6 75.2 162.1 76.4 158.1 77.1 151.6 77.9 145.6 78.3 139.6 78.3 133.6 78.1 127.6 77.6 123.1 76.9 118.6 75.8 115.6 74.6 105.1 68.8 99 65.9 93.5 63.5 90.7 62.0 88.7 60.5 87.6 59.0 87.2 57.5 87.4 56.0 88.2 54.4 90 52.5 91.5 51.4 94.1 49.9 99 47.8 105.9 45.4 112.6 43.5 120.1 41.7 127.6 40.3 134.5 39.3Z" fill="#ffd510" fill-rule="evenodd"/>
<path d="M133.3 40.8 138.1 40.3 144.1 40.0 150.1 40.1 154.6 40.5 159.1 41.2 163.6 42.2 168.1 43.7 171.1 45.0 174.1 46.6 176.7 48.4 178.6 50.1 180.8 52.9 182.2 56.0 182.5 59.0 182 62.0 181.4 63.5 180.1 65.5 177.7 68.0 175.7 69.6 172.6 71.4 169.6 72.8 165.1 74.3 160.6 75.4 156.1 76.2 151.6 76.7 145.6 77.1 139.6 77.1 133.6 76.7 127.6 76.0 123.1 75.2 119.2 74.1 115.6 72.7 101.3 65.0 96.6 62.0 95 60.5 94.2 59.0 93.9 57.5 94.2 56.0 95.1 54.4 96.5 52.9 98.5 51.4 101.1 49.9 103.6 48.7 108.1 46.9 112.6 45.4 120.1 43.3 126.1 42.0 133.3 40.8Z" fill="#ffe010" fill-rule="evenodd"/>
<path d="M132.7 42.3 138.1 41.7 142.6 41.4 147.1 41.4 151.6 41.6 156.1 42.1 160.6 42.9 164.1 43.9 168.1 45.3 171.3 46.9 173.7 48.4 175.6 49.9 177.1 51.4 178.3 52.9 179.2 54.4 179.8 56.0 180.1 57.5 180.2 59.0 180 60.5 179.6 62.0 178.6 64.0 176.6 66.5 174.1 68.6 171.1 70.4 168.1 71.8 165.1 72.9 160.6 74.1 156.1 74.9 151.6 75.5 145.6 75.8 139.6 75.7 135.1 75.4 129.1 74.6 124.6 73.7 120.5 72.6 117.1 71.3 113.5 69.6 108.2 66.5 103.7 63.5 102 62.0 100.8 60.5 100.1 59.0 100 57.5 100.4 56.0 101.3 54.4 102.7 52.9 104.7 51.4 107.3 49.9 110.5 48.4 114.4 46.9 120.1 45.1 126.1 43.6 132.7 42.3Z" fill="#ffea10" fill-rule="evenodd"/>
<path d="M132.7 43.9 138.1 43.1 142.6 42.8 147.1 42.7 151.6 42.9 156.1 43.5 159.1 44.0 163.6 45.2 166.6 46.4 169.6 47.8 172.6 49.8 174.4 51.4 175.7 52.9 177.1 55.4 177.7 57.5 177.8 59.0 177.6 60.5 177.1 62.0 175.6 64.6 173.8 66.5 171.8 68.0 169.3 69.6 165.9 71.1 162.1 72.3 159.1 73.1 154.6 73.8 150.1 74.3 145.6 74.5 141.1 74.4 136.6 74.1 132.1 73.5 127.6 72.6 123.1 71.4 120.1 70.3 115.6 68.2 112.6 66.5 108.6 63.5 107.1 62.0 106.1 60.5 105.6 59.0 105.6 57.5 106 56.0 107 54.4 108.4 52.9 110.5 51.4 113.1 49.9 115.6 48.8 120.4 46.9 124.6 45.6 132.7 43.9Z" fill="#fff41c" fill-rule="evenodd"/>
<path d="M133.1 45.4 138.1 44.6 142.6 44.2 150.1 44.3 154.6 44.7 157.6 45.2 163.6 46.9 166.9 48.4 169.5 49.9 171.4 51.4 172.9 52.9 174.1 54.7 174.7 56.0 175.1 57.5 175.2 59.0 175 60.5 174.5 62.0 173.6 63.5 172.4 65.0 170.7 66.5 168.1 68.3 165.5 69.6 162.1 70.8 159.1 71.6 154.6 72.4 147.1 73.0 142.6 73.0 138.1 72.7 133.6 72.1 129.1 71.1 123.1 69.2 120.3 68.0 117.1 66.2 115.3 65.0 113.5 63.5 112.1 62.0 111.2 60.5 110.8 59.0 110.8 57.5 111.3 56.0 112.2 54.4 113.8 52.9 115.9 51.4 118.6 49.9 122.1 48.4 126.1 47.1 133.1 45.4Z" fill="#fffe2d" fill-rule="evenodd"/>
<path d="M134.2 46.9 141.1 45.9 148.6 45.7 153.1 46.1 156.1 46.5 159.1 47.2 162.1 48.2 165.8 49.9 168.1 51.4 169.8 52.9 171 54.4 171.8 56.0 172.3 57.5 172.4 59.0 172.2 60.5 171.6 62.0 170.6 63.5 169.2 65.0 167.3 66.5 164.5 68.0 162.1 69.1 159.1 70.0 156.1 70.7 153.1 71.1 148.6 71.5 141.1 71.4 138 71.1 133.6 70.3 127.6 68.6 122.7 66.5 120.3 65.0 118.4 63.5 117 62.0 116.1 60.5 115.7 59.0 115.7 57.5 116.3 56.0 117.3 54.4 118.9 52.9 121.2 51.4 124.3 49.9 127.6 48.7 134.2 46.9Z" fill="#ffff56" fill-rule="evenodd"/>
<path d="M136 48.4 142.6 47.5 148.6 47.4 154.6 48.0 157.6 48.7 160.6 49.6 164.2 51.4 166.3 52.9 167.8 54.4 168.7 56.0 169.2 57.5 169.4 59.0 169.1 60.5 168.4 62.0 167.3 63.5 165.6 65.0 163.6 66.3 159.5 68.0 154.6 69.3 148.6 69.9 142.6 69.8 136.6 69.0 132.6 68.0 130.6 67.3 128.5 66.5 125.6 65.0 123.1 63.1 121.9 62.0 121 60.5 120.5 59.0 120.6 57.5 121.2 56.0 122.4 54.4 124.6 52.7 126.8 51.4 130.4 49.9 136 48.4Z" fill="#ffff83" fill-rule="evenodd"/>
<path d="M138.8 49.9 144.1 49.3 150.1 49.3 154.6 50.0 159.1 51.3 162.1 52.9 163.9 54.4 165.1 56.0 165.7 57.5 165.9 59.0 165.6 60.5 164.8 62.0 163.6 63.3 161.1 65.0 157.6 66.5 153.1 67.6 148.6 68.1 142.6 67.9 138.1 67.2 133.6 65.9 131.5 65.0 129.1 63.6 127.1 62.0 126.1 60.5 125.6 59.0 125.7 57.5 126.4 56.0 127.6 54.7 130 52.9 133.6 51.3 138.8 49.9Z" fill="#ffffb0" fill-rule="evenodd"/>
<path d="M145.7 51.4 150.1 51.6 153.1 52.1 156.1 52.9 159 54.4 160.6 56.0 161.5 57.5 161.7 59.0 161.2 60.5 160.1 62.0 157.6 63.7 154.2 65.0 150.1 65.7 145.6 65.8 141.1 65.3 138.1 64.5 135.1 63.3 133.1 62.0 131.7 60.5 131.2 59.0 131.3 57.5 132.3 56.0 134.1 54.4 137.3 52.9 141.1 52.0 145.7 51.4Z" fill="#ffffd8" fill-rule="evenodd"/>
<path d="M140.7 56.0 142.6 55.3 145.6 54.7 148.6 54.7 150.1 54.9 153.4 56.0 155.1 57.5 155.5 59.0 154.7 60.5 152 62.0 148.6 62.6 147.1 62.7 144.1 62.4 142.4 62.0 139.6 60.5 138.6 59.0 138.9 57.5 140.7 56.0Z" fill="#fffff2" fill-rule="evenodd"/>
</g>
<path d="M104.3 -3.0 104.3 0.0 103.6 2.4 103.3 4.6 103.6 7.6 104.1 9.1 105.1 11.0 106.6 12.5 108.1 13.1 109.6 13.1 111.1 12.6 112.6 11.2 113.7 9.1 114.2 7.6 114.5 4.6 114.1 1.6 113.5 0.0 113.5 -3.0M153 -3.0 153 0.0 152.5 1.5 152.1 4.6 152.3 7.6 153.1 9.7 153.6 10.6 154.6 11.8 156.1 12.8 157.6 13.2 159.1 12.9 160.6 12.1 162.1 10.1 162.6 9.1 163 7.6 163.3 4.6 162.8 1.5 162.3 0.0 162.3 -3.0M-3 7.2 0 7.2 0.9 0.0 0.9 -3.0M84 76.9 83.3 77.1 82.3 78.6 84 79.7 85.5 80.0 87 79.9 88.5 79.2 89.3 78.6 88.4 77.1 87 76.8 85.5 76.7 84 76.9M208.6 101.0 205.6 101.0 199.6 101.7 195.1 101.9 189.1 102.0 177.1 101.6 172.6 101.8 168.1 102.3 164.9 102.8 159.7 104.3 153.1 106.8 147.1 108.6 136.6 110.9 120.1 114.1 109.6 115.9 100.5 117.1 94.5 117.6 87 117.8 79.5 117.7 72 117.4 66 117.0 57 116.1 42 114.2 24 111.2 15 109.3 9 107.7 6 106.5 3 104.8 1.5 103.6 0 101.6 -3 101.6M97.7 -3.0 97.7 0.0 98.6 6.1 99.5 9.1 100.9 12.1 101.9 13.6 103.3 15.1 105.1 16.4 106.6 17.1 108.1 17.4 109.6 17.4 111.1 17.1 112.1 16.7 114.1 15.4 115.7 13.6 116.7 12.1 117.4 10.6 118.4 7.6 119 4.6 119.4 0.0 119.4 -3.0M147.2 -3.0 147.2 0.0 147.5 4.6 148.1 7.6 149.2 10.6 151 13.6 153.1 15.6 154.9 16.7 156.1 17.1 157.6 17.3 159.1 17.2 160.6 16.8 162.1 16.0 163.6 14.9 164.8 13.6 165.9 12.1 167.4 9.1 168.2 6.1 169.2 0.0 169.2 -3.0M192.7 -3.0 192.8 0.0 195.2 1.5 197 3.0 198.4 4.6 200.4 7.6 203.7 13.6 205.6 16.3 208.6 16.3M81 75.1 79.8 75.6 78 77.1 77.6 78.6 78.4 80.1 79.5 80.9 81 81.7 82.5 82.1 85.5 82.4 88.5 82.1 90 81.8 91.5 81.1 93 80.1 93.7 78.6 93.3 77.1 91.5 75.7 90 75.1 88.5 74.7 85.5 74.4 82.5 74.7 81 75.1M208.6 89.2 205.6 89.2 198.1 91.4 189.1 93.2 181.6 94.2 163.6 96.2 153.1 97.8 142.9 99.8 117.1 105.2 108.1 106.9 99 108.1 90 108.7 79.5 108.6 69 108.0 57 106.7 46.5 105.0 34.5 102.5 25.5 100.1 19.5 98.0 16.9 96.8 14.2 95.3 12 93.5 10.7 92.2 9.6 90.7 8.8 89.2 7.8 86.2 7.1 81.6 5.4 62.0 5.3 54.4 5.6 49.9 6 46.9 6.6 43.9 7.5 40.6 8.6 37.8 10 34.8 11.9 31.8 13.5 29.6 16.5 26.3 19.5 23.5 22.5 21.1 27 17.8 31.5 14.8 36 12.2 37.5 11.6 39 11.1 40.5 11.0 42 11.2 43.5 11.7 47.5 13.6 49.5 14.3 51 14.7 52.5 14.8 54 14.7 55.5 14.3 57 13.6 59.1 12.1 60.5 10.6 62.5 7.6 64.5 3.4 66 1.1 67.1 0.0 67.1 -3.0M78 74.1 75.4 75.6 74.1 77.1 73.8 78.6 74.3 80.1 75.8 81.6 78 82.9 79.5 83.4 81 83.8 84 84.2 87 84.2 90 83.8 92.4 83.2 94.5 82.1 95.3 81.6 96.6 80.1 97 78.6 96.6 77.1 95.3 75.6 93 74.3 91.5 73.7 88.5 73.0 87 72.9 84 72.8 81 73.2 78 74.1M208.6 81.1 205.6 81.2 201.1 83.5 195.1 85.9 189.1 87.7 181.6 89.4 172.6 91.0 152.4 93.7 139.6 95.7 127.6 97.9 109.6 101.6 103.6 102.6 94.5 103.6 87 103.9 75 103.4 64.5 102.4 57 101.2 49.8 99.8 43.8 98.3 39 96.8 35 95.3 31.8 93.7 28.5 91.7 27.2 90.7 25.6 89.2 24.3 87.7 23.4 86.2 22.6 84.7 21.6 81.6 17.3 63.5 16.6 59.0 16.5 56.0 16.9 51.4 17.7 48.4 18.9 45.4 21 41.6 24 37.9 27 35.1 30 32.7 34.5 29.8 40.5 26.8 45 25.1 57 22.3 67.5 18.8 73.5 17.5 84 16.1 90 15.6 93 15.8 94.5 16.2 96 16.8 101.4 19.7 103.6 20.6 106.6 21.4 109.6 21.5 112.6 20.9 115.4 19.7 117.8 18.2 123.1 14.3 126.1 12.9 129.1 12.3 132.1 12.1 136.6 12.1 139.6 12.4 141.1 12.8 144.1 14.3 149.4 18.2 151.6 19.4 154.6 20.6 156.1 21.0 159.1 21.1 162.1 20.7 168.1 18.6 171.1 17.8 172.6 17.8 174.1 17.9 177.1 18.7 184.6 21.6 192.1 25.2 199.6 29.6 205.6 33.9 208.6 33.9M76.5 72.5 72.8 74.1 70.9 75.6 69.8 77.1 69.5 78.6 69.7 80.1 70.7 81.6 72 82.9 73.5 83.8 76.5 85.1 79.5 85.9 84 86.4 87 86.3 91.5 85.7 94.5 84.8 96 84.1 97.5 83.2 99.2 81.6 100 80.1 100.2 78.6 99.7 77.1 98.6 75.6 96.6 74.1 93 72.5 90 71.7 85.5 71.3 81 71.5 76.5 72.5M208.6 71.5 205.6 71.5 203.2 74.1 199.5 77.1 195.1 79.8 191.3 81.6 187.4 83.2 183.1 84.5 174.1 86.7 162.1 88.8 138.1 91.8 129.1 93.1 121.6 94.4 106.6 97.4 99 98.6 93 99.1 88.5 99.3 84 99.2 76.5 98.7 70.5 98.0 64.5 97.0 60 96.0 55.5 94.8 52.3 93.7 48 91.9 45 90.1 43.7 89.2 42 87.7 40.7 86.2 39.6 84.7 38 81.6 31.7 66.5 30.6 63.5 29.8 60.5 29.4 57.5 29.4 56.0 29.7 52.9 30 51.4 31.2 48.4 33 45.4 35.6 42.3 39.2 39.3 43.5 36.5 48 34.3 54 32.0 58.5 30.7 64.5 29.2 70.5 28.0 78 27.0 87 26.1 94.5 25.6 99 25.7 106.6 26.2 109.6 26.1 114.1 25.4 120.1 23.9 123.1 23.3 130.6 22.6 138.1 22.3 142.6 22.4 147.1 23.1 153.1 24.6 156.1 25.1 159.1 25.3 168.1 25.4 171.1 25.8 175.6 26.9 183.1 29.6 187.6 31.6 190.8 33.3 195.7 36.3 199.6 39.2 202.9 42.3 205.6 45.5 208.6 45.5M131.5 28.7 139.6 28.4 147.1 28.5 163.6 30.3 169.6 31.3 174.1 32.6 177.1 33.6 181.6 35.4 184.6 36.9 187.6 38.5 190.6 40.5 193 42.3 195.1 44.3 197.4 46.9 199.5 49.9 200.3 51.4 201.4 54.4 201.7 56.0 201.9 59.0 201.6 62.0 201.1 63.8 200 66.5 199.1 68.0 196.7 71.1 195.1 72.7 192.1 75.0 189.1 76.9 185.8 78.6 182.2 80.1 177.1 81.8 171.1 83.4 165.1 84.6 157.6 85.8 148.6 86.8 124.6 89.1 100.5 92.4 94.5 92.7 91.5 92.6 88.5 92.4 87.4 92.2 87.8 90.7 91.5 90.0 93.5 89.2 96 88.5 99 87.0 100.5 85.9 102 84.5 103 83.2 103.7 81.6 104 80.1 103.8 78.6 103.2 77.1 102.1 75.6 100.5 74.1 98.1 72.6 96 71.7 91.5 70.3 88.5 69.8 85.5 69.6 82.5 69.5 79.5 69.7 75 70.4 70.5 71.7 68.4 72.6 65.3 74.1 60 77.5 58.5 78.0 57 77.8 55.5 77.1 54 76.0 51 72.9 48.5 69.6 46.5 66.6 45 63.8 44.2 62.0 43.4 59.0 43.1 56.0 43.6 52.9 44.1 51.4 45 49.7 47.1 46.9 48.7 45.4 50.6 43.9 54 41.7 59.3 39.3 63.7 37.8 69 36.4 73.5 35.5 79.5 34.5 93 32.8 109.6 31.3 123.1 29.5 131.5 28.7M141 33.3 148.6 33.3 157.6 34.1 165.1 35.4 171.1 36.9 177.3 39.3 180.4 40.8 183 42.3 185.2 43.9 187.6 45.9 190 48.4 191.2 49.9 192.1 51.4 193.5 54.4 193.9 56.0 194.1 59.0 193.7 62.0 193.3 63.5 191.8 66.5 190.7 68.0 189.1 69.9 187.6 71.2 184.6 73.5 180.1 76.0 177.1 77.3 173.3 78.6 168.1 80.1 162.1 81.3 156.1 82.2 148.6 83.0 139.6 83.5 127.6 83.9 120.1 83.9 115.6 83.5 114.1 83.2 112.6 82.6 111.3 81.6 109.6 79.6 107.8 77.1 106.5 75.6 104.9 74.1 102 72.1 99 70.5 96 69.4 93 68.5 87 67.4 81 67.0 70.5 66.8 67.5 66.4 64.5 65.2 62.4 63.5 61.2 62.0 60.4 60.5 59.8 59.0 59.5 57.5 59.5 56.0 59.7 54.4 60.3 52.9 61.3 51.4 62.6 49.9 64.4 48.4 66.8 46.9 70 45.4 74 43.9 79.3 42.3 86.1 40.8 96 39.0 113 36.3 127.6 34.2 135.1 33.6 141 33.3M144 37.8 151.6 38.0 157.6 38.7 163.6 39.8 168.1 41.1 172.6 42.8 177.3 45.4 179.5 46.9 181.3 48.4 182.7 49.9 183.9 51.4 184.9 52.9 185.6 54.4 186.1 56.1 186.4 59.0 186.3 60.5 185.9 62.0 185.3 63.5 184.5 65.0 183.5 66.5 182.1 68.0 180.4 69.6 178.4 71.1 174.1 73.4 169.6 75.2 165.1 76.5 159.1 77.8 153.1 78.6 147.1 79.1 141.1 79.2 133.6 79.1 127 78.6 121.6 77.9 118.6 77.1 115.6 76.0 112.6 74.4 106.6 70.7 103.6 69.0 100.5 67.6 96 65.8 89.4 63.5 86 62.0 83.8 60.5 82.6 59.0 82.2 57.5 82.3 56.0 83 54.4 84.2 52.9 86.1 51.4 88.7 49.9 92 48.4 96 46.9 105.9 43.9 114.1 41.8 121.6 40.3 127.6 39.2 133.6 38.5 139.6 38.0 144 37.8M131.4 43.9 136.6 43.1 141.1 42.7 145.6 42.5 150.1 42.6 154.6 43.1 157.6 43.5 162.1 44.6 165.1 45.5 168.3 46.9 171.1 48.4 174.1 50.7 176.1 52.9 177.1 54.6 177.7 56.0 178 57.5 178.1 59.0 177.9 60.5 177.5 62.0 176.7 63.5 175.6 65.0 174.2 66.5 172.3 68.0 169.8 69.6 166.6 71.1 163.6 72.1 160.6 72.9 156.1 73.8 151.6 74.4 147.1 74.6 142.6 74.6 136.6 74.3 132.1 73.7 127.6 72.9 123.1 71.7 120.1 70.6 117.5 69.6 114.5 68.0 109.7 65.0 107.9 63.5 106.4 62.0 105.4 60.5 104.9 59.0 104.8 57.5 105.3 56.0 106.2 54.4 107.7 52.9 109.7 51.4 112.3 49.9 114.1 49.1 117.1 47.8 121.6 46.2 126.1 45.0 131.4 43.9M141.1 48.4 147.1 48.1 150.1 48.2 153.1 48.5 156.1 49.1 158.8 49.9 162.3 51.4 165.1 53.3 166.2 54.4 167.2 56.0 167.8 57.5 168 59.0 167.7 60.5 166.9 62.0 165.7 63.5 163.8 65.0 161 66.5 156.1 68.2 153.1 68.7 150.1 69.0 144.1 69.1 138.1 68.4 135.1 67.8 132.1 66.8 128 65.0 125.7 63.5 124.1 62.0 123.1 60.5 122.7 59.0 122.8 57.5 123.4 56.0 124.6 54.4 126.1 53.3 129.4 51.4 132.1 50.4 135.1 49.5 141.1 48.4" fill="none" stroke="#504a30" stroke-opacity="0.75" stroke-width="0.65"/>
</g></g>
<path d="M334.7 181.4V319.5H541.4" stroke="#000" stroke-width="1.3" fill="none"/>
<path d="M334.7 181.4H541.0999999999999V319.0" stroke="#000" stroke-width="0.9" fill="none"/>
<text x="330.2" y="184.3" font-size="8.5" text-anchor="end" fill="#000" >3.5</text>
<text x="330.2" y="211.8" font-size="8.5" text-anchor="end" fill="#000" >3.0</text>
<text x="330.2" y="239.3" font-size="8.5" text-anchor="end" fill="#000" >2.5</text>
<text x="330.2" y="266.9" font-size="8.5" text-anchor="end" fill="#000" >2.0</text>
<text x="330.2" y="294.4" font-size="8.5" text-anchor="end" fill="#000" >1.5</text>
<text x="330.2" y="321.9" font-size="8.5" text-anchor="end" fill="#000" >1.0</text>
<text x="335.2" y="330.4" font-size="8.5" text-anchor="middle" fill="#000" >0</text>
<text x="414.3" y="330.4" font-size="8.5" text-anchor="middle" fill="#000" >5</text>
<text x="493.4" y="330.4" font-size="8.5" text-anchor="middle" fill="#000" >10</text>
<path d="M334.7 181.4h-2.6M334.7 195.2h-1.5M334.7 208.9h-2.6M334.7 222.7h-1.5M334.7 236.4h-2.6M334.7 250.2h-1.5M334.7 264.0h-2.6M334.7 277.7h-1.5M334.7 291.5h-2.6M334.7 305.2h-1.5M334.7 319.0h-2.6M335.2 319.5v2.6M374.7 319.5v1.5M414.3 319.5v2.6M453.8 319.5v1.5M493.4 319.5v2.6M532.9 319.5v1.5" stroke="#000" stroke-width="1" fill="none"/>
<text x="437.4" y="345.6" font-size="8.5" text-anchor="middle"><tspan font-style="italic">k</tspan> (Å<tspan font-size="5.5" dy="-3">−1</tspan><tspan dy="3">)</tspan></text>
<text transform="translate(313.8 250.2) rotate(-90)" font-size="8.5" text-anchor="middle">R+ΔR (Å)</text>
<text x="351.6" y="205.6" font-size="15.4" fill="#fff">Pd foil</text>
<clipPath id="cp2"><rect x="0" y="0" width="205.8" height="137.8"/></clipPath>
<g transform="translate(337.4 350.6)"><g clip-path="url(#cp2)">
<g filter="url(#soft)">
<rect x="-3" y="-3" width="211.8" height="143.8" fill="#1a0000"/>
<path d="M-3 -3.0 201.7 -3.0 201.7 0.0 202.4 3.1 204.3 8.3 205.8 11.5 208.8 11.5 208.8 120.8 205.8 120.8 201.9 122.6 199.6 124.1 197.8 125.7 196.5 127.2 195.6 128.7 195.1 130.2 195 131.7 195.3 133.2 196 134.7 198.2 137.8 198.3 140.8 -3 140.8 -3 -3.0ZM147.2 73.8 146.4 74.2 147.2 75.7 148.7 75.9 150.6 75.7 151.6 74.2 150.2 73.7 148.7 73.6 147.2 73.8Z" fill="#240000" fill-rule="evenodd"/>
<path d="M-3 -3.0 200.5 -3.0 200.5 0.0 201.3 3.1 202.8 7.7 204.3 11.3 205.8 14.4 208.8 14.5 208.8 120.0 205.8 120.0 202.8 121.4 200.6 122.6 198.4 124.1 196.6 125.7 195.3 127.2 194.4 128.7 193.9 130.2 193.7 131.7 194 133.2 194.6 134.7 196.7 137.8 196.7 140.8 -3 140.8 -3 -3.0ZM75.1 60.5 74.5 62.1 75.1 62.6 76.6 63.2 78.1 63.3 79.6 62.8 80.4 62.1 79.9 60.6 79.6 60.5 78.1 60.1 76.6 60.1 75.1 60.5ZM145.7 74.1 145.7 74.6 146.3 75.7 147.2 76.0 148.7 76.2 150.2 76.1 151.7 75.7 152.3 74.2 150.2 73.3 148.7 73.2 147.2 73.4 145.7 74.1Z" fill="#2a0000" fill-rule="evenodd"/>
<path d="M-3 -3.0 199.4 -3.0 199.4 0.0 200.2 3.1 201.7 7.6 204.3 14.1 205.8 17.3 208.8 17.3 208.8 119.2 205.8 119.2 201.8 121.1 197.2 124.1 195.5 125.7 194.2 127.2 193.3 128.7 192.7 130.2 192.5 131.7 192.7 133.2 193.2 134.7 195.1 137.8 195.1 140.8 -3 140.8 -3 -3.0ZM73.6 60.3 73.2 60.6 72.8 62.1 73.6 63.0 74.3 63.6 75.1 63.9 76.6 64.2 78.1 64.2 79.6 63.9 81.1 63.0 81.8 62.1 81.3 60.6 79.6 59.7 78.1 59.3 76.6 59.3 75.1 59.6 73.6 60.3ZM145.7 73.7 145 74.2 145.5 75.7 147.2 76.3 148.7 76.5 150.2 76.4 152.4 75.7 152.9 74.2 151.7 73.4 150.2 72.9 148.7 72.8 147.2 73.1 145.7 73.7Z" fill="#2e0000" fill-rule="evenodd"/>
<path d="M-3 -3.0 198.4 -3.0 198.4 0.0 199.8 5.1 202.8 13.3 205.8 20.2 208.8 20.2 208.8 118.5 205.8 118.5 201.3 120.7 198.1 122.6 196.1 124.1 194.4 125.7 193.1 127.2 192.1 128.7 191.5 130.2 191.3 131.7 191.4 133.2 191.8 134.7 193.6 137.8 193.6 140.8 -3 140.8 -3 -3.0ZM75.1 58.8 73.6 59.2 71.7 60.6 71.3 62.1 72.3 63.6 73.6 64.4 75.1 64.8 76.6 65.0 78.1 65.0 79.6 64.7 81.8 63.6 82.8 62.1 82.3 60.6 81.1 59.7 79.9 59.1 78.1 58.7 75.1 58.8ZM148.7 72.6 147.2 72.7 145.7 73.3 144.5 74.2 144.9 75.7 147.2 76.6 148.7 76.8 150.2 76.7 151.7 76.4 153.1 75.7 153.6 74.2 153.2 73.9 151.7 73.0 150.6 72.7 148.7 72.6ZM73.6 79.4 72.8 80.3 73.6 80.7 75.1 80.9 76.9 80.3 76.6 79.9 75.1 79.0 73.6 79.4Z" fill="#340000" fill-rule="evenodd"/>
<path d="M-3 -3.0 197.4 -3.0 197.4 0.0 198.7 4.6 201.3 12.1 205.8 23.3 208.8 23.3 208.8 117.7 205.8 117.7 201.3 119.9 197 122.6 195 124.1 192 127.2 191 128.7 190.3 130.2 190 131.7 190.1 133.2 190.5 134.7 192 137.8 192 140.8 -3 140.8 -3 -3.0ZM72.1 59.0 70.2 60.6 69.8 62.1 70.6 63.7 72.1 64.8 73.6 65.4 76.6 65.9 79.6 65.5 81.1 64.9 82.6 64.0 83 63.6 83.7 62.1 83.2 60.6 82.6 60.0 81.3 59.1 79.6 58.5 78.1 58.2 75.1 58.2 72.1 59.0ZM147.2 72.5 145.7 73.0 143.9 74.2 144.2 75.7 145.7 76.5 147.2 76.9 148.7 77.1 150.2 77.0 151.7 76.7 153.8 75.7 154.1 74.2 151.8 72.7 150.2 72.4 147.2 72.5ZM72.1 78.4 71.5 78.7 71 80.3 72.1 81.2 73.2 81.8 75.1 81.9 76.6 81.8 78.5 80.3 77.9 78.7 76.6 78.1 75.1 77.8 73.6 77.9 72.1 78.4Z" fill="#380000" fill-rule="evenodd"/>
<path d="M-3 -3.0 196.4 -3.0 196.4 0.0 197.7 4.6 205.8 26.8 208.8 26.8 208.8 60.3 205.8 60.4 205.1 65.1 204.8 69.7 205 72.7 205.8 75.8 208.8 75.8 208.8 116.9 205.8 116.9 201.3 119.2 195.3 123.1 192.2 125.7 190.9 127.2 189.8 128.7 189.2 130.2 188.8 131.7 188.8 133.2 189 134.7 190.4 137.8 190.4 140.8 -3 140.8 -3 -3.0ZM70.6 58.9 68.6 60.6 68.2 62.1 68.7 63.6 70.6 65.3 72.1 66.1 73.6 66.5 76.6 66.8 79.6 66.3 81.1 65.8 82.6 64.9 84 63.6 84.5 62.1 84 60.6 82.6 59.2 81.1 58.5 79.6 58.0 78.1 57.7 75.1 57.6 72.1 58.2 70.6 58.9ZM145.7 72.6 143.4 74.2 143.7 75.7 145.7 76.8 147.2 77.2 150.2 77.3 151.7 77.0 153.2 76.4 154.4 75.7 154.7 74.2 152.6 72.7 150.2 72.2 148.7 72.2 145.7 72.6ZM72.1 77.1 70.6 77.9 69.8 78.7 69.7 80.3 71.3 81.8 73.6 82.3 76.6 82.2 78.3 81.8 79.7 80.3 79.4 78.7 78.1 77.7 77.1 77.2 75.1 76.8 73.6 76.8 72.1 77.1Z" fill="#3e0000" fill-rule="evenodd"/>
<path d="M-3 -3.0 195.4 -3.0 195.4 0.0 195.9 1.5 198.3 8.9 203.4 22.7 204.8 27.3 205.8 31.5 208.8 31.5 208.8 51.7 205.8 51.7 203.6 63.6 203 69.7 203.2 72.7 203.8 75.7 204.3 77.2 205.8 80.2 208.8 80.2 208.8 116.1 205.8 116.1 199.8 119.4 196.8 121.3 192.8 124.1 189.8 127.2 188.7 128.7 187.9 130.2 187.5 131.7 187.4 133.2 187.6 134.7 188.7 137.8 188.7 140.8 -3 140.8 -3 -3.0ZM72.1 57.5 70.6 58.0 68.3 59.1 66.9 60.6 66.4 62.1 66.7 63.6 67.8 65.1 69.1 66.1 70.6 67.0 72.1 67.5 73.6 67.8 75.1 67.9 78.1 67.7 79.6 67.3 82.6 65.9 84.1 64.6 84.9 63.6 85.2 62.1 84.8 60.6 83.3 59.1 82.6 58.7 79.7 57.5 78.1 57.2 75.1 57.1 72.1 57.5ZM145.7 72.4 144.2 73.1 143 74.2 143.2 75.7 144.2 76.5 145.7 77.2 148.7 77.6 151.7 77.3 153.2 76.8 155 75.7 155.2 74.2 153.2 72.6 150.2 72.0 147.2 72.1 145.7 72.4ZM70.6 76.4 69.1 77.5 68.3 78.7 68.5 80.3 70 81.8 70.6 82.0 73.6 82.8 76.6 82.7 79.5 81.8 80.7 80.3 80.6 78.7 79.6 77.5 78.1 76.5 76.6 76.0 73.6 75.7 72.1 75.9 70.6 76.4Z" fill="#430000" fill-rule="evenodd"/>
<path d="M-3 -3.0 194.5 -3.0 194.5 0.0 196.4 6.1 202.4 22.7 204.1 28.8 205.2 34.8 205.5 40.9 205.1 47.0 204.1 53.0 201.8 65.1 201.4 68.1 201.3 71.2 201.7 74.2 202 75.7 203.2 78.7 204.3 80.8 205.8 83.1 208.8 83.1 208.8 115.3 205.8 115.3 199.8 118.7 193.7 122.6 190 125.7 188.6 127.2 187.5 128.7 186.7 130.2 186.2 131.7 186 133.2 186 134.7 187 137.8 187 140.8 -3 140.8 -3 -3.0ZM70.6 57.1 69.1 57.5 66.2 59.1 64.7 60.6 64.1 62.1 64.3 63.6 65 65.1 66.1 66.3 67.6 67.6 70.6 69.2 73.6 69.8 75.1 69.7 78.1 69.1 81.1 67.8 82.6 66.9 84.1 65.8 85.7 63.6 86 62.1 85.5 60.6 84.1 59.1 81.2 57.5 79.6 57.1 76.6 56.6 73.6 56.6 70.6 57.1ZM145.7 72.2 144.2 72.7 142.5 74.2 142.6 75.7 144.2 76.9 145 77.2 147.2 77.7 148.7 77.8 151.7 77.6 153.2 77.2 155.6 75.7 155.8 74.2 154.1 72.7 153.2 72.4 150.2 71.8 147.2 71.9 145.7 72.2ZM73.6 74.0 70.6 74.6 69.1 75.5 67.6 76.9 66.9 78.7 67.3 80.3 69.1 81.9 72.1 83.0 73.6 83.3 76.6 83.2 78.1 82.8 80.5 81.8 81.7 80.3 81.7 78.7 80.9 77.2 79.6 76.1 78.1 75.1 76.6 74.5 73.6 74.0Z" fill="#4f0101" fill-rule="evenodd"/>
<path d="M15.6 -3.0 193.5 -3.0 193.5 0.0 201.4 22.7 203.1 28.8 203.9 33.3 204.3 39.4 204 45.4 203.1 51.5 200 66.6 199.8 69.7 199.8 72.7 200.4 75.7 201.3 78.3 202.2 80.3 204.1 83.3 205.8 85.4 208.8 85.4 208.8 114.4 205.8 114.4 201.3 117.1 192.6 122.6 188.9 125.7 187.5 127.2 185.5 130.2 184.9 131.7 184.5 133.2 184.5 134.7 185.1 137.8 185.1 140.8 -3 140.8 -3 71.1 0 71.1 4.7 69.7 7.5 68.6 11.6 66.6 13.7 65.1 15.2 63.6 16.1 62.1 16.7 60.6 16.9 59.1 16.9 57.5 16.5 54.5 13.2 42.4 11.9 36.4 11.3 31.8 10.9 25.8 11.1 19.7 11.7 15.2 12.9 9.1 15.6 0.0 15.6 -3.0ZM66.1 57.5 63.3 59.1 61.8 60.6 61.1 62.1 61.1 63.6 61.6 65.1 62.6 66.6 66.8 71.2 67.2 72.7 65.4 77.2 65.4 78.7 66.1 80.3 67.7 81.8 69.1 82.5 71.2 83.3 73.6 83.6 76.6 83.6 78.1 83.3 81.4 81.8 82.6 80.3 82.8 78.7 82.6 78.2 82.2 77.2 81.1 75.7 79.7 74.2 78.6 72.7 78.9 71.2 80.6 69.7 84.1 67.0 85.8 65.1 86.5 63.6 86.7 62.1 86.1 60.6 84.8 59.1 82.6 57.7 81.1 57.1 78.1 56.3 75.1 56.1 72.1 56.1 69.1 56.6 66.1 57.5ZM144.2 72.4 143.7 72.7 142 74.2 142.1 75.7 144.2 77.2 145.7 77.7 148.7 78.1 151.7 77.9 154 77.2 156.2 75.7 156.4 74.2 154.7 72.7 153.2 72.1 151.7 71.8 148.7 71.5 145.7 72.0 144.2 72.4Z" fill="#5b0202" fill-rule="evenodd"/>
<path d="M30.3 -3.0 192.5 -3.0 192.5 0.0 200.1 21.2 201.8 27.3 202.7 31.8 203.2 37.9 203.2 40.9 202.9 45.4 201.9 51.5 198.6 66.6 198.2 69.7 198.3 72.7 198.8 75.7 199.2 77.2 200.6 80.3 202.5 83.3 205.8 87.5 208.8 87.5 208.8 113.5 205.8 113.5 196 119.6 191.5 122.6 187.8 125.7 186.3 127.2 184.2 130.2 183 133.2 182.8 134.7 183 137.8 183 140.8 -3 140.8 -3 77.8 0 77.8 9.1 75.7 19.8 72.7 24 71.2 27.2 69.7 29.7 68.1 31.5 66.6 32.8 65.1 33.6 63.6 33.9 62.1 33.9 60.6 33.6 59.1 32.6 56.0 28.2 45.4 26.7 40.9 25.9 37.9 24.9 33.3 24.3 27.3 24.4 21.2 25.3 15.2 26.4 10.6 27.3 7.6 30.3 0.0 30.3 -3.0ZM67.6 55.9 64.6 56.6 61.8 57.5 59 59.1 57.3 60.6 56.5 62.1 56.3 63.6 56.8 65.1 57.7 66.6 61.6 71.6 62.2 72.7 62.7 74.2 63.2 77.2 63.8 78.7 64.8 80.3 66.5 81.8 69.7 83.3 72.1 83.8 75.1 84.0 76.6 83.9 79.6 83.2 82.3 81.8 83.5 80.3 83.8 78.7 83.6 77.2 82.1 74.2 81.7 72.7 82.1 71.2 83.1 69.7 85.6 66.9 86.8 65.1 87.3 63.6 87.4 62.1 86.8 60.6 85.6 59.1 84.1 58.0 82.6 57.2 79.6 56.2 76.6 55.6 73.6 55.4 70.6 55.5 67.6 55.9ZM144.2 72.2 143.1 72.7 141.5 74.2 141.6 75.7 143.5 77.2 145.7 78.0 148.7 78.3 151.7 78.1 154.9 77.2 156.8 75.7 157 74.2 155.4 72.7 153.2 71.9 151.7 71.5 148.7 71.3 145.7 71.7 144.2 72.2Z" fill="#670202" fill-rule="evenodd"/>
<path d="M39.2 -3.0 191.5 -3.0 191.5 0.0 197.3 15.2 200.2 24.2 201.5 30.3 202.1 34.8 202.3 39.4 201.9 45.4 200.5 53.0 197.2 66.6 196.6 71.2 196.9 74.2 197.6 77.2 199 80.3 200.9 83.3 202.8 85.8 205.8 89.5 208.8 89.5 208.8 112.5 205.8 112.5 190.5 122.6 186.7 125.7 185.2 127.2 182.8 130.2 181.4 133.2 180.8 136.3 180.8 140.8 -3 140.8 -3 81.3 0 81.3 11.6 78.7 24 75.7 33.9 72.7 43.6 69.2 46.6 68.6 49.6 68.8 51.1 69.2 54.1 70.8 57.1 73.2 63.3 80.3 65.3 81.8 69.1 83.5 72.1 84.1 75.1 84.3 78.1 84.0 79.6 83.6 81.1 83.0 83.1 81.8 84.4 80.3 84.9 78.7 84.9 77.2 84.2 74.2 84.1 72.7 84.5 71.2 85.2 69.7 87.1 66.5 87.8 65.1 88.1 63.6 88.1 62.1 87.5 60.6 86.3 59.1 84.2 57.5 81.1 56.2 78.1 55.4 75.1 54.9 70.6 54.7 67.6 54.8 63.1 55.3 51.1 57.7 49.6 57.8 48.1 57.6 46.6 57.2 45.1 56.4 43.6 55.3 40.6 52.0 38.2 48.5 35.4 42.4 33.4 36.4 32.3 30.3 32 24.2 32.4 19.7 33.6 13.7 35.6 7.6 36.9 4.6 39.2 0.0 39.2 -3.0ZM148.7 71.1 145.7 71.5 144.2 72.0 142.6 72.7 141.2 74.0 141.1 74.2 141.1 75.7 142.8 77.2 144.2 77.8 147.2 78.5 150.2 78.5 151.7 78.4 153.2 78.1 155.7 77.2 157.5 75.7 157.6 74.2 156.1 72.7 153.2 71.6 151.7 71.3 148.7 71.1Z" fill="#740303" fill-rule="evenodd"/>
<path d="M46 -3.0 190.5 -3.0 190.5 0.0 195.9 13.7 198.9 22.7 200.4 28.8 201.2 34.8 201.3 40.9 200.6 47.0 199.4 53.0 196.1 65.1 195.4 68.1 195.1 71.2 195.2 74.2 196 77.2 197.5 80.3 199.4 83.3 201.7 86.3 205.8 91.4 208.8 91.4 208.8 111.4 205.8 111.4 200.9 115.1 189.4 122.6 185.5 125.7 184 127.2 181.4 130.2 179.7 133.2 179.1 134.7 178.4 137.8 178.3 140.8 -3 140.8 -3 83.8 0 83.8 22.8 78.7 37.6 75.2 42.1 74.4 45.1 74.0 48.1 74.1 51.1 74.5 52.6 75.0 55.6 76.3 58.6 78.1 63.9 81.8 67.1 83.3 69.1 83.9 72.1 84.5 76.6 84.5 79.6 83.9 81.6 83.3 84 81.8 85.3 80.3 86 78.7 86.2 77.2 86.2 72.7 86.5 71.2 88.6 65.4 88.9 63.6 88.8 62.1 88.2 60.6 87 59.1 85.6 57.9 84.1 57.0 81.1 55.7 78.1 54.9 75.1 54.4 69.1 53.8 55.6 53.5 52.6 53.0 51.1 52.6 48.1 51.0 45.3 48.5 43.2 45.4 41.6 42.4 39.8 37.9 38.3 31.8 37.8 27.3 38 21.2 38.8 16.7 40.6 10.6 42.6 6.1 46 0.0 46 -3.0ZM147.2 71.1 144.2 71.7 142.7 72.3 142 72.7 140.6 74.2 140.6 75.7 142.1 77.2 142.7 77.6 144.2 78.1 147.2 78.7 151.7 78.7 154.7 78.0 156.2 77.4 158.2 75.7 158.3 74.2 156.8 72.7 156.2 72.4 154.7 71.8 151.7 71.1 148.7 71.0 147.2 71.1Z" fill="#830505" fill-rule="evenodd"/>
<path d="M51.6 -3.0 189.5 -3.0 189.5 0.0 194.6 12.1 196.8 18.2 198.2 22.7 199.6 28.8 200.3 34.8 200.4 40.9 199.6 47.0 197.9 54.5 193.9 68.1 193.4 71.2 193.5 74.2 194.3 77.2 195.9 80.3 199 84.8 205.8 93.4 208.8 93.4 208.8 110.1 205.8 110.1 201.8 113.6 188.3 122.6 184.4 125.7 182.7 127.2 180 130.2 177.1 134.7 175.6 137.8 175.6 140.8 -3 140.8 -3 85.9 0 85.9 34.6 78.2 39.1 77.4 43.6 76.9 48.1 76.9 52.6 77.6 57.1 79.2 65.7 83.3 70.6 84.6 73.6 84.9 78.1 84.6 82.5 83.3 84.9 81.8 86.3 80.3 87.1 78.7 87.6 77.2 88.3 71.2 89.7 65.1 89.7 63.6 89.5 62.1 88.8 60.6 87.7 59.1 85.9 57.5 84.1 56.5 79.6 54.8 73.6 53.5 59.1 51.5 57.1 51.0 54.2 50.0 51.1 48.0 48.6 45.4 46.7 42.4 45.2 39.4 43.7 34.8 42.8 30.3 42.5 27.3 42.5 24.2 43 19.7 44 15.2 45.6 10.6 48.7 4.6 51.6 0.0 51.6 -3.0ZM145.7 71.1 144.2 71.5 141.5 72.7 140 74.2 140 75.7 141.2 77.1 142.7 77.9 144.2 78.4 148.7 79.1 153.2 78.7 154.7 78.4 157.5 77.2 159 75.7 159 74.2 157.5 72.7 154.7 71.5 153.2 71.1 150.2 70.8 145.7 71.1Z" fill="#930708" fill-rule="evenodd"/>
<path d="M56.2 -3.0 188.4 -3.0 188.4 0.0 193.2 10.6 195.5 16.7 197 21.2 198.8 28.8 199.5 34.8 199.5 40.9 199.2 43.9 198.4 48.5 196.4 56.0 192.4 68.1 191.7 71.2 191.7 74.2 192.6 77.2 194.2 80.3 196.4 83.3 203.6 92.4 205.8 95.6 208.8 95.6 208.8 108.6 205.8 108.6 204.1 110.5 200.7 113.6 196.4 116.6 187.1 122.6 181.4 127.2 178.5 130.2 172.5 137.8 172.5 140.8 -3 140.8 -3 87.6 0 87.6 15 84.1 36.1 79.7 40.6 79.1 45.1 78.8 49.6 78.9 54.1 79.7 58.6 81.1 64.2 83.3 69.7 84.8 73.6 85.2 76.6 85.1 78.9 84.8 81.1 84.2 84.1 82.9 85.9 81.8 87.4 80.3 88.4 78.7 89 77.2 89.7 74.2 90.6 65.1 90.6 63.6 90.2 62.1 89.5 60.6 88.4 59.1 85.6 56.9 81.1 54.8 76.6 53.4 63.1 50.5 60.1 49.6 57.5 48.5 55.1 47.0 53.4 45.4 52.1 43.9 50.1 40.9 48.8 37.9 47.4 33.3 46.6 28.8 46.5 24.2 47 19.7 48.2 15.2 49.9 10.6 52.3 6.1 56.2 0.0 56.2 -3.0ZM145.7 70.9 142.7 71.8 141.2 72.5 139.5 74.2 139.4 75.7 139.7 76.1 140.7 77.2 142.7 78.3 145.7 79.1 147.2 79.3 150.2 79.4 153.2 79.1 156.2 78.3 157.7 77.6 158.5 77.2 159.9 75.7 159.8 74.2 158.3 72.7 156.2 71.7 154.5 71.2 151.7 70.7 148.7 70.6 145.7 70.9Z" fill="#a2080a" fill-rule="evenodd"/>
<path d="M60 -3.0 187.3 -3.0 187.3 0.0 189.3 3.8 192.3 10.4 194.7 16.7 196.2 21.2 198 28.8 198.6 33.3 198.7 36.4 198.5 42.4 197.8 47.0 197.1 50.0 194.8 57.5 190.2 69.7 189.7 72.7 189.7 74.2 190 75.7 191.4 78.7 193.6 81.8 202.3 92.4 204.3 95.4 205.8 98.4 208.8 98.4 208.8 106.4 205.8 106.4 204.2 109.0 202.9 110.5 199.5 113.6 195.3 116.6 186 122.6 180.1 127.2 176.9 130.2 172.7 134.6 169 137.8 169 140.8 -3 140.8 -3 89.1 0 89.1 15 85.5 30 82.4 37.6 81.0 43.6 80.3 49.6 80.4 54.1 80.9 58.6 82.0 67.6 84.7 70.6 85.3 75.1 85.5 78.1 85.2 80.3 84.8 82.6 84.0 84.5 83.3 86.9 81.8 88.5 80.3 89.7 78.7 90.5 77.2 91.1 75.7 91.6 72.7 91.7 68.1 91.6 65.1 91 62.1 90.2 60.6 89.1 59.1 87.4 57.5 85.6 56.4 82.6 54.9 78.1 53.2 64.6 49.3 62.4 48.5 59.5 47.0 57.5 45.4 56 43.9 54.8 42.4 53 39.4 51.8 36.4 50.5 31.8 50.1 28.8 50 24.2 50.6 19.7 51.8 15.2 53.6 10.6 56 6.1 60 0.0 60 -3.0ZM144.2 71.0 142.7 71.5 140.3 72.7 138.9 74.2 138.8 75.7 139.9 77.2 141.2 78.0 144.2 79.1 148.7 79.7 151.7 79.6 154.7 79.1 157.7 78.2 159.6 77.2 161 75.7 160.8 74.2 159.2 72.7 155.6 71.2 153.2 70.7 150.2 70.4 147.2 70.5 144.2 71.0Z" fill="#b10a0c" fill-rule="evenodd"/>
<path d="M63.2 -3.0 186.2 -3.0 186.2 0.0 189.3 5.7 191.6 10.6 193.8 16.1 195.5 21.2 197.3 28.8 197.8 33.3 197.9 36.4 197.6 42.4 197.2 45.4 196.2 50.0 193.7 57.5 188.4 69.7 187.5 72.7 187.4 74.2 187.7 75.7 188.4 77.2 189.4 78.7 199.8 90.8 202 93.9 203.8 96.9 205 99.9 205.4 103.0 205.2 104.5 204.7 106.0 203 109.0 201.8 110.5 198.4 113.6 194.2 116.6 182.7 124.1 178.8 127.2 171.2 133.8 168.2 136.0 165.1 137.8 165 140.8 -3 140.8 -3 90.4 0 90.4 13.5 87.2 28.5 83.9 37.6 82.3 43.6 81.6 48.1 81.5 54.1 82.0 58.6 82.9 66.1 84.8 70.6 85.6 75.1 85.8 78.1 85.5 81.6 84.8 85.5 83.3 87.9 81.8 89.8 80.3 91.2 78.7 92.2 77.2 92.8 75.7 93.4 72.7 93.2 69.7 92.9 66.6 92.3 63.6 91.7 62.1 90.9 60.6 89.7 59.1 87.1 56.8 84.1 55.0 79.6 53.2 67.6 49.0 63.1 46.8 61.1 45.4 59.4 43.9 58.1 42.4 56.2 39.4 54.9 36.4 53.6 31.8 53.2 28.8 53.1 24.2 53.7 19.7 54.9 15.2 56.8 10.6 59.2 6.1 63.2 0.0 63.2 -3.0ZM144.2 70.8 142.7 71.2 139.8 72.7 138.3 74.2 138.1 75.7 139.1 77.2 139.7 77.6 142 78.7 144.2 79.4 148.7 79.9 151.7 79.9 154.7 79.5 157.7 78.7 159.2 78.2 161 77.2 162.3 75.7 162 74.2 160.3 72.7 156.7 71.2 153.2 70.4 150.2 70.2 147.2 70.3 144.2 70.8Z" fill="#ba0b0d" fill-rule="evenodd"/>
<path d="M66 -3.0 185 -3.0 185 0.0 187.8 4.6 190.8 10.6 193.3 16.7 194.8 21.2 196 25.8 196.5 28.8 197.1 33.3 197.2 36.4 197.1 39.4 196.6 43.9 195.6 48.5 194.3 53.0 192.5 57.5 190.8 61.4 185.5 71.2 184.9 72.7 184.6 74.2 184.9 75.7 185.7 77.2 187 78.7 193.8 85.6 198.3 90.6 201.8 95.4 203.3 98.4 204.1 101.4 204 104.5 203.5 106.0 202.8 107.5 200.6 110.5 199.1 112.0 195.4 115.1 181.4 124.1 169.7 133.1 165.2 135.8 160.7 137.8 160.6 140.8 -3 140.8 -3 91.7 0 91.7 12 88.7 27 85.4 36.1 83.7 43.6 82.7 49.6 82.5 54.1 82.9 58.6 83.6 67.6 85.5 72.1 86.0 76.6 86.0 79.6 85.6 84.1 84.3 86.5 83.3 89.1 81.8 91.2 80.3 92.7 78.7 93.9 77.2 94.6 75.7 95 74.2 95.1 72.7 94.7 69.7 94.1 66.6 92.5 62.1 91.6 60.6 90.5 59.1 88.9 57.5 87.1 56.2 84.1 54.5 79.6 52.5 69.4 48.5 66.4 47.0 64.1 45.4 62.3 43.9 59.9 40.9 59 39.4 57.6 36.4 56.7 33.3 55.9 28.8 55.8 24.2 56.4 19.7 57.6 15.2 59.5 10.6 61.9 6.1 66 0.0 66 -3.0ZM142.7 71.0 139.1 72.7 137.7 74.2 137.4 75.7 138.3 77.2 139.7 78.2 141.2 78.9 144.2 79.8 147.2 80.2 150.2 80.2 153.2 80.1 156.2 79.7 159.7 78.7 163 77.2 164.3 75.7 163.7 74.2 161.7 72.7 157.9 71.2 156.2 70.7 153.2 70.2 148.7 70.0 145.7 70.3 142.7 71.0Z" fill="#c30c0d" fill-rule="evenodd"/>
<path d="M68.4 -3.0 183.7 -3.0 183.7 0.0 186.3 3.7 189.3 9.2 191.9 15.2 194.1 21.2 195.2 25.8 196 30.3 196.4 34.8 196.4 37.9 196 42.4 195.1 47.0 193.8 51.5 192.3 55.6 189.9 60.6 187.8 64.3 184.8 68.7 181.6 72.7 180.7 74.2 180.9 75.7 182.1 77.2 190.8 84.4 195.3 88.7 198.5 92.4 200.6 95.4 201.4 96.9 202.6 99.9 202.9 101.4 203 103.0 202.8 104.5 202.4 106.0 201.7 107.5 199.6 110.5 198.1 112.0 194.3 115.1 180.1 124.1 168.2 132.6 165.2 134.2 162.2 135.6 155.8 137.8 155.7 140.8 -3 140.8 -3 92.8 0 92.8 10.5 90.1 24 87.0 36.1 84.7 43.6 83.7 48.1 83.5 54.1 83.7 58.6 84.2 67.6 85.8 72.1 86.3 76.6 86.3 79.6 85.9 84.1 84.7 87.7 83.3 90.4 81.8 92.7 80.3 94.5 78.7 95.8 77.2 96.6 75.7 96.9 74.2 96.9 72.7 95.8 68.1 94.7 65.1 93.3 62.1 91.2 59.1 88.6 56.7 85.6 54.8 81.1 52.5 71.9 48.5 69.1 47.0 66.7 45.4 65 43.9 62.4 40.9 60.7 37.9 60.1 36.4 59.1 33.3 58.3 28.8 58.2 24.2 58.8 19.7 60.1 15.2 62 10.6 65.3 4.6 68.4 0.0 68.4 -3.0ZM142.7 70.7 141.2 71.3 138.4 72.7 136.9 74.2 136.6 75.7 137.4 77.2 139.7 78.7 141.2 79.4 144.2 80.1 147.2 80.5 150.2 80.6 153.2 80.5 157.7 79.9 162.2 78.7 166 77.2 167.7 75.7 166.7 74.2 163.6 72.7 159.3 71.2 156.2 70.4 153.2 70.0 148.7 69.8 145.7 70.1 142.7 70.7Z" fill="#cc0d0e" fill-rule="evenodd"/>
<path d="M70.6 -3.0 182.4 -3.0 182.4 0.0 184.8 3.1 187.8 7.9 189.9 12.1 191.8 16.7 194.2 24.2 194.8 27.3 195.5 31.8 195.6 36.4 195.5 39.4 194.9 43.9 194.3 47.0 192.9 51.5 191.7 54.5 188.6 60.6 186.3 64.2 184.8 66.2 181.8 69.3 178.8 71.5 177.3 72.3 175.8 72.8 174.3 73.2 171.2 73.2 165.2 72.2 159.2 70.7 154.7 69.9 150.2 69.6 147.2 69.7 142.7 70.5 139.7 71.6 137.7 72.7 136.1 74.2 135.6 75.7 136.3 77.2 138.4 78.7 141.2 79.8 144.2 80.5 147.2 80.9 151.7 81.0 156.2 80.6 160.7 79.9 171.2 77.8 174.3 77.6 177.3 78.0 178.8 78.5 183.3 80.6 187.8 83.6 190.8 85.9 193.8 88.6 197.2 92.4 199.4 95.4 200.3 96.9 201.4 99.9 201.7 101.4 201.7 104.5 200.6 107.5 198.5 110.5 196.8 112.2 193.2 115.1 181.2 122.6 168.2 131.2 163.7 133.5 159.2 135.3 150.7 137.8 150.6 140.8 -3 140.8 -3 93.9 0 93.9 9 91.5 22.5 88.3 36.1 85.6 43.6 84.6 48.1 84.3 54.1 84.4 60.1 85.1 68.3 86.3 72.1 86.6 76.6 86.5 79.6 86.2 85.2 84.8 88.9 83.3 91.9 81.8 94.4 80.3 96.4 78.7 97.8 77.2 98.6 75.7 98.8 74.2 98.7 72.7 97.8 69.7 95 63.6 93.1 60.6 91.9 59.1 88.6 56.2 85.6 54.2 74 48.5 71.3 47.0 69.1 45.4 67.2 43.9 64.7 40.9 63.7 39.4 62.3 36.4 61 31.8 60.5 28.8 60.4 24.2 61 19.7 62.3 15.2 64.1 10.6 66.5 6.1 70.6 0.0 70.6 -3.0Z" fill="#d50e0e" fill-rule="evenodd"/>
<path d="M72.6 -3.0 181 -3.0 181.1 0.0 183.3 2.6 186.3 6.9 188.3 10.6 190.8 16.0 193.1 22.7 194.1 27.3 194.6 30.3 194.9 34.8 194.9 37.9 194.4 42.4 193.8 45.4 193 48.5 191.3 53.0 188.3 59.1 184.8 64.1 181.8 67.2 178.8 69.3 175.8 70.7 172.7 71.3 168.2 71.5 163.7 71.0 153.2 69.5 150.2 69.3 147.2 69.5 142.7 70.2 139.8 71.2 138.2 72.0 136.9 72.7 135.2 74.2 134.5 75.7 135 77.2 137 78.7 139.7 79.9 144.2 81.0 148.7 81.4 153.2 81.4 157.7 81.1 168.2 79.9 171.2 79.7 174.3 79.8 177.3 80.3 180.3 81.1 184.8 83.3 189.3 86.2 193.8 90.1 197.2 93.9 198.3 95.5 199.8 98.4 200.6 101.4 200.6 104.5 200.2 106.0 199.5 107.5 197.4 110.5 194.1 113.6 190.8 115.9 171.2 128.2 166.7 130.8 162.2 132.9 157.7 134.6 153.2 135.9 145.6 137.8 145.4 140.8 -3 140.8 -3 95.0 0 95.0 12 91.7 24 88.9 34.6 86.8 43.6 85.4 48.1 85.1 54.1 85.1 72.1 86.9 76.6 86.8 79.6 86.5 85.6 85.0 90.3 83.3 96.3 80.3 98.5 78.7 99.9 77.2 100.7 75.7 100.9 74.2 100.6 72.7 100.1 71.2 95.9 63.6 93.9 60.6 92.7 59.1 90.1 56.7 87.1 54.6 75.8 48.5 71.1 45.4 69.3 43.9 66.7 40.9 65 37.9 63.8 34.8 62.7 30.3 62.4 27.3 62.6 22.7 63.4 18.2 64.8 13.7 66.8 9.1 69.4 4.6 72.6 0.0 72.6 -3.0Z" fill="#db0f0f" fill-rule="evenodd"/>
<path d="M74.5 -3.0 179.6 -3.0 179.7 0.0 181.8 2.2 184.8 6.1 187.5 10.6 189.7 15.2 190.9 18.2 192.4 22.7 193.4 27.3 193.9 30.3 194.2 34.8 194.1 37.9 193.3 43.9 192.3 47.8 191 51.5 189.6 54.5 187.8 57.9 184.8 62.2 181.8 65.4 178.8 67.6 175.8 69.1 171.2 70.2 166.7 70.5 162.2 70.2 153.2 69.2 148.7 69.1 145.7 69.4 141.2 70.4 138.2 71.5 135.9 72.7 134 74.2 133.1 75.7 133.5 77.2 135.3 78.7 138.2 80.0 142.7 81.2 147.2 81.7 151.7 81.9 166.7 81.1 172.7 81.2 175.8 81.6 178.8 82.2 181.8 83.3 184.8 84.8 189.3 87.6 193.8 91.4 196.8 95.0 198.7 98.4 199.6 101.4 199.5 104.5 199.1 106.0 198.5 107.5 196.4 110.5 193 113.6 188.7 116.6 166.7 129.6 160.7 132.4 156.2 133.9 150.2 135.6 140.5 137.8 140.4 140.8 -3 140.8 -3 96.0 0 96.0 10.5 93.0 22.5 90.1 36.1 87.3 43.6 86.2 48.1 85.8 54.1 85.8 58.6 86.0 69.1 87.1 73.6 87.2 78.1 87.0 81.1 86.5 87.8 84.8 95.5 81.8 98.5 80.3 100.8 78.7 102.4 77.2 103.1 75.7 103.1 74.2 102.7 72.7 100.9 69.7 96.9 63.6 93.4 59.1 91.6 57.3 88.6 55.0 75 47.0 71.1 43.9 69.7 42.4 67.6 39.4 66.8 37.9 65.6 34.8 64.8 31.8 64.2 27.3 64.4 22.7 65.2 18.2 66.6 13.7 68.6 9.1 71.2 4.6 74.4 0.0 74.5 -3.0Z" fill="#e2100f" fill-rule="evenodd"/>
<path d="M76.2 -3.0 178.2 -3.0 178.2 0.0 180.3 1.9 183.3 5.4 185.8 9.1 188.2 13.7 189.6 16.7 191.2 21.2 192.4 25.8 193 28.8 193.4 33.3 193.4 36.4 192.8 42.4 192.1 45.4 190.8 49.6 189.3 53.0 187.8 56.0 184.8 60.4 181.8 63.8 178.8 66.2 175.8 67.8 171.2 69.1 166.7 69.6 162.2 69.6 154.7 69.0 150.2 68.9 145.7 69.2 142.7 69.7 138 71.2 134.7 72.7 132.5 74.2 131.3 75.7 131.4 77.2 133.2 78.7 135.2 79.7 138.2 80.7 142.7 81.6 150.2 82.4 166.7 82.2 172.7 82.5 175.8 82.9 178.8 83.7 181.8 84.7 184.8 86.1 189.3 88.9 192.3 91.4 195.3 94.6 196.8 96.9 197.6 98.4 198.5 101.4 198.5 104.5 198.1 106.0 197.4 107.5 195.3 110.5 191.9 113.6 187.5 116.6 171.2 126.1 166.7 128.6 160.7 131.3 153.2 133.8 145.7 135.7 135.6 137.8 135.4 140.8 2 140.8 1.9 137.8 0 137.4 -3 137.4 -3 96.9 0 96.9 9 94.2 21 91.2 33.1 88.6 43.6 86.9 48.1 86.5 54.1 86.4 60.1 86.6 69.1 87.4 73.6 87.5 78.1 87.3 81.1 86.9 84.1 86.2 89.3 84.8 97.6 81.8 100.9 80.3 103.5 78.7 105.1 77.2 105.8 75.7 105.6 74.2 104.9 72.7 96.8 62.1 94.2 59.1 91.6 56.6 88.6 54.4 78.9 48.5 74.6 45.4 72.8 43.9 70.2 40.9 69.3 39.4 67.8 36.4 66.8 33.3 66 28.8 66 24.2 66.5 19.7 67.3 16.7 68.3 13.7 70.3 9.1 72.9 4.6 76.2 0.0 76.2 -3.0Z" fill="#e81110" fill-rule="evenodd"/>
<path d="M77.9 -3.0 176.7 -3.0 176.7 0.0 180.3 3.2 182.7 6.1 184.9 9.1 187.4 13.7 190 19.7 191.4 24.2 192 27.3 192.6 31.8 192.7 34.8 192.5 39.4 192 42.4 190.8 47.0 189.7 50.0 188.3 53.0 186.6 56.0 183.3 60.6 180.3 63.6 177.3 65.7 174.3 67.2 169.7 68.4 165.2 69.0 160.7 69.0 150.2 68.6 145.7 69.0 142.7 69.5 136.8 71.2 133.3 72.7 130.5 74.2 128.8 75.7 128.6 77.2 130.4 78.7 134.1 80.3 138.2 81.4 141.2 82.0 148.7 82.8 165.2 83.1 172.7 83.6 175.8 84.2 178.8 85.0 181.8 86.0 184.8 87.4 189.3 90.2 191.9 92.4 194.6 95.4 196.5 98.4 197.4 101.4 197.5 103.0 197.4 104.5 197 106.0 196.4 107.5 195.4 109.0 194.2 110.5 190.8 113.6 186.3 116.6 171.2 125.2 165.2 128.3 157.7 131.4 150.2 133.6 141.2 135.8 130.8 137.8 130.7 140.8 6.4 140.8 6.3 137.8 0 136.4 -3 136.4 -3 97.9 0 97.9 10.5 94.7 22.5 91.6 36.1 88.8 43.6 87.6 48.1 87.2 54.1 87.0 73.6 87.8 78.1 87.6 82.6 86.9 91 84.8 100 81.8 103.8 80.3 106.7 78.7 108.6 77.2 109.1 75.7 108.5 74.2 107.3 72.7 102.1 67.3 95 59.1 93.1 57.2 90.1 54.8 80.3 48.5 76.1 45.4 74.4 43.9 71.8 40.9 70.9 39.4 69.4 36.4 68.4 33.3 67.6 28.8 67.5 24.2 68.1 19.7 68.8 16.7 69.8 13.7 71.8 9.1 74.5 4.6 77.9 0.0 77.9 -3.0Z" fill="#ed1210" fill-rule="evenodd"/>
<path d="M78.6 -3.0 176 -3.0 176.1 0.0 178.8 2.3 181.8 5.4 184.8 9.5 187.1 13.7 189.7 19.7 191.1 24.2 191.8 27.3 192.3 31.8 192.5 34.8 192 40.9 191 45.4 190 48.5 188.7 51.5 187.1 54.5 184.8 58.1 181.3 62.1 179.5 63.6 177.4 65.1 174.3 66.7 169.7 68.1 165.2 68.7 160.7 68.8 150.2 68.5 145.7 68.9 142.7 69.4 136.3 71.2 132.6 72.7 129.5 74.2 127.5 75.7 127.2 77.2 129 78.7 132.8 80.3 139.7 81.9 144.2 82.7 148.7 83.0 165.2 83.4 171.2 83.9 174.3 84.3 178.8 85.4 181.8 86.5 184.8 87.9 187.8 89.6 191.3 92.4 194.1 95.4 196 98.4 197 101.4 197.1 103.0 197 104.5 196.6 106.0 196 107.5 195 109.0 193.8 110.5 190.3 113.6 185.8 116.6 171.2 124.8 165.2 127.9 159.2 130.4 151.7 132.9 141.2 135.4 128.9 137.8 128.8 140.8 8.2 140.8 8 137.8 0 136.1 -3 136.1 -3 98.2 0 98.2 10.5 95.0 19.5 92.7 31.5 90.0 42.1 88.1 48.1 87.4 54.1 87.2 73.6 87.9 78.1 87.7 82.6 87.0 86.1 86.3 91.7 84.8 101.1 81.8 105.1 80.3 108.3 78.7 110.3 77.2 110.7 75.7 109.8 74.2 102.1 66.7 95.4 59.1 93.1 57.0 90.1 54.6 80.8 48.5 76.7 45.4 75 43.9 72.4 40.9 71.5 39.4 70 36.4 68.7 31.8 68.2 28.8 68.1 24.2 68.7 19.7 69.9 15.2 71 12.1 72.4 9.1 75.1 4.6 78.6 0.0 78.6 -3.0Z" fill="#f01610" fill-rule="evenodd"/>
<path d="M82.1 -3.0 172.5 -3.0 172.5 0.0 175.8 2.3 178.8 4.9 181.8 8.3 184.5 12.1 186.1 15.2 187.5 18.2 189.6 24.2 190.5 28.8 190.8 31.8 190.9 34.8 190.7 37.9 190 42.4 189.2 45.4 188 48.5 186.6 51.5 184.8 54.5 183.3 56.6 181.1 59.1 178.8 61.3 177.3 62.5 174.3 64.4 171.2 65.7 168.2 66.6 162.2 67.6 150.2 68.0 144.2 68.5 139.7 69.3 129.2 72.0 124.7 72.9 121.7 73.2 118.7 73.0 115.7 72.4 114.2 71.9 111.2 70.6 108.2 68.8 105.2 66.6 102.1 63.9 95.6 57.5 93.1 55.4 83.5 48.5 79.6 45.4 78 43.9 75.5 40.9 74.6 39.4 73.1 36.4 71.8 31.8 71.2 27.3 71.3 22.7 72.1 18.2 73 15.2 74.1 12.1 76.4 7.6 79.4 3.1 82.1 0.0 82.1 -3.0ZM109.8 81.8 115.7 80.8 118.7 80.6 121.7 80.7 124.7 81.0 136.7 83.0 142.7 83.8 148.7 84.4 163.7 85.3 169.7 86.0 175.8 87.1 180.3 88.5 184.8 90.5 187.7 92.4 189.3 93.6 191.2 95.4 192.4 96.9 193.8 99.3 194.5 101.4 194.7 103.0 194.6 104.5 194.2 106.0 193.5 107.5 192.6 109.0 189.6 112.0 185.4 115.1 175.8 120.5 165.2 125.9 160.7 127.8 156.2 129.5 145.7 132.5 132.2 135.5 118.5 137.8 118.3 140.8 18 140.8 17.9 137.8 7.5 135.9 0 134.0 -3 134.0 -3 100.3 0 100.3 7.5 97.7 18 94.7 30 91.8 40.6 89.8 46.6 88.9 52.6 88.5 58.6 88.3 72.1 88.6 79.6 88.2 88.6 86.6 109.8 81.8Z" fill="#f51f10" fill-rule="evenodd"/>
<path d="M85.7 -3.0 168.8 -3.0 168.9 0.0 172.7 2.4 175.8 4.6 178.8 7.4 181.8 11.0 183.5 13.7 185.2 16.7 186.5 19.7 187.6 22.7 188.4 25.8 189.1 30.3 189.3 33.3 189.2 36.4 188.6 40.9 187.8 43.9 186.8 47.0 185.3 50.0 183.5 53.0 181.2 56.0 178.8 58.6 176.5 60.6 174.3 62.1 171.2 63.8 168.2 64.9 165.2 65.8 159.2 66.7 145.7 67.7 130.7 70.2 124.7 70.8 120.2 70.6 117.2 70.1 112.7 68.7 109.7 67.2 105.2 64.2 94.6 55.1 85.9 48.5 82.2 45.4 80.7 43.9 78.3 40.9 76.5 37.9 75.3 34.8 74.2 30.3 73.9 25.8 74.2 21.2 75.2 16.7 76.9 12.1 79.2 7.6 82.6 3.1 85.6 0.0 85.7 -3.0ZM104 84.8 109.7 84.0 114.2 83.5 118.7 83.3 123.2 83.4 162.2 87.0 169.7 88.1 175.8 89.5 178.8 90.4 181.8 91.6 185.9 93.9 187.9 95.4 189.4 96.9 190.8 98.8 191.9 101.4 192.1 103.0 192 104.5 191.7 106.0 191 107.5 189.9 109.0 188.6 110.5 186.9 112.0 182.4 115.1 172.7 120.3 163.7 124.7 159.2 126.5 153.2 128.6 145.7 130.8 139.7 132.3 132.2 133.9 123.2 135.5 107.8 137.8 107.6 140.8 28.4 140.8 28.1 137.8 19.5 136.5 12 135.1 6 133.7 0 132.0 -3 132.0 -3 102.3 0 102.3 4.5 100.5 10.7 98.4 24 94.7 33.1 92.6 42.1 90.9 48.1 90.0 54.1 89.5 72.1 89.3 79.6 88.9 87.4 87.8 104 84.8Z" fill="#fa2710" fill-rule="evenodd"/>
<path d="M89.3 -3.0 165.1 -3.0 165.1 0.0 169.7 2.5 172.9 4.6 176.6 7.6 179.4 10.6 182.6 15.2 184.2 18.2 185.5 21.2 186.5 24.2 187.2 27.3 187.7 31.8 187.7 34.8 187.3 39.4 186.6 42.4 185.5 45.4 184.1 48.5 182.3 51.5 180 54.5 177.3 57.4 174.3 59.9 171.2 61.8 168.2 63.3 165.2 64.3 162.2 65.1 157.7 65.9 144.2 67.2 132.2 68.8 126.2 69.2 121.7 69.0 117.2 68.1 114.2 67.2 109.7 65.1 106.7 63.2 103.7 61.0 88.1 48.5 84.6 45.4 81.8 42.4 79.8 39.4 78.3 36.4 77.3 33.3 76.5 28.8 76.4 24.2 77 19.7 78.2 15.2 80.2 10.6 83 6.1 85.6 3.1 89.3 0.0 89.3 -3.0ZM103.8 86.3 114.2 85.4 124.7 85.4 133.7 86.0 157.7 88.3 166.7 89.6 174.3 91.3 180.3 93.4 184 95.4 185.9 96.9 187.4 98.4 188.4 99.9 189 101.4 189.3 103.0 189.3 104.5 188.9 106.0 188.2 107.5 187.1 109.0 185.7 110.5 183.9 112.0 179.2 115.1 169.7 120.1 160.7 124.1 154.7 126.4 148.7 128.3 139.7 130.7 132.2 132.4 123.2 134.1 114.2 135.6 105.2 136.8 95.8 137.8 95.5 139.3 95.5 140.8 39.9 140.8 39.9 139.3 39.6 137.8 30 136.7 19.5 135.0 9 132.8 4.5 131.5 0 130.0 -3 130.0 -3 104.3 0 104.3 4.5 102.3 10.5 100.1 22.5 96.5 34.6 93.6 43.6 91.9 49.6 91.1 55.6 90.5 73.6 90.0 79.6 89.6 85.6 88.9 103.8 86.3Z" fill="#ff2f10" fill-rule="evenodd"/>
<path d="M93.3 -3.0 161.1 -3.0 161.2 0.0 165.2 1.8 170.1 4.6 174.1 7.6 177.3 10.6 180.8 15.2 182.5 18.2 183.9 21.2 184.9 24.2 185.6 27.3 186.2 31.8 186.2 34.8 185.6 39.4 184.8 42.4 183.7 45.4 182.2 48.5 180.2 51.5 177.7 54.5 175.8 56.4 172.5 59.1 169.7 60.8 166.7 62.2 162.9 63.6 159.2 64.5 153.2 65.4 135.2 67.4 130.7 67.7 126.2 67.8 121.7 67.4 117.2 66.4 112.7 64.8 109.7 63.3 106.7 61.4 102.1 58.1 92 50.0 86.8 45.4 84.1 42.4 82.1 39.4 80.6 36.4 79.6 33.3 78.8 28.8 78.7 24.2 79.3 19.7 80.6 15.2 82.7 10.6 84.1 8.3 85.8 6.1 88.8 3.1 90.7 1.5 93.2 0.0 93.3 -3.0ZM101.7 87.8 112.7 87.1 123.2 87.0 135.2 87.8 151.9 89.3 162.2 90.7 170.3 92.4 174.3 93.5 177.3 94.6 179.2 95.4 181.8 96.9 183.7 98.4 185 99.9 185.8 101.4 186.3 103.0 186.3 104.5 185.9 106.0 185.2 107.5 184.1 109.0 182.5 110.5 180.6 112.0 175.8 115.1 166.7 119.7 157.7 123.6 150.2 126.2 141.2 128.8 132.2 131.0 121.7 133.1 109.7 135.0 100.6 136.1 88.6 137.2 77.8 137.8 77 139.3 77 140.8 57.4 140.8 57.4 139.3 56.7 137.8 48.1 137.3 40.6 136.7 31.5 135.6 24 134.4 16.5 133.0 10.5 131.5 4.5 129.6 0 127.8 -3 127.8 -3 106.5 0 106.5 4 104.5 9 102.3 15 100.2 21 98.3 31.5 95.6 42.1 93.3 48.1 92.4 54.1 91.7 79.6 90.4 101.7 87.8Z" fill="#ff3f10" fill-rule="evenodd"/>
<path d="M98.1 -3.0 156.9 -3.0 157 0.0 162.2 2.0 166.7 4.3 171.2 7.3 174.3 9.8 176.6 12.1 178.8 14.9 180.3 17.2 181.8 20.1 183.3 24.0 184.1 27.3 184.7 31.8 184.6 34.8 184 39.4 183.1 42.4 181.9 45.4 180.3 48.5 178.1 51.5 175.3 54.5 172.7 56.8 169.5 59.1 166.7 60.6 163.3 62.1 159.2 63.3 154.7 64.3 148.6 65.1 136.7 66.3 130.7 66.6 126.2 66.5 121.7 66.0 117.2 64.9 112.7 63.1 108.2 60.7 103.7 57.6 95.8 51.5 90.5 47.0 87.5 43.9 85.2 40.9 83.5 37.9 82.2 34.8 81.1 30.3 80.8 25.8 81.2 21.2 82.3 16.7 84.2 12.1 85.6 9.7 87.1 7.7 90.1 4.6 93.1 2.4 96.1 0.8 98 0.0 98.1 -3.0ZM97.5 89.3 108.2 88.6 120.2 88.5 132.2 89.0 145.7 90.3 157.7 91.8 166.7 93.5 173.2 95.4 176.8 96.9 178.8 98.1 181.1 99.9 182.2 101.4 182.8 103.0 182.9 104.5 182.6 106.0 181.8 107.5 180.7 109.0 179.1 110.5 177.1 112.0 174.7 113.6 169.3 116.6 160.7 120.6 153.2 123.6 144.2 126.5 135.2 129.0 126.2 131.0 115.7 132.9 105.2 134.4 93.1 135.7 81.1 136.5 70.6 136.9 60.1 136.8 51.1 136.4 40.6 135.5 30 134.1 22.5 132.8 15 131.1 7.1 128.7 3.5 127.2 0 125.3 -3 125.3 -3 109.0 0 109.0 3 107.1 7.5 104.7 15.7 101.4 22.5 99.2 31.5 96.8 40.6 94.8 48.1 93.4 58.6 92.3 81.1 91.0 97.5 89.3Z" fill="#ff4e10" fill-rule="evenodd"/>
<path d="M104.6 -3.0 152.1 -3.0 152.2 0.0 156.2 1.2 161 3.1 165.2 5.1 169.2 7.6 171.2 9.2 174.3 11.9 175.9 13.7 178.1 16.7 180.6 21.2 181.8 24.2 182.6 27.3 183 30.3 183.1 33.3 182.7 37.9 182 40.9 180.8 43.9 178.3 48.5 176 51.5 172.7 54.7 169.1 57.5 165.2 59.8 162.2 61.1 157.7 62.5 152.6 63.6 147.2 64.4 139.7 65.1 133.7 65.5 127.7 65.4 123.2 64.9 118.7 63.9 114.2 62.3 109.7 60.0 105.2 57.2 99.6 53.0 94.1 48.5 90.9 45.4 88.3 42.4 86.3 39.4 84.3 34.8 83.2 30.3 82.8 25.8 83.3 21.2 84.4 16.7 86.5 12.1 88.5 9.1 91.6 5.9 93.3 4.6 95.7 3.1 99.1 1.5 104.5 0.0 104.6 -3.0ZM91.6 90.8 103.7 89.9 114.2 89.7 126.2 90.1 138.2 91.0 150.2 92.4 160.7 94.2 168.2 96.1 171.2 97.1 174.3 98.5 176.4 99.9 177.3 100.7 177.9 101.4 178.8 103.0 179.1 104.5 178.8 106.0 178.1 107.5 176.9 109.0 175.3 110.5 173.3 112.0 171 113.6 165.5 116.6 156.2 120.8 147.1 124.1 138.2 126.8 129.2 129.1 118.7 131.2 108.2 132.9 97.6 134.2 85.6 135.3 75.1 135.7 64.6 135.8 54.1 135.5 43.6 134.7 33.1 133.4 24 131.8 17.3 130.2 10.5 128.1 5 125.7 2.5 124.1 0 122.1 -3 122.0 -3 112.2 0 112.2 1.7 110.5 3.7 109.0 8.8 106.0 15 103.2 21 101.1 27 99.2 34.6 97.3 42.1 95.6 49.6 94.3 60.1 93.1 78.1 92.0 91.6 90.8Z" fill="#ff5e10" fill-rule="evenodd"/>
<path d="M115.3 -3.0 145.8 -3.0 146 0.0 153.2 1.6 157.5 3.1 160.7 4.4 163.7 5.9 166.7 7.7 169.7 9.8 172.4 12.1 174.3 14.1 176.3 16.7 179 21.2 180.6 25.8 181.3 28.8 181.6 31.8 181.5 34.8 181.1 37.9 179.8 42.4 177.4 47.0 175.8 49.3 173.9 51.5 170.6 54.5 166.3 57.5 162.2 59.7 157.7 61.3 151.7 62.7 144.2 63.8 136.7 64.4 129.2 64.3 124.7 63.9 120.2 62.9 115.7 61.4 112.7 60.1 108.2 57.6 103.7 54.6 97.8 50.0 94.4 47.0 91.5 43.9 88.2 39.4 86.8 36.4 85.4 31.8 84.8 27.3 85 22.7 86 18.2 87.1 15.2 88.8 12.1 91.1 9.1 93.1 7.1 96.1 4.9 99.1 3.4 103.7 1.9 108.2 0.9 115 0.0 115.3 -1.5 115.3 -3.0ZM83.6 92.4 100.6 91.1 108.2 90.9 115.7 91.0 123.2 91.3 132.2 91.9 141.2 92.8 148.7 93.8 159.2 95.7 163.7 96.9 168.2 98.5 171.1 99.9 173.1 101.4 174.3 103.0 174.8 104.5 174.7 106.0 174 107.5 172.9 109.0 171.3 110.5 169.3 112.0 164.4 115.1 155 119.6 147.1 122.6 138.2 125.5 129.2 127.9 118.7 130.1 106.7 132.1 96.1 133.4 85.6 134.3 75.1 134.7 64.6 134.8 54.1 134.5 43.6 133.6 34.6 132.4 24 130.5 16.5 128.5 12.8 127.2 9.3 125.7 6.6 124.1 4.5 122.6 3 121.1 2 119.6 1.5 118.1 1.4 116.6 1.8 115.1 2.5 113.6 3.7 112.0 5.3 110.5 9.7 107.5 12.5 106.0 18 103.6 27 100.5 37.6 97.7 46.6 95.8 55.6 94.4 63.1 93.7 83.6 92.4Z" fill="#ff6d10" fill-rule="evenodd"/>
<path d="M113.7 1.5 123.2 0.6 132.2 0.2 139.7 0.5 145.7 1.2 151.7 2.5 157.7 4.5 163.7 7.4 168.2 10.4 170.3 12.1 172.7 14.6 175.8 18.5 178 22.7 179.1 25.8 179.7 28.8 180 31.8 180 34.8 179.1 39.4 177.4 43.9 175.8 46.7 174.5 48.5 171.8 51.5 168.2 54.5 163.7 57.4 160.3 59.1 156.1 60.6 150.2 61.9 144.2 62.8 138.2 63.3 132.2 63.4 127.7 63.1 123.2 62.3 118.7 61.1 114.2 59.4 111.2 57.9 106.7 55.2 102.1 52.0 97.9 48.5 94.7 45.4 92.1 42.4 89.3 37.9 88.1 34.8 87 30.3 86.7 25.8 87.2 21.2 88.6 16.7 90.1 13.7 92.3 10.6 95.5 7.6 99.1 5.3 102.1 4.0 106.7 2.7 113.7 1.5ZM95.6 92.4 106.7 92.0 117.2 92.2 129.2 93.0 139.7 94.1 148.7 95.4 157.7 97.4 161.3 98.4 163.7 99.3 165.1 99.9 167.7 101.4 169.3 103.0 170.1 104.5 170.2 106.0 169.7 107.5 168.7 109.0 167.1 110.5 165.2 112.0 160.4 115.1 151.7 119.2 142.9 122.6 135.2 125.0 126.2 127.4 117.2 129.3 106.7 131.1 96.1 132.4 85.6 133.3 75.1 133.8 64.6 133.9 55.6 133.5 45.1 132.7 36.1 131.5 27 129.8 19.5 127.8 13.6 125.7 10.7 124.1 9 123.1 6.7 121.1 5.6 119.6 5 118.1 4.9 116.6 5.2 115.1 6 113.6 7.5 111.7 10.8 109.0 15 106.6 19.6 104.5 25.5 102.3 31.5 100.4 37.6 98.8 45.1 97.1 51.1 96.0 57.1 95.2 66.1 94.3 95.6 92.4Z" fill="#ff7c10" fill-rule="evenodd"/>
<path d="M127.7 1.5 135.2 1.4 142.7 2.0 148.7 3.1 154.7 4.8 160.7 7.3 165.2 10.0 169.7 13.5 172.7 16.8 175.6 21.2 177.5 25.8 178.4 30.3 178.5 33.3 178.2 36.4 177 40.9 174.7 45.4 172.7 48.2 171.2 49.9 167.9 53.0 163.7 55.9 160.5 57.5 156.2 59.3 151.6 60.6 145.7 61.6 139.7 62.2 133.7 62.3 127.7 61.9 123.2 61.1 118.7 59.8 114.2 58.0 109.7 55.6 105.2 52.7 100.6 49.2 96.6 45.4 94 42.4 92 39.4 89.9 34.8 89.1 31.8 88.5 27.3 88.8 22.7 89.5 19.7 90.6 16.7 91.4 15.2 93.4 12.1 96.1 9.4 98.6 7.6 101.5 6.1 105.2 4.7 109.7 3.6 114.2 2.8 120.2 2.1 127.7 1.5ZM84.7 93.9 99.1 93.1 112.7 93.2 126.2 94.0 139.7 95.6 150.2 97.5 154.1 98.4 158.7 99.9 161.9 101.4 164 103.0 165.1 104.5 165.5 106.0 165.1 107.5 164.3 109.0 162.9 110.5 161.1 112.0 156.4 115.1 150.3 118.1 142.9 121.1 135.2 123.7 126.2 126.2 117.2 128.2 108.2 129.8 97.6 131.2 87.1 132.2 76.6 132.8 66.1 132.9 57.1 132.6 48.1 132.0 39.1 130.9 30 129.2 22.2 127.2 16.5 125.0 14.7 124.1 12.2 122.6 10.4 121.1 9.2 119.6 8.5 118.1 8.3 116.6 8.6 115.1 9.3 113.6 10.5 112.0 12.1 110.5 14.2 109.0 16.7 107.5 23.2 104.5 32 101.4 42.1 98.8 51.1 97.0 60.1 95.7 69.1 94.9 84.7 93.9Z" fill="#ff8a10" fill-rule="evenodd"/>
<path d="M123.1 3.1 130.7 2.6 138.2 2.7 144.2 3.4 150.2 4.7 156.2 6.7 160.7 8.8 165.2 11.6 169.4 15.2 171.2 17.2 173 19.7 175.4 24.2 176.6 28.8 176.9 33.3 176.3 37.9 174.7 42.4 172.9 45.4 171.8 47.0 169.1 50.0 165.5 53.0 162.2 55.2 157.7 57.4 153.2 59.0 148.7 60.0 142.7 60.9 136.7 61.3 132.2 61.2 127.7 60.7 123.2 59.9 118.7 58.5 114.2 56.7 109.7 54.2 105.5 51.5 101.7 48.5 98.5 45.4 95.8 42.4 93 37.9 91.7 34.8 90.6 30.3 90.3 25.8 90.7 22.7 92 18.2 93.5 15.2 95.9 12.1 97.6 10.5 100.6 8.4 103.7 6.9 106.7 5.9 111.2 4.7 117.2 3.7 123.1 3.1ZM73.7 95.4 93.1 94.3 105.2 94.1 112.7 94.3 120.2 94.7 133.7 96.1 139.7 97.1 146.5 98.4 152 99.9 155.9 101.4 158.4 103.0 159.9 104.5 160.6 106.0 160.5 107.5 159.8 109.0 158.6 110.5 156.9 112.0 152.4 115.1 146.4 118.1 138.9 121.1 132.2 123.3 123.7 125.7 114.2 127.8 105.2 129.3 96.1 130.5 87.1 131.3 76.6 131.9 67.6 132.0 58.6 131.8 49.6 131.1 42.1 130.2 33.2 128.7 27 127.2 21 125.1 18.8 124.1 16 122.6 13.5 120.5 12.7 119.6 12 118.1 11.7 116.6 11.9 115.1 12.6 113.6 13.8 112.0 15.4 110.5 17.6 109.0 23.2 106.0 28.5 103.9 36.1 101.4 45.1 99.2 54.1 97.5 63.1 96.3 73.7 95.4Z" fill="#ff9910" fill-rule="evenodd"/>
<path d="M120.4 4.6 127.7 3.9 135.2 3.8 141.2 4.2 147.2 5.2 153.2 6.9 157.7 8.7 162.2 11.2 166.7 14.6 170.2 18.2 172.7 22.2 174.3 25.8 175.3 30.3 175.2 34.8 174.2 39.4 172.9 42.4 172.1 43.9 169.7 47.2 167 50.0 163.7 52.6 160.7 54.5 156.2 56.6 151.7 58.2 147.2 59.2 142.7 59.8 136.7 60.2 132.2 60.0 127.7 59.5 123.2 58.6 118.7 57.2 114.2 55.3 111.2 53.7 107.7 51.5 103.6 48.5 100.3 45.4 97.7 42.4 95.6 39.4 93.4 34.8 92.6 31.8 92.1 27.3 92.5 22.7 93.4 19.7 94.8 16.7 97 13.7 99.1 11.5 102.1 9.5 105.2 8.0 109.7 6.5 114.2 5.5 120.4 4.6ZM86.7 95.4 97.6 95.0 106.7 95.1 117.2 95.6 126.2 96.5 135.2 97.8 142.7 99.3 145.7 100.1 149.7 101.4 152.7 103.0 154.7 104.6 155.6 106.0 155.8 107.5 155.3 109.0 154.3 110.5 152.8 112.0 148.4 115.1 142.5 118.1 136.7 120.4 130.3 122.6 123.2 124.7 114.2 126.7 106.7 128.1 97.6 129.4 88.6 130.3 79.6 130.9 70.6 131.1 61.6 131.0 52.6 130.4 45.1 129.6 37.6 128.4 30 126.6 24 124.6 19.9 122.6 17.7 121.1 16.2 119.6 15.3 118.1 15 116.6 15.2 115.1 15.9 113.6 17.1 112.0 18.7 110.5 20.9 109.0 25.5 106.5 30.5 104.5 34.9 103.0 40.1 101.4 46.2 99.9 57.1 97.9 69.1 96.6 86.7 95.4Z" fill="#ffa610" fill-rule="evenodd"/>
<path d="M118.5 6.1 126.2 5.2 132.2 4.9 138.2 5.1 144.2 5.8 150.2 7.2 154.7 8.7 159.2 10.9 163.7 13.9 166.9 16.7 168.3 18.2 170.5 21.2 172.1 24.2 172.7 26.1 173.4 28.8 173.8 33.3 173 37.9 171.2 42.3 169.2 45.4 166.6 48.5 163.7 50.9 160.7 52.9 157.7 54.6 153.2 56.4 149.3 57.5 144.2 58.5 139.7 59.0 135.2 59.1 130.7 58.8 126.2 58.1 121.7 56.9 117.2 55.3 112.7 53.1 109.7 51.4 105.6 48.5 102.2 45.4 99.5 42.4 97.4 39.4 95.8 36.4 94.7 33.3 93.9 28.8 94.1 24.2 94.8 21.2 96.1 18.2 97.6 15.7 99.4 13.7 102.1 11.5 105.2 9.8 109.7 8.0 114.2 6.9 118.5 6.1ZM75 96.9 90.1 96.1 102.1 96.0 114.2 96.5 126.2 97.8 136.7 99.6 141.2 100.8 144.2 101.8 147 103.0 149.4 104.5 150.7 106.0 151.2 107.5 150.9 109.0 150 110.5 148.6 112.0 146.8 113.6 144.5 115.1 139.7 117.6 133.7 120.1 126.2 122.6 120.2 124.3 112.7 126.0 105.2 127.4 96.1 128.6 87.1 129.5 78.1 130.0 69.1 130.2 61.6 130.0 54.1 129.6 46.1 128.7 37.6 127.2 31.4 125.7 27 124.1 23.7 122.6 22.5 121.9 21.3 121.1 19.7 119.6 18.7 118.1 18.3 116.6 18.5 115.1 19.1 113.6 20.3 112.0 22.5 110.1 26.9 107.5 30.2 106.0 34.1 104.5 40.6 102.4 48.1 100.5 57.1 98.8 64.6 97.8 75 96.9Z" fill="#ffb210" fill-rule="evenodd"/>
<path d="M131.7 6.1 136.7 6.1 142.7 6.7 148.7 8.0 153.2 9.5 157.7 11.6 162.2 14.4 164.9 16.7 166.4 18.2 168.7 21.2 170.4 24.2 171.2 26.6 171.8 28.8 172.1 30.3 172.2 33.3 171.8 36.4 171.4 37.9 169.7 41.8 167.3 45.4 164.5 48.5 160.5 51.5 157.7 53.1 153.2 55.1 148.7 56.5 144.2 57.4 139.7 57.8 135.2 57.9 130.7 57.6 126.2 56.9 121.7 55.7 117.2 54.0 112.7 51.7 109.8 50.0 106.7 47.6 104.2 45.4 101.3 42.4 99.2 39.4 97.6 36.4 96.5 33.3 95.8 30.3 95.7 27.3 96 24.2 96.8 21.2 98.2 18.2 100.5 15.2 102.1 13.6 105.2 11.6 108.2 10.2 111.2 9.1 115.7 7.9 120.2 7.1 126.2 6.4 131.7 6.1ZM91.5 96.9 100.6 96.9 108.2 97.2 115.7 97.7 123.2 98.6 130.9 99.9 137.1 101.4 141.3 103.0 144.2 104.6 145.8 106.0 146.5 107.5 146.5 109.0 145.8 110.5 144.6 112.0 142.9 113.6 140.6 115.1 137.9 116.6 134.8 118.1 127.7 120.9 122 122.6 115.7 124.3 108.2 125.9 100.1 127.2 91.6 128.2 82.6 128.9 75.1 129.2 66.1 129.3 58.6 129.0 51.1 128.3 43.6 127.2 36.2 125.7 31.5 124.2 27.6 122.6 25 121.1 23.2 119.6 22.1 118.1 21.6 116.6 21.7 115.1 22.3 113.6 24 111.6 25.2 110.5 27.5 109.0 30.3 107.5 33.7 106.0 37.8 104.5 42.7 103.0 48.6 101.4 54.1 100.3 64.6 98.7 78.1 97.5 91.5 96.9Z" fill="#ffbe10" fill-rule="evenodd"/>
<path d="M126.1 7.6 132.2 7.3 138.2 7.4 142.7 7.9 148.1 9.1 153.2 10.9 157.7 13.1 160.9 15.2 164.4 18.2 166.9 21.2 168.2 23.5 169.3 25.8 170.2 28.8 170.4 30.3 170.5 33.3 170.4 34.8 169.7 37.7 168.5 40.9 166.6 43.9 163.9 47.0 160.7 49.6 157.9 51.5 154.7 53.1 151 54.5 147.2 55.6 142.7 56.4 138.2 56.7 133.7 56.7 129.2 56.2 126.2 55.6 121.7 54.4 118 53.0 114.2 51.1 111.2 49.3 107.9 47.0 104.6 43.9 102 40.9 100.1 37.9 98.7 34.8 97.9 31.8 97.5 28.8 97.6 25.8 98.2 22.7 99.5 19.7 101.6 16.7 103.1 15.2 105.2 13.5 108.2 11.9 111.2 10.6 115.7 9.3 120.2 8.4 126.1 7.6ZM76.9 98.4 90.1 97.8 102.1 97.9 112.7 98.5 123.2 99.9 130.7 101.5 135.6 103.0 138.2 104.1 140.9 106.0 142 107.5 142.2 109.0 141.7 110.5 140.6 112.0 139 113.6 136.8 115.1 134.2 116.6 131 118.1 124.7 120.5 118.7 122.4 111.5 124.1 105.2 125.4 97.6 126.6 90.1 127.5 82.6 128.0 75.1 128.4 67.6 128.4 60.1 128.1 52.6 127.5 46.6 126.6 41.5 125.7 35.8 124.1 31.7 122.6 28.5 121.0 26.7 119.6 25.5 118.1 24.9 116.6 24.9 115.1 25.6 113.6 26.7 112.0 28.5 110.5 30 109.5 33.7 107.5 40.6 104.8 46.6 103.0 53.3 101.4 61.6 100.0 69.1 99.1 76.9 98.4Z" fill="#ffca10" fill-rule="evenodd"/>
<path d="M123.8 9.1 129.2 8.6 135.2 8.5 141.2 8.9 145.7 9.8 150.2 11.1 154.7 13.0 158.5 15.2 162.2 18.1 165 21.2 166.9 24.2 168.2 27.9 168.8 31.8 168.7 34.8 168.4 36.4 167.4 39.4 165.7 42.4 163.3 45.4 160.7 47.8 157.7 50.0 154.7 51.6 151.7 52.9 147.2 54.3 144.2 54.9 141.2 55.3 136.7 55.5 132.2 55.3 129.2 54.9 124.7 54.0 121.5 53.0 117.7 51.5 114.2 49.7 111.2 47.7 108.2 45.4 105.1 42.4 102.8 39.4 101.2 36.4 100 33.3 99.4 30.3 99.3 27.3 99.8 24.2 100.8 21.2 102.1 19.0 104.1 16.7 105.9 15.2 108.2 13.7 111.4 12.1 115.7 10.7 120.2 9.7 123.8 9.1ZM69.4 99.9 81.1 99.0 93.1 98.7 103.7 98.9 114.9 99.9 124 101.4 129.8 103.0 132.2 103.9 133.6 104.5 136.1 106.0 137.4 107.5 137.9 109.0 137.6 110.5 136.7 112.0 135.1 113.6 133 115.1 130.4 116.6 124.7 119.1 118.8 121.1 113.3 122.6 106.5 124.1 99.1 125.4 93.1 126.2 85.6 126.9 78.1 127.4 70.6 127.5 63.1 127.3 57.1 126.9 51.1 126.2 46.6 125.5 40.5 124.1 35.9 122.6 32.6 121.1 30.4 119.6 28.9 118.1 28.2 116.6 28.2 115.1 28.8 113.6 30 112.0 31.5 110.7 34.1 109.0 37.1 107.5 42.1 105.6 48.1 103.7 54.1 102.3 61.6 100.9 69.4 99.9Z" fill="#ffd510" fill-rule="evenodd"/>
<path d="M122.4 10.6 127.7 9.9 133.7 9.7 139.7 10.0 144.2 10.7 148.7 11.9 153 13.7 156.2 15.4 160.1 18.2 163 21.2 165 24.2 166.3 27.3 167 30.3 167.1 33.3 166.9 34.8 166.2 37.9 164.8 40.9 162.6 43.9 160.7 45.9 157.7 48.3 154.9 50.0 151.7 51.5 148.7 52.5 145.7 53.3 142.7 53.8 138.2 54.2 135.2 54.3 130.7 53.9 126.2 53.1 123.2 52.2 120.2 51.1 117.2 49.8 114.2 48.1 110.4 45.4 108.2 43.4 105.9 40.9 103.8 37.9 102.4 34.8 101.5 31.8 101.2 28.8 101.4 25.8 102.1 23.1 103.7 20.2 105.2 18.2 106.8 16.7 108.9 15.2 111.8 13.7 115.7 12.2 122.4 10.6ZM80.2 99.9 90.1 99.6 100.6 99.8 109.7 100.5 118.7 101.8 123.8 103.0 126.2 103.7 128.3 104.5 131.2 106.0 132.9 107.5 133.6 109.0 133.5 110.5 132.7 112.0 131.3 113.6 129.2 115.1 126.6 116.6 123.3 118.1 119.4 119.6 112.7 121.6 106.7 123.1 99.1 124.4 91.6 125.5 85.6 126.0 78.1 126.5 70.6 126.6 63.1 126.4 57.1 125.9 52.6 125.4 46.6 124.3 40.3 122.6 36.6 121.1 34.1 119.6 32.5 118.1 31.6 116.6 31.5 115.1 32.1 113.6 33.1 112.3 35 110.5 37.6 109.0 40.6 107.5 43.6 106.4 49.5 104.5 54.1 103.3 60.1 102.1 66.1 101.2 73.6 100.4 80.2 99.9Z" fill="#ffe010" fill-rule="evenodd"/>
<path d="M121.7 12.1 127.7 11.2 132.2 11.0 136.7 11.0 141.2 11.5 145.7 12.4 150.2 13.9 154.7 16.2 157.7 18.2 160.9 21.2 163 24.2 164.4 27.3 165.2 30.3 165.3 33.3 164.8 36.4 163.6 39.4 161.7 42.4 159.2 45.1 157 47.0 154.6 48.5 151.7 49.9 148.7 51.1 145.7 51.9 139.7 52.9 136.7 53.0 132.2 52.8 129.2 52.3 125.4 51.5 121.7 50.3 118.7 49.0 115.7 47.4 112.8 45.4 109.7 42.8 107.9 40.9 106.7 39.3 104.9 36.4 103.8 33.3 103.2 30.3 103.2 27.3 103.7 24.9 104.5 22.7 105.3 21.2 106.7 19.4 107.9 18.2 109.7 16.8 112.4 15.2 115.7 13.8 121.7 12.1ZM72.3 101.4 82.6 100.7 93.1 100.6 103.7 101.0 112.7 102.1 117.3 103.0 120.2 103.7 122.8 104.5 126.2 106.0 128.3 107.5 129.3 109.0 129.4 110.5 128.8 112.0 127.4 113.6 125.4 115.1 122.7 116.6 119.4 118.1 115.2 119.6 110.1 121.1 100.6 123.2 94.6 124.1 88.6 124.8 81.1 125.4 75.1 125.6 69.1 125.6 63.1 125.4 52.6 124.2 45.1 122.6 40.8 121.1 37.9 119.6 36.1 118.1 35.1 116.6 34.9 115.1 35.4 113.6 36.6 112.0 38.4 110.5 41 109.0 44.3 107.5 49.6 105.7 54.1 104.4 61.1 103.0 72.3 101.4Z" fill="#ffea10" fill-rule="evenodd"/>
<path d="M121.5 13.7 126.2 12.8 130.7 12.4 135.2 12.3 139.7 12.7 144.2 13.5 148.7 14.9 152.6 16.7 155 18.2 157.7 20.4 159.9 22.7 161.8 25.8 163 28.8 163.4 31.8 163.2 34.8 162.3 37.9 160.7 40.9 159.2 42.7 156.3 45.4 154.1 47.0 151.7 48.3 148.7 49.5 145.7 50.5 142.7 51.1 139.7 51.5 136.7 51.6 133.2 51.5 129.2 51.0 126.2 50.3 120.9 48.5 117.8 47.0 115.4 45.4 112.7 43.4 110.1 40.9 108.2 38.4 107 36.4 106.3 34.8 105.4 31.8 105.1 28.8 105.3 27.3 106.1 24.2 106.8 22.7 107.8 21.2 109.7 19.2 111.2 18.0 114.2 16.2 117.2 14.9 121.5 13.7ZM67.6 103.0 78.1 101.9 88.6 101.5 99.1 101.8 108.2 102.7 115.7 104.2 121.1 106.0 123.6 107.5 124.9 109.0 125.3 110.5 124.8 112.0 123.5 113.6 121.5 115.1 118.8 116.6 115.3 118.1 110.9 119.6 105.2 121.1 100.6 122.1 94.6 123.1 88.6 123.8 78.1 124.6 67.6 124.6 61.6 124.2 57.1 123.7 51.1 122.7 48.1 121.9 45.4 121.1 42 119.6 39.9 118.1 38.7 116.6 38.4 115.1 38.8 113.6 40 112.0 41.9 110.5 44.6 109.0 48.1 107.5 52.7 106.0 57.1 104.9 67.6 103.0Z" fill="#fff41c" fill-rule="evenodd"/>
<path d="M121.8 15.2 126.2 14.3 130.7 13.8 135.2 13.7 138.2 13.9 142.7 14.7 145.7 15.4 149 16.7 153.2 19.0 156.1 21.2 157.7 22.9 159.7 25.8 160.9 28.8 161.4 31.8 161.1 34.8 160.2 37.9 159.2 39.6 157.7 41.7 156.2 43.2 153.4 45.4 151.7 46.5 147.1 48.5 144.2 49.3 141.2 49.8 138.2 50.1 135.2 50.2 132.2 50.0 129.2 49.5 126.2 48.8 123.2 47.8 120.2 46.4 117.2 44.7 114.2 42.5 112.4 40.9 111.1 39.4 109.1 36.4 108.2 34.2 107.5 31.8 107.3 28.8 107.5 27.3 108.2 24.9 109.3 22.7 110.5 21.2 112.1 19.7 114.2 18.2 117.2 16.7 121.8 15.2ZM77.1 103.0 85.6 102.6 93.1 102.6 100.6 103.1 108.2 104.1 112.7 105.1 115.6 106.0 117.2 106.7 118.8 107.5 120.4 109.0 121 110.5 120.6 112.0 119.5 113.6 117.5 115.1 114.7 116.6 111 118.1 106.7 119.5 99.1 121.2 88.6 122.8 78.1 123.6 67.6 123.5 61.6 123.1 57.1 122.5 52.6 121.6 49.6 120.8 46.4 119.6 43.9 118.1 42.5 116.6 42 115.1 42.4 113.6 43.6 112.0 45.6 110.5 48.4 109.0 52.3 107.5 57.1 106.1 66.1 104.2 77.1 103.0Z" fill="#fffe2d" fill-rule="evenodd"/>
<path d="M122.6 16.7 126.2 15.9 130.7 15.3 135.2 15.3 138.2 15.5 142.7 16.3 145.7 17.2 148.7 18.4 151.7 20.1 154.7 22.5 156.3 24.2 157.7 26.6 158.6 28.8 159.2 31.8 158.9 34.8 157.8 37.9 156.9 39.4 155.8 40.9 154.3 42.4 152.4 43.9 149.9 45.4 145.7 47.2 142.7 48.0 139.7 48.4 136.7 48.6 133.7 48.5 129.2 47.9 126.2 47.1 123.2 46.0 118.7 43.7 116.8 42.4 114.2 40.0 112.4 37.9 111.4 36.4 110.7 34.8 109.7 31.8 109.6 28.8 110.3 25.8 111 24.2 112.1 22.7 113.6 21.2 115.5 19.7 117.2 18.8 120.2 17.5 122.6 16.7ZM72.3 104.5 81.1 103.8 88.6 103.6 96.1 103.9 103.7 104.8 109.5 106.0 113.5 107.5 115.7 109.0 116.5 110.5 116.4 112.0 115.2 113.6 113.2 115.1 109.7 116.8 106.3 118.1 100.9 119.6 93.2 121.1 84.1 122.2 75.1 122.6 66.1 122.3 58.6 121.4 55.6 120.8 51.4 119.6 48.1 118.0 46.5 116.6 45.9 115.1 46.2 113.6 47.4 112.0 49.5 110.5 52.6 109.0 56.8 107.5 63.1 105.9 72.3 104.5Z" fill="#ffff56" fill-rule="evenodd"/>
<path d="M124.1 18.2 127.7 17.4 130.7 17.1 135.2 17.0 138.2 17.2 141.2 17.7 144.2 18.6 147.1 19.7 149.8 21.2 151.9 22.7 153.4 24.2 154.7 26.0 156.1 28.8 156.5 30.3 156.7 33.3 155.9 36.4 154.7 38.6 153.2 40.5 151.7 41.9 148.6 43.9 144.2 45.7 139.7 46.6 135.2 46.9 132.2 46.6 129.2 46.1 124.7 44.7 122.9 43.9 120.2 42.4 118.1 40.9 116.4 39.4 114 36.4 112.6 33.3 112.1 30.3 112.2 28.8 112.5 27.3 113.1 25.8 114 24.2 115.7 22.4 117.2 21.2 119.9 19.7 124.1 18.2ZM69.9 106.0 78.1 105.1 85.6 104.8 93.1 105.0 100.6 105.8 106.7 107.2 109.7 108.5 110.5 109.0 111.7 110.5 111.8 112.0 110.7 113.6 108.7 115.1 105.6 116.6 101.1 118.1 94.6 119.6 85.6 120.9 78.1 121.4 70.6 121.3 63.1 120.7 57.4 119.6 53.2 118.1 51 116.6 50.1 115.1 50.3 113.6 51.6 112.0 53.8 110.5 57.2 109.0 62.2 107.5 69.9 106.0Z" fill="#ffff83" fill-rule="evenodd"/>
<path d="M126.5 19.7 129.2 19.2 132.2 19.0 135.2 19.0 138.2 19.2 141.2 19.8 144.2 20.8 147.9 22.7 149.9 24.2 151.4 25.8 152.4 27.3 153.2 28.8 153.6 30.3 153.8 31.8 153.8 33.3 153.5 34.8 152.9 36.4 152 37.9 150.8 39.4 149.1 40.9 146.6 42.4 142.7 44.0 138.2 44.7 133.7 44.8 129.2 44.0 124.7 42.5 121.7 40.8 119.8 39.4 118.2 37.9 117 36.4 116.1 34.8 115.5 33.3 115.1 31.8 115 30.3 115.2 28.8 115.6 27.3 116.4 25.8 117.6 24.2 118.7 23.3 122 21.2 126.5 19.7ZM69.1 107.5 76.6 106.5 82.6 106.1 88.6 106.1 94.6 106.6 100.2 107.5 104.5 109.0 106.4 110.5 106.7 112.0 105.8 113.6 103.6 115.1 100.1 116.6 93.1 118.4 85.6 119.6 79.6 120.0 72.1 120.0 66.5 119.6 60.1 118.3 57.1 117.1 56.2 116.6 54.9 115.1 55 113.6 56.2 112.0 58.7 110.5 62.7 109.0 69.1 107.5Z" fill="#ffffb0" fill-rule="evenodd"/>
<path d="M125.5 22.7 127.7 22.1 130.7 21.5 135.2 21.4 138.2 21.8 141.2 22.5 145 24.2 147 25.8 148.4 27.3 149.4 28.8 150 30.3 150.2 31.8 150.2 33.3 149.7 34.8 149 36.4 147.2 38.4 146.1 39.4 144.2 40.5 141.2 41.6 138.2 42.2 135.2 42.4 130.7 41.8 127.7 40.9 124.7 39.5 121.7 37.2 119.8 34.8 119 33.3 118.7 32.0 118.6 30.3 118.8 28.8 119.5 27.3 120.6 25.8 122.5 24.2 125.5 22.7ZM70.1 109.0 75.1 108.2 81.1 107.7 85.6 107.7 90.1 107.9 96.7 109.0 100 110.5 100.8 112.0 100 113.6 97.6 115.1 93.2 116.6 91.6 116.9 85.6 118.0 81.1 118.4 75.1 118.5 70.6 118.3 67.6 117.9 62.8 116.6 60.6 115.1 60.4 113.6 61.8 112.0 64.8 110.5 70.1 109.0Z" fill="#ffffd8" fill-rule="evenodd"/>
<path d="M128.5 25.8 132.2 25.1 135.2 25.1 138.5 25.8 141.2 27.1 143.2 28.8 144.2 30.3 144.5 31.8 144.4 33.3 143.7 34.8 142.3 36.4 141.2 37.1 139.6 37.9 136.7 38.5 135.2 38.6 132.2 38.3 130.3 37.9 127.7 36.7 125.4 34.8 124.3 33.3 123.8 31.8 123.8 30.3 124.4 28.8 125.7 27.3 128.5 25.8ZM74.4 110.5 79.6 109.9 85.6 109.9 90 110.5 92.7 112.0 92.1 113.6 88.6 115.1 84.1 116.0 81.1 116.3 78.1 116.4 75.1 116.3 72.1 115.9 69.1 115.1 68 113.6 69.6 112.0 74.4 110.5Z" fill="#fffff2" fill-rule="evenodd"/>
</g>
<path d="M195.1 -3.0 195.1 0.0 197 6.1 203.4 24.2 205.1 30.3 205.8 34.3 208.8 34.3M208.8 47.7 205.8 47.8 205 53.0 202.9 63.6 202.5 66.6 202.3 69.7 202.5 72.7 202.7 74.2 203.6 77.2 204.3 78.9 205.8 81.4 208.8 81.4M72.1 57.2 70.6 57.6 67.5 59.1 66.1 60.6 65.6 62.1 65.8 63.6 66.8 65.1 68.6 66.6 70.6 67.7 73.6 68.5 75.1 68.6 76.6 68.4 79.6 67.7 81.1 67.1 82.6 66.3 84.1 65.1 85.2 63.6 85.5 62.1 85 60.6 83.6 59.1 82.6 58.5 80.3 57.5 78.1 57.1 75.1 56.9 72.1 57.2M145.7 72.3 144.6 72.7 142.8 74.2 143 75.7 144.2 76.6 145.5 77.2 147.2 77.6 148.7 77.7 151.7 77.4 153.2 77.0 155.2 75.7 155.5 74.2 153.7 72.7 153.2 72.5 150.2 71.9 147.2 72.0 145.7 72.3M72.1 75.3 70.6 75.8 69.1 76.7 68.6 77.2 67.8 78.7 68 80.3 69.5 81.8 72.1 82.7 73.6 83.0 75.1 83.1 76.6 82.9 78.1 82.5 79.9 81.8 81.1 80.3 81.1 78.7 79.6 76.9 78.1 76.0 76.6 75.5 75.1 75.1 73.6 75.1 72.1 75.3M208.8 115.8 205.8 115.8 199.8 119.1 194.3 122.6 190.7 125.7 189.3 127.2 188.2 128.7 187.5 130.2 187 131.7 186.8 133.2 187 134.7 187.4 136.3 188 137.8 188 140.8M186.9 -3.0 186.9 0.0 189.3 4.5 192.1 10.6 194.4 16.7 195.9 21.2 197.1 25.8 197.7 28.8 198.1 31.8 198.4 36.4 198.1 42.4 197.7 45.4 196.7 50.0 195.9 53.0 194.3 57.5 189.5 69.7 188.8 72.7 188.8 74.2 189.1 75.7 189.8 77.2 190.7 78.7 192.9 81.8 199.4 89.3 201.7 92.4 203.8 95.4 204.6 96.9 205.8 100.0 208.8 100.0M144.2 70.9 142.7 71.4 140.1 72.7 138.7 74.2 138.5 75.7 139.7 77.3 141.2 78.2 144.2 79.2 145.7 79.5 148.7 79.8 151.7 79.7 154.7 79.3 156.8 78.7 159.2 77.7 160.2 77.2 161.5 75.7 161.3 74.2 159.6 72.7 156 71.2 153.2 70.6 150.2 70.3 147.2 70.4 144.2 70.9M-3 89.6 0 89.6 12 86.7 30 82.9 39.1 81.3 43.6 80.8 49.6 80.8 54.1 81.4 58.6 82.4 67.1 84.8 70.6 85.4 75.1 85.6 78.1 85.3 81.1 84.7 84.9 83.3 87.3 81.8 89 80.3 90.3 78.7 91.2 77.2 91.8 75.7 92.1 74.2 92.4 71.2 92.3 68.1 92 65.1 91.3 62.1 90.5 60.6 89.3 59.1 87.1 57.1 85.4 56.0 82.6 54.7 79.6 53.5 66.1 49.2 64.1 48.5 61.1 47.0 59 45.4 57.4 43.9 56.2 42.4 54.3 39.4 53.1 36.4 52.2 33.3 51.4 28.8 51.3 24.2 51.8 19.7 53.1 15.2 54.9 10.6 57.3 6.1 61.3 0.0 61.4 -3.0M208.8 104.9 205.8 105.0 205.5 106.0 204.8 107.5 203.7 109.0 200.9 112.0 197.1 115.1 185.5 122.6 179.6 127.2 171.2 135.1 167.5 137.8 167.5 140.8M176 -3.0 176.1 0.0 178.8 2.3 181.8 5.4 184.8 9.5 187.1 13.7 188.5 16.7 189.7 19.7 191.1 24.2 191.8 27.3 192.3 31.8 192.5 34.8 192.3 37.9 192 40.9 191 45.4 190 48.5 188.7 51.5 187.1 54.5 184.8 58.1 183.3 60.0 181.3 62.1 179.5 63.6 177.4 65.1 174.3 66.7 172.7 67.3 169.7 68.1 165.2 68.7 160.7 68.8 150.2 68.5 145.7 68.9 142.7 69.4 139.7 70.1 136.3 71.2 132.6 72.7 129.5 74.2 127.5 75.7 127.2 77.2 129 78.7 132.8 80.3 136.7 81.3 141.2 82.2 144.2 82.7 148.7 83.0 165.2 83.4 171.2 83.9 174.3 84.3 177.3 85.0 181.8 86.5 186.3 88.7 189.3 90.7 192.3 93.3 194.1 95.4 196 98.4 196.6 99.9 197 101.4 197.1 103.0 197 104.5 196.6 106.0 196 107.5 195.3 108.6 193.8 110.5 192.2 112.0 190.3 113.6 187.8 115.3 183.3 118.1 168.2 126.4 165.2 127.9 160.7 129.9 153.2 132.4 147.2 134.0 141.2 135.4 128.9 137.8 128.8 140.8M-3 98.2 0 98.2 10.5 95.0 19.5 92.7 31.5 90.0 42.1 88.1 48.1 87.4 54.1 87.2 73.6 87.9 78.1 87.7 82.6 87.0 86.1 86.3 91.7 84.8 101.1 81.8 105.1 80.3 108.3 78.7 110.3 77.2 110.7 75.7 109.8 74.2 102.1 66.7 95.4 59.1 93.1 57.0 90.1 54.6 80.8 48.5 76.7 45.4 75 43.9 72.4 40.9 71.5 39.4 70 36.4 68.7 31.8 68.2 28.8 68.1 24.2 68.7 19.7 69.9 15.2 71 12.1 72.4 9.1 75.1 4.6 78.6 0.0 78.6 -3.0M8.2 140.8 8 137.8 0 136.1 -3 136.1M162.8 -3.0 162.9 0.0 166.7 1.8 169.7 3.6 172.7 5.6 175.8 8.1 178.2 10.6 180.6 13.7 182.4 16.7 183.9 19.7 185.1 22.7 186 25.8 186.7 30.3 186.9 33.3 186.6 37.9 186 40.9 185.1 43.9 183.8 47.0 181.1 51.5 178.8 54.5 177.2 56.0 175.6 57.5 172.7 59.7 169.7 61.6 166.7 62.9 162.2 64.4 156.2 65.5 133.7 68.0 127.7 68.4 124.7 68.3 121.7 68.0 117.2 67.1 112.7 65.5 108.2 63.1 103.7 60.0 87.5 47.0 84.4 43.9 83.2 42.4 82.1 40.9 80.3 37.9 78.7 33.3 77.8 28.8 77.7 24.2 78.1 21.2 78.7 18.2 79.6 15.2 80.9 12.1 83.5 7.6 85.6 4.9 87.1 3.3 89.2 1.5 91.5 0.0 91.5 -3.0M-3 105.5 0 105.5 4.5 103.4 9.4 101.4 15 99.5 21 97.7 33.1 94.7 43.6 92.6 49.6 91.7 55.6 91.1 73.6 90.5 79.6 90.1 86.3 89.3 102.1 87.2 109.7 86.6 118.7 86.3 126.2 86.5 135.2 87.1 151.7 88.6 160.7 89.7 167.4 90.8 173.7 92.4 178.2 93.9 181.3 95.4 183.3 96.6 185.3 98.4 186.3 99.6 187.2 101.4 187.6 103.0 187.6 104.5 187.3 106.0 186.5 107.5 185.4 109.0 183.9 110.5 182 112.0 177.3 115.1 171.6 118.1 163.7 121.8 157.7 124.3 150.2 126.9 142.7 129.1 129.2 132.2 117.2 134.4 109.7 135.5 100.6 136.6 87.2 137.8 86.8 139.3 86.8 140.8M48.1 140.8 48.1 139.3 47.8 137.8 34.6 136.5 27 135.5 21 134.5 15 133.3 9 131.8 3.8 130.2 0 128.8 -3 128.8M144.6 -3.0 144.8 0.0 148.7 0.7 153.2 1.8 157.7 3.3 160.7 4.6 165.2 7.0 168.2 8.9 171.2 11.3 173.6 13.7 175.8 16.2 177.3 18.5 178.7 21.2 180 24.2 180.8 27.3 181.3 30.3 181.4 33.3 181.1 36.4 180.5 39.4 179.5 42.4 178.1 45.4 176.1 48.5 173.6 51.5 171.2 53.7 168.3 56.0 165.9 57.5 163.1 59.1 159.4 60.6 153.2 62.3 148.7 63.1 144.2 63.7 138.2 64.1 133.7 64.3 129.2 64.2 126.2 63.9 123.2 63.4 120.2 62.7 115.7 61.2 112.7 59.9 109.7 58.3 106.7 56.5 102.1 53.3 98 50.0 94.6 47.0 91.7 43.9 90.5 42.4 88.5 39.4 87 36.4 86 33.3 85.4 30.3 85.1 27.3 85.3 22.7 85.9 19.7 86.8 16.7 88.2 13.7 90.1 10.7 91.4 9.1 93.1 7.4 96.1 5.2 97.6 4.4 100.7 3.1 103.7 2.1 108.2 1.1 117 0.0 117.3 -1.5 117.3 -3.0M85 92.4 102.1 91.2 108.2 91.1 115.7 91.2 123.2 91.5 132.2 92.1 141.2 93.0 148.7 94.0 156.2 95.4 160.7 96.4 165.2 97.7 168.2 98.9 170.3 99.9 172.4 101.4 172.7 101.9 173.6 103.0 174.1 104.5 174.1 106.0 173.4 107.5 172.3 109.0 170.7 110.5 168.7 112.0 163.8 115.1 159.2 117.4 154.4 119.6 146.5 122.6 138.2 125.3 129.2 127.7 118.7 129.9 109.7 131.5 97.6 133.1 87.1 134.0 75.1 134.6 64.6 134.7 54.1 134.3 43.6 133.4 34.6 132.3 24 130.3 16.5 128.2 13.5 127.2 9.9 125.7 7.2 124.1 5.1 122.6 3.5 121.1 2.5 119.6 2 118.1 1.9 116.6 2.3 115.1 3 113.6 4.2 112.0 5.8 110.5 7.8 109.0 10.2 107.5 13 106.0 18 103.8 27 100.7 33.1 99.0 39.1 97.5 48.1 95.7 57.1 94.4 64.6 93.7 85 92.4M117.7 4.6 124.7 3.8 132.2 3.4 139.7 3.7 145.7 4.5 151.7 6.0 154.7 7.0 157.7 8.3 162.2 10.7 166.3 13.7 169.7 17.1 171.2 19.0 172.7 21.2 173.5 22.7 174.7 25.8 175.2 27.3 175.7 30.3 175.8 33.3 175.7 34.8 175.1 37.9 174.7 39.4 174.1 40.9 172.7 43.7 170.5 47.0 167.6 50.0 165.2 52.0 161.4 54.5 157.7 56.4 153.2 58.1 148.7 59.2 144.2 60.0 138.2 60.5 133.7 60.5 129.2 60.1 124.7 59.3 120.2 58.1 115.7 56.4 111.9 54.5 108.2 52.3 103.7 48.9 99.8 45.4 97.1 42.4 95.1 39.4 94.2 37.9 92.9 34.8 92.1 31.8 91.6 27.3 91.8 24.2 92 22.7 92.8 19.7 94.2 16.7 96.1 13.8 97.7 12.1 100.6 9.8 103.7 8.2 108.2 6.5 112.7 5.4 117.7 4.6M82.4 95.4 97.6 94.8 109.7 94.9 123.2 95.8 135.2 97.4 140.9 98.4 144.2 99.2 147.1 99.9 151.4 101.4 154.4 103.0 156.2 104.5 157.1 106.0 157.2 107.5 156.6 109.0 155.5 110.5 153.9 112.0 151.9 113.6 149.5 115.1 143.6 118.1 136 121.1 129.2 123.3 120.4 125.7 111.2 127.6 102.1 129.0 93.1 130.1 84.1 130.9 75.1 131.3 66.1 131.3 57.1 131.0 48.1 130.3 40.6 129.2 31.5 127.4 25.5 125.7 21 123.8 18.8 122.6 16.7 121.1 15 119.3 14.4 118.1 14.1 116.6 14.3 115.1 15 113.6 16.1 112.0 17.8 110.5 19.9 109.0 22.6 107.5 25.7 106.0 29.5 104.5 37.6 101.8 44.9 99.9 52.6 98.4 61.6 97.1 70.6 96.2 82.4 95.4M131.9 7.6 136.7 7.7 142.7 8.3 145.7 8.9 148.7 9.6 153.2 11.3 157.7 13.5 160.7 15.5 163.8 18.2 165.2 19.7 166.7 21.8 168.1 24.2 168.8 25.8 169.7 28.8 169.9 30.3 170 33.3 169.6 36.4 169.2 37.9 168.2 40.3 167.1 42.4 166 43.9 163.3 47.0 161.6 48.5 159.2 50.2 156.2 51.9 151.7 53.9 148.7 54.8 144.2 55.8 139.7 56.3 135.2 56.4 130.7 56.0 127.7 55.6 123.3 54.5 120.2 53.5 115.7 51.5 112.7 49.8 109.7 47.8 106.7 45.4 103.8 42.4 101.5 39.4 99.9 36.4 98.7 33.3 98.1 30.3 98 27.3 98.4 24.2 99.3 21.2 100.6 18.8 102.3 16.7 103.8 15.2 106.7 13.2 109.7 11.7 112.7 10.6 117.2 9.3 121.7 8.5 126.2 7.9 131.9 7.6M80.8 98.4 93.1 98.0 103.7 98.2 114.2 99.0 123.2 100.3 130.7 102.0 133.9 103.0 137.4 104.5 139.7 106.2 140.7 107.5 141 109.0 140.5 110.5 139.5 112.0 137.9 113.6 135.7 115.1 133.1 116.6 129.9 118.1 123.2 120.6 117.2 122.4 110.1 124.1 103.7 125.4 96.1 126.5 88.6 127.3 81.1 127.9 73.6 128.1 66.1 128.1 58.6 127.7 52.6 127.2 45.1 126.0 39.1 124.7 34.6 123.3 32.9 122.6 29.8 121.1 27.8 119.6 26.5 118.1 25.9 116.6 25.9 115.1 26.5 113.6 27.6 112.0 29.4 110.5 33.1 108.3 38.2 106.0 42.6 104.5 49.6 102.6 55.6 101.3 64 99.9 72.1 99.0 80.8 98.4M131.3 12.1 135.2 12.1 139.7 12.5 144.2 13.3 148.7 14.7 153.1 16.7 155.4 18.2 157.7 20.0 160.2 22.7 162.1 25.8 163.2 28.8 163.7 31.8 163.5 34.8 162.6 37.9 161 40.9 158.4 43.9 156.2 45.8 153.2 47.7 150.2 49.2 147.2 50.3 144.2 51.0 141.2 51.5 138.2 51.8 133.7 51.7 130.7 51.4 127.7 50.9 124.4 50.0 120.4 48.5 117.4 47.0 115 45.4 112.7 43.7 109.8 40.9 108.5 39.4 106.7 36.4 106 34.8 105.1 31.8 104.8 28.8 105.2 26.2 105.7 24.2 106.7 22.4 108.2 20.3 110.4 18.2 112.7 16.7 117.2 14.7 120.2 13.8 123.2 13.1 127.7 12.4 131.3 12.1M84.6 101.4 91.6 101.4 97.6 101.6 103.7 102.0 109.7 102.7 114.2 103.6 117.8 104.5 121.9 106.0 124.3 107.5 125.6 109.0 125.9 110.5 125.3 112.0 124.1 113.6 122.1 115.1 119.4 116.6 115.9 118.1 111.5 119.6 105.9 121.1 100.6 122.2 90.1 123.8 84.1 124.4 78.1 124.7 72.1 124.8 66.1 124.7 57.1 123.9 52.6 123.2 48.1 122.2 44.7 121.1 41.4 119.6 39.3 118.1 38.2 116.6 37.9 115.1 38.4 113.6 39.5 112.0 40.6 111.2 41.4 110.5 44.1 109.0 47.6 107.5 51.1 106.3 58.1 104.5 66.6 103.0 75.1 102.0 84.6 101.4M128 18.2 130.7 17.9 133.7 17.8 136.7 17.9 139.7 18.3 142.7 19.0 145.7 20.1 148 21.2 150.3 22.7 152 24.2 153.3 25.8 154.7 28.3 155.3 30.3 155.5 31.8 155.5 33.3 155.2 34.8 154.7 36.4 153.9 37.9 152.8 39.4 151.3 40.9 149.3 42.4 145.7 44.3 141.2 45.6 136.7 46.0 133.7 46.0 130.7 45.6 126.2 44.4 124.7 43.8 121.9 42.4 118.7 40.2 117.2 38.8 115.7 37.0 114.4 34.8 113.8 33.3 113.4 31.8 113.3 30.3 113.4 28.8 113.8 27.3 114.2 26.3 115.7 24.0 116.9 22.7 119.1 21.2 121.7 19.9 123.2 19.4 128 18.2M74.1 106.0 81.1 105.5 87.1 105.3 93.1 105.6 99.1 106.3 104.7 107.5 108.1 109.0 109.5 110.5 109.7 112.0 108.7 113.6 106.6 115.1 103.3 116.6 98.6 118.1 91.3 119.6 82.6 120.6 75.1 120.9 67.6 120.6 61.6 119.8 58.6 119.1 55.6 118.1 53.1 116.6 52.1 115.1 52.2 113.6 53.5 112.0 55.8 110.5 60.1 108.8 64.9 107.5 74.1 106.0" fill="none" stroke="#504a30" stroke-opacity="0.75" stroke-width="0.65"/>
</g></g>
<path d="M336.9 350.6V488.90000000000003H543.8000000000001" stroke="#000" stroke-width="1.3" fill="none"/>
<path d="M336.9 350.6H543.5V488.40000000000003" stroke="#000" stroke-width="0.9" fill="none"/>
<text x="332.4" y="353.5" font-size="8.5" text-anchor="end" fill="#000" >3.5</text>
<text x="332.4" y="381.1" font-size="8.5" text-anchor="end" fill="#000" >3.0</text>
<text x="332.4" y="408.6" font-size="8.5" text-anchor="end" fill="#000" >2.5</text>
<text x="332.4" y="436.2" font-size="8.5" text-anchor="end" fill="#000" >2.0</text>
<text x="332.4" y="463.7" font-size="8.5" text-anchor="end" fill="#000" >1.5</text>
<text x="332.4" y="491.3" font-size="8.5" text-anchor="end" fill="#000" >1.0</text>
<text x="337.4" y="499.8" font-size="8.5" text-anchor="middle" fill="#000" >0</text>
<text x="416.6" y="499.8" font-size="8.5" text-anchor="middle" fill="#000" >5</text>
<text x="495.7" y="499.8" font-size="8.5" text-anchor="middle" fill="#000" >10</text>
<path d="M336.9 350.6h-2.6M336.9 364.4h-1.5M336.9 378.2h-2.6M336.9 391.9h-1.5M336.9 405.7h-2.6M336.9 419.5h-1.5M336.9 433.3h-2.6M336.9 447.1h-1.5M336.9 460.8h-2.6M336.9 474.6h-1.5M336.9 488.4h-2.6M337.4 488.90000000000003v2.6M377.0 488.90000000000003v1.5M416.6 488.90000000000003v2.6M456.1 488.90000000000003v1.5M495.7 488.90000000000003v2.6M535.3 488.90000000000003v1.5" stroke="#000" stroke-width="1" fill="none"/>
<text x="439.7" y="515.0" font-size="8.5" text-anchor="middle"><tspan font-style="italic">k</tspan> (Å<tspan font-size="5.5" dy="-3">−1</tspan><tspan dy="3">)</tspan></text>
<text transform="translate(316.0 419.5) rotate(-90)" font-size="8.5" text-anchor="middle">R+ΔR (Å)</text>
<text x="354.4" y="375.6" font-size="15" fill="#fff">PdO</text>
<text x="400.6" y="127" font-size="9" text-anchor="start" fill="#000" textLength="22.8" lengthAdjust="spacingAndGlyphs" >Pd−O</text>
<text x="465" y="244" font-size="9" text-anchor="start" fill="#000" textLength="26" lengthAdjust="spacingAndGlyphs" >Pd−Pd</text>
<text x="453.6" y="384.6" font-size="9" text-anchor="start" fill="#000" textLength="38.8" lengthAdjust="spacingAndGlyphs" >Pd−O−Pd</text>
<text x="404" y="467" font-size="9" text-anchor="start" fill="#000" textLength="22.4" lengthAdjust="spacingAndGlyphs" >Pd−O</text>
</svg></body></html>
